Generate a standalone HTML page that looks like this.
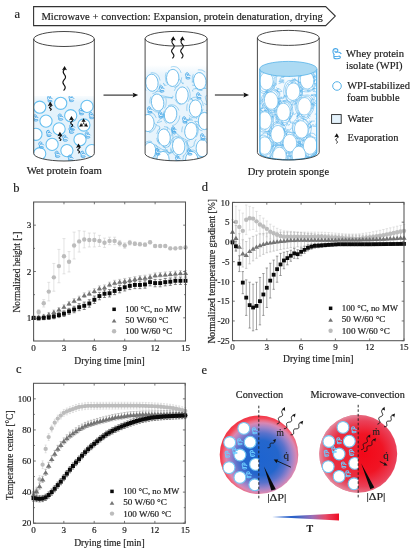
<!DOCTYPE html>
<html><head><meta charset="utf-8"><title>Figure</title>
<style>html,body{margin:0;padding:0;background:#fff}svg{display:block}text{font-family:"Liberation Serif",serif;stroke:#222;stroke-width:0.18px}</style>
</head><body>
<svg width="413" height="550" viewBox="0 0 413 550">
<rect width="413" height="550" fill="#fff"/>
<text x="14.60" y="17.60" font-size="12.5" fill="#222">a</text>
<polygon points="33.6,6.6 325.7,6.6 335.3,16.1 325.7,25.6 33.6,25.6" fill="#fff" stroke="#333" stroke-width="1.1"/>
<text x="41.40" y="19.50" font-size="10.6" textLength="281.4" lengthAdjust="spacingAndGlyphs" fill="#222">Microwave + convection: Expansion, protein denaturation, drying</text>
<defs><linearGradient id="foamfade" x1="0" y1="0" x2="0" y2="1"><stop offset="0" stop-color="#e4f2fb" stop-opacity="0"/><stop offset="0.12" stop-color="#e4f2fb" stop-opacity="1"/><stop offset="1" stop-color="#e4f2fb"/></linearGradient><linearGradient id="foamfade2" x1="0" y1="0" x2="0" y2="1"><stop offset="0" stop-color="#e8f4fc" stop-opacity="0"/><stop offset="0.1" stop-color="#e8f4fc" stop-opacity="1"/><stop offset="1" stop-color="#e8f4fc"/></linearGradient><clipPath id="cb1"><path d="M33.7,96 L33.7,153.5 A30.3,7.5 0 0 0 94.3,153.5 L94.3,96 Z"/></clipPath><clipPath id="cb2"><path d="M145.1,64 L145.1,153.5 A31,7.5 0 0 0 207.1,153.5 L207.1,64 Z"/></clipPath><clipPath id="cb3"><path d="M259.7,68.9 L259.7,152.5 A28.6,7.3 0 0 0 316.9,152.5 L316.9,68.9 Z"/></clipPath></defs>
<g clip-path="url(#cb1)">
<rect x="33" y="94" width="62" height="70" fill="url(#foamfade)"/>
<circle cx="39.7" cy="107.2" r="6.1" fill="#fff" stroke="#68c0f0" stroke-width="1.1"/>
<circle cx="60.7" cy="103.3" r="6.1" fill="#fff" stroke="#68c0f0" stroke-width="1.1"/>
<circle cx="87" cy="106.4" r="6.1" fill="#fff" stroke="#68c0f0" stroke-width="1.1"/>
<circle cx="46" cy="121.1" r="6.1" fill="#fff" stroke="#68c0f0" stroke-width="1.1"/>
<circle cx="70.7" cy="115.7" r="6.1" fill="#fff" stroke="#68c0f0" stroke-width="1.1"/>
<circle cx="59.1" cy="128.9" r="6.1" fill="#fff" stroke="#68c0f0" stroke-width="1.1"/>
<circle cx="83.9" cy="125" r="6.1" fill="#fff" stroke="#68c0f0" stroke-width="1.1"/>
<circle cx="35.9" cy="134.3" r="6.1" fill="#fff" stroke="#68c0f0" stroke-width="1.1"/>
<circle cx="52.1" cy="144.4" r="6.1" fill="#fff" stroke="#68c0f0" stroke-width="1.1"/>
<circle cx="80" cy="139.7" r="6.1" fill="#fff" stroke="#68c0f0" stroke-width="1.1"/>
<circle cx="66.9" cy="150.6" r="6.1" fill="#fff" stroke="#68c0f0" stroke-width="1.1"/>
<circle cx="39.7" cy="153.7" r="6.1" fill="#fff" stroke="#68c0f0" stroke-width="1.1"/>
<circle cx="91.7" cy="150.6" r="6.1" fill="#fff" stroke="#68c0f0" stroke-width="1.1"/>
<path transform="translate(71.5,98.6) scale(0.62)" d="M-2.5,1.2 C-5,-0.8 -4.5,-5 -1.5,-5.2 C1,-5.3 1.5,-3 0,-2 C-1,-1.3 -2.5,-2 -2,-3 M-1.5,-1.3 C1,-2.3 3.5,-1.3 4.3,0.2 M-3.2,0.7 L-3,4.2 C-2,5.2 2,5 3,4.2 C4,3.2 3,2.2 1.5,2.4 L-2.5,2.7" fill="none" stroke="#48a8e8" stroke-width="1.45"/>
<path transform="translate(81.6,111.8) scale(0.62)" d="M-2.5,1.2 C-5,-0.8 -4.5,-5 -1.5,-5.2 C1,-5.3 1.5,-3 0,-2 C-1,-1.3 -2.5,-2 -2,-3 M-1.5,-1.3 C1,-2.3 3.5,-1.3 4.3,0.2 M-3.2,0.7 L-3,4.2 C-2,5.2 2,5 3,4.2 C4,3.2 3,2.2 1.5,2.4 L-2.5,2.7" fill="none" stroke="#48a8e8" stroke-width="1.45"/>
<path transform="translate(60.7,117.2) scale(0.62)" d="M-2.5,1.2 C-5,-0.8 -4.5,-5 -1.5,-5.2 C1,-5.3 1.5,-3 0,-2 C-1,-1.3 -2.5,-2 -2,-3 M-1.5,-1.3 C1,-2.3 3.5,-1.3 4.3,0.2 M-3.2,0.7 L-3,4.2 C-2,5.2 2,5 3,4.2 C4,3.2 3,2.2 1.5,2.4 L-2.5,2.7" fill="none" stroke="#48a8e8" stroke-width="1.45"/>
<path transform="translate(35.9,118) scale(0.62)" d="M-2.5,1.2 C-5,-0.8 -4.5,-5 -1.5,-5.2 C1,-5.3 1.5,-3 0,-2 C-1,-1.3 -2.5,-2 -2,-3 M-1.5,-1.3 C1,-2.3 3.5,-1.3 4.3,0.2 M-3.2,0.7 L-3,4.2 C-2,5.2 2,5 3,4.2 C4,3.2 3,2.2 1.5,2.4 L-2.5,2.7" fill="none" stroke="#48a8e8" stroke-width="1.45"/>
<path transform="translate(91.7,115.7) scale(0.62)" d="M-2.5,1.2 C-5,-0.8 -4.5,-5 -1.5,-5.2 C1,-5.3 1.5,-3 0,-2 C-1,-1.3 -2.5,-2 -2,-3 M-1.5,-1.3 C1,-2.3 3.5,-1.3 4.3,0.2 M-3.2,0.7 L-3,4.2 C-2,5.2 2,5 3,4.2 C4,3.2 3,2.2 1.5,2.4 L-2.5,2.7" fill="none" stroke="#48a8e8" stroke-width="1.45"/>
<path transform="translate(72.3,127.3) scale(0.62)" d="M-2.5,1.2 C-5,-0.8 -4.5,-5 -1.5,-5.2 C1,-5.3 1.5,-3 0,-2 C-1,-1.3 -2.5,-2 -2,-3 M-1.5,-1.3 C1,-2.3 3.5,-1.3 4.3,0.2 M-3.2,0.7 L-3,4.2 C-2,5.2 2,5 3,4.2 C4,3.2 3,2.2 1.5,2.4 L-2.5,2.7" fill="none" stroke="#48a8e8" stroke-width="1.45"/>
<path transform="translate(49,133.5) scale(0.62)" d="M-2.5,1.2 C-5,-0.8 -4.5,-5 -1.5,-5.2 C1,-5.3 1.5,-3 0,-2 C-1,-1.3 -2.5,-2 -2,-3 M-1.5,-1.3 C1,-2.3 3.5,-1.3 4.3,0.2 M-3.2,0.7 L-3,4.2 C-2,5.2 2,5 3,4.2 C4,3.2 3,2.2 1.5,2.4 L-2.5,2.7" fill="none" stroke="#48a8e8" stroke-width="1.45"/>
<path transform="translate(65.3,138.2) scale(0.62)" d="M-2.5,1.2 C-5,-0.8 -4.5,-5 -1.5,-5.2 C1,-5.3 1.5,-3 0,-2 C-1,-1.3 -2.5,-2 -2,-3 M-1.5,-1.3 C1,-2.3 3.5,-1.3 4.3,0.2 M-3.2,0.7 L-3,4.2 C-2,5.2 2,5 3,4.2 C4,3.2 3,2.2 1.5,2.4 L-2.5,2.7" fill="none" stroke="#48a8e8" stroke-width="1.45"/>
<path transform="translate(41.3,145.1) scale(0.62)" d="M-2.5,1.2 C-5,-0.8 -4.5,-5 -1.5,-5.2 C1,-5.3 1.5,-3 0,-2 C-1,-1.3 -2.5,-2 -2,-3 M-1.5,-1.3 C1,-2.3 3.5,-1.3 4.3,0.2 M-3.2,0.7 L-3,4.2 C-2,5.2 2,5 3,4.2 C4,3.2 3,2.2 1.5,2.4 L-2.5,2.7" fill="none" stroke="#48a8e8" stroke-width="1.45"/>
<path transform="translate(87.8,135.1) scale(0.62)" d="M-2.5,1.2 C-5,-0.8 -4.5,-5 -1.5,-5.2 C1,-5.3 1.5,-3 0,-2 C-1,-1.3 -2.5,-2 -2,-3 M-1.5,-1.3 C1,-2.3 3.5,-1.3 4.3,0.2 M-3.2,0.7 L-3,4.2 C-2,5.2 2,5 3,4.2 C4,3.2 3,2.2 1.5,2.4 L-2.5,2.7" fill="none" stroke="#48a8e8" stroke-width="1.45"/>
<path transform="translate(57.6,154.4) scale(0.62)" d="M-2.5,1.2 C-5,-0.8 -4.5,-5 -1.5,-5.2 C1,-5.3 1.5,-3 0,-2 C-1,-1.3 -2.5,-2 -2,-3 M-1.5,-1.3 C1,-2.3 3.5,-1.3 4.3,0.2 M-3.2,0.7 L-3,4.2 C-2,5.2 2,5 3,4.2 C4,3.2 3,2.2 1.5,2.4 L-2.5,2.7" fill="none" stroke="#48a8e8" stroke-width="1.45"/>
<path transform="translate(70.7,158.3) scale(0.62)" d="M-2.5,1.2 C-5,-0.8 -4.5,-5 -1.5,-5.2 C1,-5.3 1.5,-3 0,-2 C-1,-1.3 -2.5,-2 -2,-3 M-1.5,-1.3 C1,-2.3 3.5,-1.3 4.3,0.2 M-3.2,0.7 L-3,4.2 C-2,5.2 2,5 3,4.2 C4,3.2 3,2.2 1.5,2.4 L-2.5,2.7" fill="none" stroke="#48a8e8" stroke-width="1.45"/>
<path transform="translate(83.1,154.4) scale(0.62)" d="M-2.5,1.2 C-5,-0.8 -4.5,-5 -1.5,-5.2 C1,-5.3 1.5,-3 0,-2 C-1,-1.3 -2.5,-2 -2,-3 M-1.5,-1.3 C1,-2.3 3.5,-1.3 4.3,0.2 M-3.2,0.7 L-3,4.2 C-2,5.2 2,5 3,4.2 C4,3.2 3,2.2 1.5,2.4 L-2.5,2.7" fill="none" stroke="#48a8e8" stroke-width="1.45"/>
<path transform="translate(71.5,130.4) scale(0.62)" d="M-2.5,1.2 C-5,-0.8 -4.5,-5 -1.5,-5.2 C1,-5.3 1.5,-3 0,-2 C-1,-1.3 -2.5,-2 -2,-3 M-1.5,-1.3 C1,-2.3 3.5,-1.3 4.3,0.2 M-3.2,0.7 L-3,4.2 C-2,5.2 2,5 3,4.2 C4,3.2 3,2.2 1.5,2.4 L-2.5,2.7" fill="none" stroke="#48a8e8" stroke-width="1.45"/>
<path transform="translate(50,99) scale(0.62)" d="M-2.5,1.2 C-5,-0.8 -4.5,-5 -1.5,-5.2 C1,-5.3 1.5,-3 0,-2 C-1,-1.3 -2.5,-2 -2,-3 M-1.5,-1.3 C1,-2.3 3.5,-1.3 4.3,0.2 M-3.2,0.7 L-3,4.2 C-2,5.2 2,5 3,4.2 C4,3.2 3,2.2 1.5,2.4 L-2.5,2.7" fill="none" stroke="#48a8e8" stroke-width="1.45"/>
</g>
<path d="M33.7,39 L33.7,153.5 A30.3,7.5 0 0 0 94.3,153.5 L94.3,39" fill="none" stroke="#333" stroke-width="0.9"/>
<ellipse cx="64" cy="39" rx="30.3" ry="7.5" fill="none" stroke="#333" stroke-width="0.9"/>
<path d="M63.90,90.20 L64.29,89.69 L64.64,89.17 L64.92,88.65 L65.10,88.14 L65.18,87.61 L65.13,87.09 L64.98,86.56 L64.73,86.03 L64.41,85.49 L64.05,84.96 L63.70,84.42 L63.38,83.89 L63.13,83.35 L62.97,82.83 L62.93,82.30 L63.00,81.78 L63.19,81.26 L63.47,80.74 L63.82,80.23 L64.20,79.71 L64.59,79.20 L64.94,78.68 L65.22,78.17 L65.40,77.65 L65.48,77.12 L65.44,76.60 L65.28,76.07 L65.03,75.54 L64.71,75.00 L64.36,74.47 L64.00,73.93 L63.68,73.40 L63.43,72.87 L63.27,72.34 L63.23,71.81 L63.31,71.29 L63.49,70.77 L63.77,70.25 L64.12,69.74 L64.51,69.22" fill="none" stroke="#111" stroke-width="1.2" stroke-linecap="round"/>
<path d="M64.60,66.00 L66.97,70.37 L64.50,69.52 L61.98,70.23 Z" fill="#111"/>
<path d="M50.40,110.20 L50.61,110.06 L50.80,109.93 L50.98,109.79 L51.12,109.66 L51.22,109.53 L51.27,109.40 L51.28,109.26 L51.23,109.13 L51.14,109.01 L51.01,108.88 L50.84,108.75 L50.64,108.63 L50.43,108.50 L50.22,108.37 L50.01,108.25 L49.82,108.12 L49.66,107.99 L49.54,107.87 L49.47,107.74 L49.44,107.61 L49.46,107.48 L49.53,107.34 L49.65,107.21 L49.80,107.08 L49.98,106.94 L50.18,106.81 L50.39,106.67 L50.59,106.54 L50.78,106.40 L50.95,106.27 L51.07,106.13 L51.16,106.00 L51.20,105.87 L51.19,105.74 L51.12,105.61 L51.02,105.48 L50.87,105.35 L50.69,105.23 L50.49,105.10 L50.28,104.97" fill="none" stroke="#111" stroke-width="1.1" stroke-linecap="round"/>
<path d="M50.20,101.60 L52.90,106.04 L50.29,105.29 L47.71,106.16 Z" fill="#111"/>
<path d="M71.70,126.50 L71.90,126.31 L72.10,126.13 L72.27,125.94 L72.41,125.76 L72.51,125.57 L72.56,125.39 L72.56,125.21 L72.51,125.03 L72.42,124.85 L72.29,124.68 L72.11,124.50 L71.92,124.32 L71.70,124.15 L71.49,123.97 L71.28,123.80 L71.09,123.62 L70.93,123.45 L70.81,123.27 L70.73,123.09 L70.70,122.91 L70.72,122.73 L70.79,122.55 L70.90,122.36 L71.05,122.18 L71.23,121.99 L71.43,121.81 L71.63,121.62 L71.83,121.43 L72.02,121.25 L72.18,121.06 L72.31,120.88 L72.39,120.69 L72.43,120.51 L72.41,120.33 L72.35,120.15 L72.24,119.98 L72.10,119.80 L71.91,119.62 L71.71,119.45 L71.50,119.27" fill="none" stroke="#111" stroke-width="1.1" stroke-linecap="round"/>
<path d="M71.40,115.90 L74.13,120.32 L71.50,119.59 L68.93,120.47 Z" fill="#111"/>
<path d="M60.10,140.50 L60.31,140.36 L60.50,140.22 L60.68,140.09 L60.82,139.95 L60.92,139.82 L60.97,139.68 L60.98,139.55 L60.93,139.42 L60.84,139.28 L60.71,139.15 L60.54,139.02 L60.34,138.90 L60.13,138.77 L59.92,138.64 L59.71,138.51 L59.52,138.38 L59.36,138.25 L59.24,138.12 L59.17,137.99 L59.14,137.86 L59.16,137.72 L59.23,137.59 L59.35,137.45 L59.50,137.32 L59.68,137.18 L59.88,137.04 L60.09,136.90 L60.29,136.77 L60.48,136.63 L60.64,136.49 L60.77,136.35 L60.86,136.22 L60.90,136.09 L60.88,135.95 L60.82,135.82 L60.72,135.69 L60.57,135.56 L60.39,135.43 L60.19,135.30 L59.98,135.17" fill="none" stroke="#111" stroke-width="1.1" stroke-linecap="round"/>
<path d="M59.90,131.80 L62.60,136.24 L59.98,135.49 L57.40,136.36 Z" fill="#111"/>
<path d="M78.70,152.90 L78.91,152.74 L79.10,152.59 L79.27,152.43 L79.42,152.27 L79.52,152.12 L79.57,151.96 L79.57,151.81 L79.53,151.66 L79.44,151.51 L79.30,151.36 L79.13,151.21 L78.94,151.06 L78.73,150.91 L78.51,150.76 L78.31,150.61 L78.12,150.46 L77.96,150.31 L77.84,150.16 L77.76,150.01 L77.74,149.86 L77.76,149.70 L77.83,149.55 L77.94,149.39 L78.09,149.24 L78.28,149.08 L78.48,148.92 L78.68,148.76 L78.89,148.61 L79.08,148.45 L79.24,148.29 L79.37,148.14 L79.45,147.98 L79.49,147.83 L79.48,147.67 L79.42,147.52 L79.31,147.37 L79.17,147.22 L78.99,147.07 L78.78,146.92 L78.57,146.77" fill="none" stroke="#111" stroke-width="1.1" stroke-linecap="round"/>
<path d="M78.50,143.40 L81.19,147.84 L78.58,147.09 L76.00,147.95 Z" fill="#111"/>
<path d="M83.60,123.30 L83.60,123.25 L83.60,123.19 L83.60,123.14 L83.60,123.08 L83.60,123.03 L83.60,122.97 L83.61,122.92 L83.61,122.86 L83.61,122.81 L83.61,122.76 L83.61,122.70 L83.61,122.65 L83.61,122.59 L83.61,122.54 L83.61,122.48 L83.61,122.43 L83.61,122.38 L83.61,122.32 L83.61,122.27 L83.61,122.21 L83.61,122.16 L83.61,122.10 L83.61,122.05 L83.61,121.99 L83.61,121.94 L83.61,121.89 L83.61,121.83 L83.61,121.78 L83.61,121.72 L83.61,121.67 L83.61,121.61 L83.61,121.56 L83.61,121.51 L83.60,121.45 L83.60,121.40 L83.60,121.34 L83.60,121.29 L83.60,121.23 L83.60,121.18 L83.60,121.12" fill="none" stroke="#111" stroke-width="0.8" stroke-linecap="round"/>
<path d="M83.60,118.20 L85.70,122.10 L83.60,121.40 L81.50,122.10 Z" fill="#111"/>
<path d="M83.35,123.77 L83.31,123.80 L83.26,123.83 L83.22,123.86 L83.17,123.89 L83.13,123.92 L83.08,123.96 L83.04,123.99 L82.99,124.02 L82.95,124.05 L82.90,124.08 L82.86,124.11 L82.82,124.14 L82.77,124.17 L82.73,124.20 L82.68,124.23 L82.64,124.26 L82.59,124.29 L82.55,124.33 L82.50,124.36 L82.46,124.39 L82.41,124.42 L82.37,124.45 L82.32,124.48 L82.28,124.51 L82.24,124.54 L82.19,124.58 L82.15,124.61 L82.10,124.64 L82.06,124.67 L82.01,124.70 L81.97,124.73 L81.93,124.77 L81.88,124.80 L81.84,124.83 L81.79,124.86 L81.75,124.89 L81.70,124.92 L81.66,124.96 L81.62,124.99 L81.57,125.02" fill="none" stroke="#111" stroke-width="0.8" stroke-linecap="round"/>
<path d="M79.18,126.70 L81.17,122.74 L81.80,124.86 L83.58,126.18 Z" fill="#111"/>
<path d="M83.85,123.77 L83.89,123.80 L83.93,123.84 L83.98,123.87 L84.02,123.90 L84.07,123.93 L84.11,123.96 L84.15,123.99 L84.20,124.03 L84.24,124.06 L84.29,124.09 L84.33,124.12 L84.38,124.15 L84.42,124.18 L84.46,124.22 L84.51,124.25 L84.55,124.28 L84.60,124.31 L84.64,124.34 L84.69,124.37 L84.73,124.40 L84.78,124.44 L84.82,124.47 L84.86,124.50 L84.91,124.53 L84.95,124.56 L85.00,124.59 L85.04,124.62 L85.09,124.65 L85.13,124.68 L85.18,124.71 L85.22,124.74 L85.27,124.77 L85.31,124.81 L85.36,124.84 L85.40,124.87 L85.45,124.90 L85.49,124.93 L85.54,124.96 L85.58,124.99 L85.63,125.02" fill="none" stroke="#111" stroke-width="0.8" stroke-linecap="round"/>
<path d="M88.02,126.70 L83.62,126.18 L85.40,124.86 L86.03,122.74 Z" fill="#111"/>
<path d="M103.5,95.1 L134,95.1" stroke="#111" stroke-width="1"/><path d="M138.2,95.1 L132.6,92.7 L133.6,95.1 L132.6,97.5 Z" fill="#111"/>
<path d="M214.9,95 L245,95" stroke="#111" stroke-width="1"/><path d="M249,95 L243.4,92.6 L244.4,95 L243.4,97.4 Z" fill="#111"/>
<g clip-path="url(#cb2)">
<rect x="144" y="65" width="64" height="100" fill="url(#foamfade2)"/>
<ellipse cx="152.1" cy="83.2" rx="8.2" ry="10.5" transform="rotate(4 151.9 82.7)" fill="none" stroke="#56b2e8" stroke-width="0.5" stroke-dasharray="13.5,7.4"/>
<ellipse cx="173.5" cy="77.0" rx="8.2" ry="10.5" transform="rotate(2 172.7 77.9)" fill="none" stroke="#56b2e8" stroke-width="0.5" stroke-dasharray="13.5,6.9"/>
<ellipse cx="200.6" cy="80.3" rx="8.2" ry="10.5" transform="rotate(-9 199.8 81.1)" fill="none" stroke="#56b2e8" stroke-width="0.5" stroke-dasharray="8.0,6.3"/>
<ellipse cx="182.1" cy="94.5" rx="8.2" ry="10.5" transform="rotate(-3 182 95.5)" fill="none" stroke="#56b2e8" stroke-width="0.5" stroke-dasharray="8.2,8.5"/>
<ellipse cx="158.1" cy="101.8" rx="8.2" ry="10.5" transform="rotate(-1 157.6 102.5)" fill="none" stroke="#56b2e8" stroke-width="0.5" stroke-dasharray="7.1,6.7"/>
<ellipse cx="194.8" cy="107.5" rx="8.2" ry="10.5" transform="rotate(11 195.5 108.5)" fill="none" stroke="#56b2e8" stroke-width="0.5" stroke-dasharray="7.7,4.3"/>
<ellipse cx="171.6" cy="115.2" rx="8.2" ry="10.5" transform="rotate(2 170.6 114.5)" fill="none" stroke="#56b2e8" stroke-width="0.5" stroke-dasharray="13.7,6.2"/>
<ellipse cx="148.3" cy="122.4" rx="8.2" ry="10.5" transform="rotate(13 147.9 123)" fill="none" stroke="#56b2e8" stroke-width="0.5" stroke-dasharray="11.5,8.8"/>
<ellipse cx="164.9" cy="137.1" rx="8.2" ry="10.5" transform="rotate(-9 164.1 137.5)" fill="none" stroke="#56b2e8" stroke-width="0.5" stroke-dasharray="7.3,3.9"/>
<ellipse cx="190.0" cy="130.6" rx="8.2" ry="10.5" transform="rotate(9 190.9 131)" fill="none" stroke="#56b2e8" stroke-width="0.5" stroke-dasharray="6.0,7.1"/>
<ellipse cx="204.2" cy="120.6" rx="8.2" ry="10.5" transform="rotate(10 204.5 121)" fill="none" stroke="#56b2e8" stroke-width="0.5" stroke-dasharray="9.8,4.9"/>
<ellipse cx="178.7" cy="146.6" rx="8.2" ry="10.5" transform="rotate(-17 178.7 146.2)" fill="none" stroke="#56b2e8" stroke-width="0.5" stroke-dasharray="13.8,3.1"/>
<ellipse cx="150.0" cy="151.7" rx="8.2" ry="10.5" transform="rotate(-9 149.5 151)" fill="none" stroke="#56b2e8" stroke-width="0.5" stroke-dasharray="12.3,5.2"/>
<ellipse cx="202.5" cy="147.2" rx="8.2" ry="10.5" transform="rotate(-14 202.3 148.2)" fill="none" stroke="#56b2e8" stroke-width="0.5" stroke-dasharray="7.4,8.7"/>
<ellipse cx="191.1" cy="160.5" rx="8.2" ry="10.5" transform="rotate(13 191.7 160)" fill="none" stroke="#56b2e8" stroke-width="0.5" stroke-dasharray="13.5,5.1"/>
<ellipse cx="162.7" cy="160.0" rx="8.2" ry="10.5" transform="rotate(8 163 160)" fill="none" stroke="#56b2e8" stroke-width="0.5" stroke-dasharray="6.9,7.5"/>
<path d="M193.8,145.7 q-4.6,4.5 -6.5,-2.5 t1.8,6.7" fill="none" stroke="#56b2e8" stroke-width="0.55"/>
<path d="M166.4,151.3 q0.5,-1.9 -2.9,-5.2 t-6.7,-5.6" fill="none" stroke="#56b2e8" stroke-width="0.55"/>
<path d="M187.4,157.7 q-3.4,-4.5 7.8,0.5 t-1.5,-4.2" fill="none" stroke="#56b2e8" stroke-width="0.55"/>
<path d="M181.6,142.7 q-0.4,-0.8 -7.1,6.7 t-7.5,-0.1" fill="none" stroke="#56b2e8" stroke-width="0.55"/>
<path d="M196.3,81.5 q2.3,4.5 2.1,4.6 t-6.3,-1.0" fill="none" stroke="#56b2e8" stroke-width="0.55"/>
<path d="M155.0,144.3 q-2.1,-0.5 8.0,5.6 t7.6,-0.7" fill="none" stroke="#56b2e8" stroke-width="0.55"/>
<path d="M175.3,134.2 q-0.2,-2.1 -1.5,-5.7 t-2.0,7.8" fill="none" stroke="#56b2e8" stroke-width="0.55"/>
<path d="M203.6,125.2 q-0.0,-1.6 -6.6,-3.6 t4.5,5.9" fill="none" stroke="#56b2e8" stroke-width="0.55"/>
<path d="M167.7,139.2 q2.7,1.9 2.6,4.2 t-2.2,3.3" fill="none" stroke="#56b2e8" stroke-width="0.55"/>
<path d="M162.9,112.7 q2.7,1.9 -3.3,7.1 t2.4,1.3" fill="none" stroke="#56b2e8" stroke-width="0.55"/>
<path d="M146.7,118.1 q-2.5,1.7 -0.6,5.1 t2.4,4.8" fill="none" stroke="#56b2e8" stroke-width="0.55"/>
<path d="M166.9,126.7 q2.4,3.3 -2.4,5.5 t5.9,3.0" fill="none" stroke="#56b2e8" stroke-width="0.55"/>
<path d="M204.6,154.2 q0.2,0.3 -5.3,5.4 t7.0,-0.4" fill="none" stroke="#56b2e8" stroke-width="0.55"/>
<path d="M187.5,133.3 q2.3,-3.3 4.5,1.3 t2.6,-1.3" fill="none" stroke="#56b2e8" stroke-width="0.55"/>
<path d="M183.4,138.2 q1.4,2.2 -7.6,-5.4 t-0.9,2.4" fill="none" stroke="#56b2e8" stroke-width="0.55"/>
<path d="M159.1,130.4 q1.3,-4.6 -0.5,-4.4 t-7.1,-5.9" fill="none" stroke="#56b2e8" stroke-width="0.55"/>
<path d="M165.0,86.0 q-3.1,-4.6 -0.6,-1.9 t1.8,1.4" fill="none" stroke="#56b2e8" stroke-width="0.55"/>
<path d="M160.3,149.5 q-5.0,-0.9 -3.5,-1.4 t-6.2,5.3" fill="none" stroke="#56b2e8" stroke-width="0.55"/>
<path d="M168.4,73.2 q1.1,-4.1 0.7,-2.6 t1.3,7.3" fill="none" stroke="#56b2e8" stroke-width="0.55"/>
<path d="M195.1,106.9 q3.1,1.4 -2.1,-5.7 t1.5,1.0" fill="none" stroke="#56b2e8" stroke-width="0.55"/>
<path d="M203.4,155.2 q1.1,-1.5 6.3,-8.0 t-6.3,1.1" fill="none" stroke="#56b2e8" stroke-width="0.55"/>
<path d="M182.9,82.4 q1.3,3.9 -2.0,-1.1 t-4.4,-3.3" fill="none" stroke="#56b2e8" stroke-width="0.55"/>
<path d="M204.3,103.4 q4.6,4.1 1.5,-3.8 t7.7,-0.1" fill="none" stroke="#56b2e8" stroke-width="0.55"/>
<path d="M170.9,98.1 q4.8,-0.1 -3.4,-0.4 t-6.0,1.9" fill="none" stroke="#56b2e8" stroke-width="0.55"/>
<path d="M172.6,95.8 q2.8,3.3 -7.8,0.5 t-3.6,7.0" fill="none" stroke="#56b2e8" stroke-width="0.55"/>
<path d="M192.9,91.6 q-2.3,-3.5 7.8,-3.3 t1.7,-0.4" fill="none" stroke="#56b2e8" stroke-width="0.55"/>
<path d="M184.7,123.1 q2.4,-3.8 4.2,-3.2 t0.5,-2.6" fill="none" stroke="#56b2e8" stroke-width="0.55"/>
<path d="M163.8,116.6 q-0.4,-1.4 3.9,1.5 t-7.4,-4.0" fill="none" stroke="#56b2e8" stroke-width="0.55"/>
<path d="M173.3,150.7 q3.9,0.5 -7.8,4.5 t-1.2,1.2" fill="none" stroke="#56b2e8" stroke-width="0.55"/>
<path d="M188.5,125.6 q-0.2,4.1 -1.8,-1.7 t5.6,-4.9" fill="none" stroke="#56b2e8" stroke-width="0.55"/>
<path d="M163.8,143.0 q-4.3,3.4 3.1,-1.1 t-3.4,4.5" fill="none" stroke="#56b2e8" stroke-width="0.55"/>
<path d="M200.6,82.6 q-0.2,0.5 -0.0,-2.7 t-5.5,1.4" fill="none" stroke="#56b2e8" stroke-width="0.55"/>
<path d="M194.7,76.0 q-2.7,3.2 4.7,2.6 t-7.6,3.6" fill="none" stroke="#56b2e8" stroke-width="0.55"/>
<path d="M204.7,157.9 q2.0,-4.5 5.5,-4.5 t2.3,7.2" fill="none" stroke="#56b2e8" stroke-width="0.55"/>
<ellipse cx="151.9" cy="82.7" rx="6.2" ry="8.6" transform="rotate(-5 151.9 82.7)" fill="#fff" stroke="#56b2e8" stroke-width="0.8"/>
<ellipse cx="172.7" cy="77.9" rx="6.2" ry="8.6" transform="rotate(3 172.7 77.9)" fill="#fff" stroke="#56b2e8" stroke-width="0.8"/>
<ellipse cx="199.8" cy="81.1" rx="6.2" ry="8.6" transform="rotate(-8 199.8 81.1)" fill="#fff" stroke="#56b2e8" stroke-width="0.8"/>
<ellipse cx="182" cy="95.5" rx="6.2" ry="8.6" transform="rotate(5 182 95.5)" fill="#fff" stroke="#56b2e8" stroke-width="0.8"/>
<ellipse cx="157.6" cy="102.5" rx="6.2" ry="8.6" transform="rotate(-10 157.6 102.5)" fill="#fff" stroke="#56b2e8" stroke-width="0.8"/>
<ellipse cx="195.5" cy="108.5" rx="6.2" ry="8.6" transform="rotate(0 195.5 108.5)" fill="#fff" stroke="#56b2e8" stroke-width="0.8"/>
<ellipse cx="170.6" cy="114.5" rx="6.2" ry="8.6" transform="rotate(8 170.6 114.5)" fill="#fff" stroke="#56b2e8" stroke-width="0.8"/>
<ellipse cx="147.9" cy="123" rx="6.2" ry="8.6" transform="rotate(0 147.9 123)" fill="#fff" stroke="#56b2e8" stroke-width="0.8"/>
<ellipse cx="164.1" cy="137.5" rx="6.2" ry="8.6" transform="rotate(-5 164.1 137.5)" fill="#fff" stroke="#56b2e8" stroke-width="0.8"/>
<ellipse cx="190.9" cy="131" rx="6.2" ry="8.6" transform="rotate(6 190.9 131)" fill="#fff" stroke="#56b2e8" stroke-width="0.8"/>
<ellipse cx="204.5" cy="121" rx="6.2" ry="8.6" transform="rotate(0 204.5 121)" fill="#fff" stroke="#56b2e8" stroke-width="0.8"/>
<ellipse cx="178.7" cy="146.2" rx="6.2" ry="8.6" transform="rotate(-4 178.7 146.2)" fill="#fff" stroke="#56b2e8" stroke-width="0.8"/>
<ellipse cx="149.5" cy="151" rx="6.2" ry="8.6" transform="rotate(5 149.5 151)" fill="#fff" stroke="#56b2e8" stroke-width="0.8"/>
<ellipse cx="202.3" cy="148.2" rx="6.2" ry="8.6" transform="rotate(0 202.3 148.2)" fill="#fff" stroke="#56b2e8" stroke-width="0.8"/>
<ellipse cx="191.7" cy="160" rx="6.2" ry="8.6" transform="rotate(0 191.7 160)" fill="#fff" stroke="#56b2e8" stroke-width="0.8"/>
<ellipse cx="163" cy="160" rx="6.2" ry="8.6" transform="rotate(0 163 160)" fill="#fff" stroke="#56b2e8" stroke-width="0.8"/>
<path transform="translate(188,76) scale(0.62)" d="M-2.5,1.2 C-5,-0.8 -4.5,-5 -1.5,-5.2 C1,-5.3 1.5,-3 0,-2 C-1,-1.3 -2.5,-2 -2,-3 M-1.5,-1.3 C1,-2.3 3.5,-1.3 4.3,0.2 M-3.2,0.7 L-3,4.2 C-2,5.2 2,5 3,4.2 C4,3.2 3,2.2 1.5,2.4 L-2.5,2.7" fill="none" stroke="#48a8e8" stroke-width="1.45"/>
<path transform="translate(162,89) scale(0.62)" d="M-2.5,1.2 C-5,-0.8 -4.5,-5 -1.5,-5.2 C1,-5.3 1.5,-3 0,-2 C-1,-1.3 -2.5,-2 -2,-3 M-1.5,-1.3 C1,-2.3 3.5,-1.3 4.3,0.2 M-3.2,0.7 L-3,4.2 C-2,5.2 2,5 3,4.2 C4,3.2 3,2.2 1.5,2.4 L-2.5,2.7" fill="none" stroke="#48a8e8" stroke-width="1.45"/>
<path transform="translate(199,96) scale(0.62)" d="M-2.5,1.2 C-5,-0.8 -4.5,-5 -1.5,-5.2 C1,-5.3 1.5,-3 0,-2 C-1,-1.3 -2.5,-2 -2,-3 M-1.5,-1.3 C1,-2.3 3.5,-1.3 4.3,0.2 M-3.2,0.7 L-3,4.2 C-2,5.2 2,5 3,4.2 C4,3.2 3,2.2 1.5,2.4 L-2.5,2.7" fill="none" stroke="#48a8e8" stroke-width="1.45"/>
<path transform="translate(185,120) scale(0.62)" d="M-2.5,1.2 C-5,-0.8 -4.5,-5 -1.5,-5.2 C1,-5.3 1.5,-3 0,-2 C-1,-1.3 -2.5,-2 -2,-3 M-1.5,-1.3 C1,-2.3 3.5,-1.3 4.3,0.2 M-3.2,0.7 L-3,4.2 C-2,5.2 2,5 3,4.2 C4,3.2 3,2.2 1.5,2.4 L-2.5,2.7" fill="none" stroke="#48a8e8" stroke-width="1.45"/>
<path transform="translate(161,115) scale(0.62)" d="M-2.5,1.2 C-5,-0.8 -4.5,-5 -1.5,-5.2 C1,-5.3 1.5,-3 0,-2 C-1,-1.3 -2.5,-2 -2,-3 M-1.5,-1.3 C1,-2.3 3.5,-1.3 4.3,0.2 M-3.2,0.7 L-3,4.2 C-2,5.2 2,5 3,4.2 C4,3.2 3,2.2 1.5,2.4 L-2.5,2.7" fill="none" stroke="#48a8e8" stroke-width="1.45"/>
<path transform="translate(174,130) scale(0.62)" d="M-2.5,1.2 C-5,-0.8 -4.5,-5 -1.5,-5.2 C1,-5.3 1.5,-3 0,-2 C-1,-1.3 -2.5,-2 -2,-3 M-1.5,-1.3 C1,-2.3 3.5,-1.3 4.3,0.2 M-3.2,0.7 L-3,4.2 C-2,5.2 2,5 3,4.2 C4,3.2 3,2.2 1.5,2.4 L-2.5,2.7" fill="none" stroke="#48a8e8" stroke-width="1.45"/>
<path transform="translate(203,137) scale(0.62)" d="M-2.5,1.2 C-5,-0.8 -4.5,-5 -1.5,-5.2 C1,-5.3 1.5,-3 0,-2 C-1,-1.3 -2.5,-2 -2,-3 M-1.5,-1.3 C1,-2.3 3.5,-1.3 4.3,0.2 M-3.2,0.7 L-3,4.2 C-2,5.2 2,5 3,4.2 C4,3.2 3,2.2 1.5,2.4 L-2.5,2.7" fill="none" stroke="#48a8e8" stroke-width="1.45"/>
<path transform="translate(158,152) scale(0.62)" d="M-2.5,1.2 C-5,-0.8 -4.5,-5 -1.5,-5.2 C1,-5.3 1.5,-3 0,-2 C-1,-1.3 -2.5,-2 -2,-3 M-1.5,-1.3 C1,-2.3 3.5,-1.3 4.3,0.2 M-3.2,0.7 L-3,4.2 C-2,5.2 2,5 3,4.2 C4,3.2 3,2.2 1.5,2.4 L-2.5,2.7" fill="none" stroke="#48a8e8" stroke-width="1.45"/>
<path transform="translate(190,152) scale(0.62)" d="M-2.5,1.2 C-5,-0.8 -4.5,-5 -1.5,-5.2 C1,-5.3 1.5,-3 0,-2 C-1,-1.3 -2.5,-2 -2,-3 M-1.5,-1.3 C1,-2.3 3.5,-1.3 4.3,0.2 M-3.2,0.7 L-3,4.2 C-2,5.2 2,5 3,4.2 C4,3.2 3,2.2 1.5,2.4 L-2.5,2.7" fill="none" stroke="#48a8e8" stroke-width="1.45"/>
<path transform="translate(178,159) scale(0.62)" d="M-2.5,1.2 C-5,-0.8 -4.5,-5 -1.5,-5.2 C1,-5.3 1.5,-3 0,-2 C-1,-1.3 -2.5,-2 -2,-3 M-1.5,-1.3 C1,-2.3 3.5,-1.3 4.3,0.2 M-3.2,0.7 L-3,4.2 C-2,5.2 2,5 3,4.2 C4,3.2 3,2.2 1.5,2.4 L-2.5,2.7" fill="none" stroke="#48a8e8" stroke-width="1.45"/>
<path transform="translate(150,110) scale(0.62)" d="M-2.5,1.2 C-5,-0.8 -4.5,-5 -1.5,-5.2 C1,-5.3 1.5,-3 0,-2 C-1,-1.3 -2.5,-2 -2,-3 M-1.5,-1.3 C1,-2.3 3.5,-1.3 4.3,0.2 M-3.2,0.7 L-3,4.2 C-2,5.2 2,5 3,4.2 C4,3.2 3,2.2 1.5,2.4 L-2.5,2.7" fill="none" stroke="#48a8e8" stroke-width="1.45"/>
</g>
<path d="M145.1,38.7 L145.1,153.5 A31,7.3 0 0 0 207.1,153.5 L207.1,38.7" fill="none" stroke="#333" stroke-width="0.9"/>
<ellipse cx="176.1" cy="38.7" rx="31" ry="7.3" fill="none" stroke="#333" stroke-width="0.9"/>
<path d="M172.60,58.00 L172.99,57.55 L173.33,57.09 L173.62,56.64 L173.80,56.18 L173.87,55.72 L173.83,55.25 L173.67,54.78 L173.42,54.31 L173.10,53.83 L172.75,53.36 L172.39,52.88 L172.07,52.40 L171.82,51.93 L171.67,51.46 L171.62,51.00 L171.70,50.53 L171.88,50.07 L172.16,49.62 L172.51,49.16 L172.90,48.71 L173.28,48.26 L173.63,47.81 L173.91,47.35 L174.10,46.89 L174.17,46.43 L174.13,45.96 L173.97,45.49 L173.72,45.02 L173.40,44.54 L173.05,44.07 L172.69,43.59 L172.37,43.12 L172.12,42.64 L171.97,42.17 L171.92,41.71 L172.00,41.24 L172.18,40.79 L172.46,40.33 L172.81,39.88 L173.20,39.42" fill="none" stroke="#111" stroke-width="1.15" stroke-linecap="round"/>
<path d="M173.30,36.20 L175.76,40.58 L173.19,39.72 L170.56,40.41 Z" fill="#111"/>
<path d="M181.70,58.00 L182.09,57.55 L182.43,57.09 L182.72,56.64 L182.90,56.18 L182.97,55.72 L182.93,55.25 L182.77,54.78 L182.52,54.31 L182.20,53.83 L181.85,53.36 L181.49,52.88 L181.17,52.40 L180.92,51.93 L180.77,51.46 L180.72,51.00 L180.80,50.53 L180.98,50.07 L181.26,49.62 L181.61,49.16 L182.00,48.71 L182.38,48.26 L182.73,47.81 L183.01,47.35 L183.20,46.89 L183.27,46.43 L183.23,45.96 L183.07,45.49 L182.82,45.02 L182.50,44.54 L182.15,44.07 L181.79,43.59 L181.47,43.12 L181.22,42.64 L181.07,42.17 L181.02,41.71 L181.10,41.24 L181.28,40.79 L181.56,40.33 L181.91,39.88 L182.30,39.42" fill="none" stroke="#111" stroke-width="1.15" stroke-linecap="round"/>
<path d="M182.40,36.20 L184.86,40.58 L182.29,39.72 L179.66,40.41 Z" fill="#111"/>
<g clip-path="url(#cb3)">
<rect x="258" y="66" width="60" height="95" fill="#f4fafe"/>
<path d="M285.7,120.4 L287.9,119.3 L285.2,119.1 L286.2,121.4 M296.2,141.4 L297.9,142.5 L300.5,144.2 L300.0,142.7 M316.9,156.8 L315.4,154.6 L316.2,155.9 L314.6,155.6 M270.2,91.8 L272.6,92.2 L269.6,93.4 L266.9,93.1 M288.5,129.6 L286.5,130.2 L290.0,130.1 L291.6,127.7 M277.6,90.7 L277.2,92.3 L277.4,90.0 L278.7,88.1 M315.5,146.3 L317.4,146.3 L319.5,145.0 L321.8,144.7 M263.3,126.7 L263.7,124.6 L265.5,125.8 L268.5,125.1 M266.0,92.2 L267.3,93.1 L267.8,91.4 L265.6,90.5 M270.3,135.9 L272.1,137.9 L273.9,139.5 L274.4,141.5 M316.3,142.3 L315.2,145.4 L315.8,147.6 L317.5,145.4 M264.9,159.0 L265.4,161.0 L265.7,158.9 L265.2,160.4 M264.3,122.4 L264.4,125.1 L262.8,126.9 L265.2,126.3 M292.9,148.0 L293.6,149.6 L296.3,147.9 L296.3,149.8 M302.6,154.6 L303.7,157.8 L305.7,156.0 L304.2,156.8 M261.3,156.6 L261.5,159.5 L261.4,162.7 L259.6,161.5 M269.4,134.8 L271.1,135.7 L268.1,134.5 L266.6,133.1 M313.1,88.4 L315.2,88.6 L313.6,89.1 L314.6,91.1 M292.8,81.8 L290.6,84.3 L293.4,84.0 L292.5,81.5 M267.3,73.2 L270.6,73.5 L269.5,70.3 L272.3,70.6 M287.5,135.7 L286.0,138.9 L288.3,140.1 L288.0,136.8 M302.5,133.3 L303.4,130.1 L301.7,132.4 L304.3,130.5 M283.6,141.1 L285.3,139.1 L283.7,137.5 L281.4,136.2 M263.7,127.5 L267.0,127.4 L266.7,125.2 L266.4,122.5 M285.0,145.5 L287.6,147.0 L290.2,147.5 L288.3,147.7 M300.2,114.8 L297.7,112.6 L297.6,114.1 L296.7,116.8 M271.0,85.3 L273.3,83.7 L270.2,84.9 L268.9,87.4 M270.7,108.8 L271.9,105.7 L273.5,104.1 L271.7,103.0 M267.0,114.7 L268.7,112.0 L267.9,108.7 L267.6,110.5 M285.6,94.8 L286.1,97.0 L284.4,95.3 L283.1,98.2 M316.9,110.7 L318.3,111.4 L319.4,110.3 L318.8,107.7 M277.2,141.2 L279.0,141.4 L277.5,141.9 L278.5,140.1 M267.3,74.2 L265.7,72.5 L263.7,70.4 L264.9,67.2 M299.4,87.9 L297.6,88.2 L300.0,88.4 L299.6,86.6 M275.1,101.1 L274.2,98.7 L272.0,96.7 L269.6,98.6 M312.5,77.8 L315.2,76.6 L316.8,78.4 L314.5,76.0 M281.2,121.2 L283.5,119.1 L285.8,118.2 L284.6,116.7 M301.6,143.7 L299.7,141.4 L300.5,144.6 L303.9,144.2 M290.7,141.2 L289.3,144.2 L290.6,142.4 L292.7,143.6 M291.5,139.1 L289.9,139.3 L290.5,137.7 L291.1,136.0 M278.8,140.9 L279.9,142.3 L277.0,142.0 L278.5,139.6 M314.8,114.3 L316.4,113.8 L316.8,116.3 L316.1,119.2 M296.7,117.1 L298.1,114.9 L297.3,117.0 L299.2,114.2 M271.3,146.6 L273.8,146.1 L272.1,145.2 L269.6,144.7 M294.7,72.5 L297.2,72.0 L294.7,73.8 L292.4,72.9 M299.8,75.9 L297.5,75.4 L300.7,74.5 L300.4,76.9 M266.5,109.0 L267.8,106.0 L265.7,106.3 L266.7,108.9 M313.6,81.7 L313.9,80.1 L314.5,82.0 L313.7,80.0 M280.0,125.8 L282.3,127.6 L284.1,129.4 L284.1,131.2 M290.3,109.3 L288.6,110.9 L286.8,110.6 L287.6,113.3 M296.7,117.7 L298.3,115.5 L299.5,113.9 L299.3,110.8 M312.3,98.4 L310.9,101.5 L311.6,104.9 L313.0,103.8 M273.1,135.4 L273.0,137.1 L274.2,135.0 L274.6,133.3 M282.8,131.7 L284.7,131.9 L283.3,128.9 L285.0,128.5 M288.8,138.2 L286.0,138.2 L286.6,139.7 L287.8,140.7 M291.5,116.3 L289.9,115.6 L290.7,117.3 L292.6,114.4 M313.7,78.6 L316.8,79.9 L313.9,80.6 L312.8,82.7 M289.4,108.7 L288.2,107.8 L287.2,104.8 L288.2,107.0 M302.6,106.5 L303.2,108.2 L301.7,108.1 L304.1,106.1 M300.6,147.5 L299.0,145.8 L297.0,144.3 L300.0,144.0 M274.2,152.0 L274.1,149.0 L275.0,146.8 L277.6,144.9 M300.0,139.1 L300.2,136.8 L299.9,135.1 L298.6,137.2 M259.6,102.0 L257.9,99.9 L258.2,103.3 L257.1,101.4 M297.9,121.3 L295.7,120.8 L298.5,120.8 L297.6,117.9 M316.8,72.1 L314.6,70.1 L314.5,72.4 L316.3,73.0 M281.2,78.9 L281.1,82.2 L278.8,81.4 L281.3,80.9 M317.7,127.4 L318.3,125.9 L315.8,124.1 L319.1,125.1 M268.4,112.5 L269.6,114.6 L268.4,113.6 L270.6,112.8 M290.1,123.8 L288.7,125.4 L287.2,123.2 L286.6,126.1 M276.5,71.3 L276.5,72.8 L278.2,75.4 L275.6,77.5 M303.2,74.5 L306.5,74.3 L309.5,75.8 L307.3,76.8 M316.4,91.9 L313.1,91.4 L312.7,89.0 L315.8,88.6 M294.6,80.4 L292.9,78.7 L293.4,80.2 L291.6,79.9 M285.1,130.1 L283.2,130.7 L281.1,129.5 L281.6,127.0 M317.9,155.7 L317.7,153.8 L320.1,155.9 L320.7,153.2 M280.2,94.4 L279.1,92.0 L276.8,90.5 L276.9,88.6 M273.7,158.2 L276.5,156.5 L278.1,156.9 L277.8,159.3 M295.8,79.2 L294.2,78.8 L296.6,80.3 L294.0,79.4 M281.0,113.1 L281.6,115.2 L281.5,112.0 L283.0,112.8 M306.7,126.1 L307.0,124.2 L305.2,125.1 L306.0,123.1 M297.6,159.0 L296.4,161.3 L296.3,158.0 L294.3,159.0 M264.7,148.8 L266.2,149.6 L263.9,148.6 L263.1,146.7 M304.8,76.8 L305.4,79.6 L307.2,80.6 L306.8,77.8 M275.7,82.9 L273.8,85.2 L272.7,86.5 L272.0,83.9 M313.2,154.6 L315.2,153.4 L315.9,151.4 L315.0,153.5 M314.1,150.5 L314.2,152.7 L312.7,154.4 L310.9,155.8 M270.5,120.7 L271.3,118.3 L272.6,116.0 L274.0,118.7 M311.0,95.3 L313.5,95.7 L310.9,95.0 L313.7,94.4 M306.5,75.8 L303.5,74.9 L304.9,75.7 L304.7,72.4 M264.0,127.1 L265.8,129.4 L264.7,127.8 L265.2,130.8 M289.8,138.8 L288.1,140.2 L290.8,139.6 L288.3,139.7 M301.5,133.7 L303.5,132.6 L304.8,130.0 L306.7,127.6 M308.2,150.0 L310.9,149.2 L308.0,148.8 L308.7,146.6 M283.8,83.2 L283.6,79.7 L282.3,81.0 L283.0,83.2 M276.2,157.3 L278.2,158.0 L280.3,159.9 L280.6,158.1 M262.7,111.3 L259.8,109.6 L261.5,110.0 L262.3,111.8 M272.9,134.6 L271.3,133.5 L272.1,135.4 L273.5,138.0 M277.4,119.3 L278.4,117.1 L278.2,120.4 L280.1,119.2 M291.3,156.1 L289.4,156.3 L292.6,157.4 L293.3,155.2 M290.1,116.4 L289.6,119.9 L288.5,118.2 L290.9,118.4 M280.9,141.7 L280.3,139.1 L281.3,140.6 L280.4,142.4 M310.3,116.5 L308.0,113.8 L307.7,116.4 L309.5,118.8 M259.1,143.9 L260.9,141.3 L262.6,142.4 L262.3,140.7 M287.3,112.2 L289.9,111.4 L291.2,109.8 L291.8,107.5 M313.1,78.2 L314.0,76.5 L311.5,75.8 L313.3,78.4 M277.4,98.0 L279.2,98.9 L276.4,99.5 L274.6,101.8 M265.2,105.5 L261.9,106.3 L263.3,103.8 L265.5,104.0 M300.9,91.4 L298.7,90.4 L302.1,90.7 L302.7,88.8 M295.3,96.1 L293.5,97.9 L292.9,100.0 L290.7,101.8 M274.1,88.0 L273.9,85.9 L276.3,85.0 L276.0,82.8 M307.8,78.3 L308.9,79.6 L307.6,77.0 L308.6,79.1 M308.4,123.3 L310.0,124.4 L311.0,125.9 L309.6,126.8 M313.3,108.4 L310.5,108.2 L310.9,105.1 L309.2,106.5 M283.3,71.4 L281.0,73.1 L284.0,72.7 L282.6,70.4 M260.1,99.8 L258.6,102.1 L260.3,103.5 L257.3,103.4 M307.7,125.0 L309.3,127.6 L311.5,126.1 L310.0,128.1 M267.4,134.2 L269.9,134.0 L269.2,130.9 L270.3,134.1 M296.0,87.8 L297.7,88.8 L295.2,87.5 L293.6,90.4 M280.3,111.7 L282.8,114.1 L284.9,116.6 L282.4,115.9 M292.1,93.8 L295.0,91.9 L296.1,89.5 L298.4,91.6 M276.0,150.7 L276.2,153.4 L277.1,151.7 L275.5,151.2 M260.9,86.2 L264.3,85.9 L263.1,84.2 L261.7,81.5 M281.5,123.3 L282.0,121.8 L282.8,124.1 L284.2,125.9 M292.6,85.6 L290.6,85.4 L288.6,84.5 L287.6,83.3 M298.6,83.0 L301.2,82.3 L298.9,82.8 L296.9,80.8 M303.7,137.7 L300.2,138.0 L301.9,135.2 L299.9,136.5 M292.4,151.5 L289.9,151.1 L286.9,152.4 L286.2,153.9 M301.8,151.0 L301.5,148.3 L301.5,146.2 L300.2,145.3 M266.3,110.2 L264.0,110.2 L266.8,111.1 L264.8,110.8 M277.1,105.6 L277.2,107.2 L280.1,105.4 L278.5,102.6 M283.9,142.5 L284.4,145.4 L281.4,144.1 L283.9,145.9 M266.3,118.4 L267.7,117.9 L267.8,120.0 L267.1,121.5 M311.8,143.4 L310.0,144.7 L308.7,143.9 L311.9,144.5 M277.2,114.9 L280.3,113.5 L278.4,113.8 L277.5,117.0 M311.9,87.6 L313.1,85.7 L311.3,86.0 L313.8,83.6 M270.9,126.9 L272.1,130.0 L273.7,130.5 L273.4,128.4 M312.1,148.3 L311.7,146.5 L310.6,143.4 L309.0,143.9 M272.2,97.6 L271.7,95.8 L272.5,97.6 L271.0,95.0 M281.0,129.6 L283.0,127.8 L283.3,129.9 L285.8,128.6 M275.3,127.6 L278.3,129.5 L275.9,130.4 L274.3,130.1 M294.4,95.6 L294.4,98.7 L296.1,99.8 L296.2,97.8 M275.5,119.3 L276.7,122.4 L278.3,122.2 L275.4,123.0 M281.7,153.6 L279.8,153.6 L277.2,152.7 L275.4,154.8 M305.2,116.5 L302.0,116.4 L301.0,114.1 L302.8,113.5 M305.0,84.9 L303.5,83.6 L300.6,84.7 L301.3,81.7 M272.9,114.0 L273.4,116.6 L271.8,116.6 L269.4,115.0 M292.8,148.6 L293.6,150.2 L296.0,150.5 L293.8,151.4 M274.5,141.9 L277.5,143.3 L275.1,142.2 L275.7,140.3 M267.6,98.0 L269.7,98.6 L267.8,96.8 L267.6,99.5 M264.2,143.9 L265.2,145.6 L266.7,148.1 L268.2,145.4 M262.6,107.0 L261.3,108.4 L262.9,108.1 L259.9,108.3 M317.2,83.0 L314.3,83.8 L316.2,84.3 L317.6,83.2 M282.2,96.8 L280.7,97.6 L284.1,98.3 L284.4,95.4 M272.6,92.8 L270.7,92.2 L267.4,93.0 L266.0,94.6 M316.9,125.0 L319.1,125.5 L318.2,124.2 L316.6,126.7 M310.0,123.2 L311.8,121.6 L309.3,123.6 L307.1,125.6 M271.7,101.3 L272.8,103.6 L273.7,105.3 L274.3,107.7 M277.2,110.2 L280.1,110.1 L281.3,108.7 L280.1,109.8 M299.8,102.7 L299.6,104.2 L300.4,106.0 L297.8,108.1 M301.2,94.2 L300.0,95.6 L302.1,94.7 L302.4,91.8 M312.5,71.8 L311.5,73.9 L314.4,75.5 L313.0,78.2 M289.6,74.9 L288.1,76.2 L289.8,76.6 L288.5,75.7 M277.4,108.2 L275.7,107.7 L275.2,105.7 L274.7,102.9 M267.7,88.4 L267.1,91.3 L265.2,92.6 L266.5,91.1 M276.2,101.0 L276.6,102.6 L279.3,103.0 L276.4,101.8 M316.6,96.8 L315.0,93.9 L315.6,96.7 L313.9,93.8 M310.2,91.1 L309.1,89.9 L307.1,90.9 L309.2,91.7 M278.4,114.7 L278.0,116.5 L276.0,117.9 L277.4,120.4 M273.1,78.4 L271.9,80.3 L273.4,82.5 L272.6,80.0 M300.3,72.1 L298.6,73.5 L300.7,74.4 L303.1,75.2 M293.6,112.2 L292.7,114.0 L294.8,114.3 L296.9,112.7 M274.5,130.1 L275.4,132.4 L272.9,130.1 L271.1,132.1 M314.6,139.4 L312.7,137.5 L310.7,138.7 L310.2,141.8 M310.9,104.4 L312.2,103.5 L313.9,105.4 L313.1,107.5 M316.6,83.5 L317.3,85.3 L316.5,83.5 L319.1,83.6 M282.2,91.5 L279.4,91.7 L276.8,90.8 L273.9,89.7 M316.2,100.0 L314.3,102.7 L313.2,105.4 L312.2,102.7 M315.9,144.2 L317.3,146.5 L314.7,146.7 L313.3,148.2 M303.2,118.1 L303.4,120.1 L302.5,121.7 L300.8,121.6 M262.7,76.2 L265.1,77.9 L266.9,79.5 L267.2,77.1 M268.6,148.0 L269.7,146.8 L269.6,149.3 L270.3,147.1 M301.2,92.7 L300.8,90.6 L299.3,93.2 L301.0,90.5 M292.5,107.9 L291.7,105.2 L293.3,102.5 L294.8,104.1 M298.5,90.8 L299.1,92.2 L296.2,90.5 L297.9,90.1 M299.6,107.7 L298.0,106.1 L301.2,104.6 L304.0,105.5 M266.0,73.8 L265.3,76.7 L267.1,76.6 L266.3,78.0 M291.0,113.5 L289.5,115.0 L290.5,112.0 L290.0,114.2 M295.4,138.9 L297.7,138.6 L296.8,136.2 L297.4,134.5 M269.3,79.6 L271.2,78.8 L269.4,79.0 L268.7,80.3 M292.4,82.9 L290.9,81.5 L291.3,83.9 L289.9,85.4 M262.0,75.8 L263.7,74.5 L265.3,75.4 L261.8,75.7 M270.9,148.1 L268.6,148.3 L269.4,146.1 L271.8,147.1 M297.8,126.1 L297.2,129.4 L299.5,126.8 L296.5,127.9 M301.8,85.8 L303.6,86.1 L304.8,87.3 L302.9,89.6 M277.3,116.3 L279.2,116.4 L280.7,116.0 L277.6,115.5 M305.7,136.2 L303.2,138.0 L304.7,135.3 L306.4,135.2 M315.1,106.2 L314.5,104.3 L315.8,103.4 L314.1,102.5 M281.9,103.2 L280.2,100.6 L278.4,102.7 L277.1,104.4 M312.4,98.9 L314.2,100.2 L314.1,98.2 L314.0,95.6 M299.1,86.0 L300.5,87.1 L299.1,89.0 L301.6,89.1 M282.8,98.9 L279.5,98.1 L280.4,101.3 L279.1,104.0 M265.4,158.9 L262.3,160.3 L262.7,162.6 L262.2,160.8 M275.1,130.9 L277.2,130.3 L278.1,132.3 L279.8,132.2 M296.4,104.0 L295.3,102.5 L292.8,100.3 L294.5,98.2 M288.8,121.1 L291.2,123.2 L290.3,120.9 L289.1,118.9 M281.7,90.7 L279.6,89.1 L278.0,89.0 L276.3,87.3 M294.0,123.5 L295.6,122.8 L292.2,123.4 L292.1,121.3 M302.5,159.0 L299.8,160.9 L302.3,163.4 L300.3,163.5 M308.6,128.4 L311.5,127.2 L312.2,124.8 L313.9,124.7 M310.3,134.0 L310.3,137.2 L307.9,137.9 L309.1,136.5 M275.5,127.9 L277.8,129.1 L278.4,126.7 L278.6,129.8 M309.4,139.4 L306.3,138.4 L306.8,136.6 L305.7,137.9 M261.2,101.1 L263.3,98.7 L264.6,100.0 L262.2,102.1 M295.4,151.2 L298.5,152.7 L299.3,155.3 L301.4,153.3 M270.6,130.2 L269.2,130.8 L268.1,132.6 L266.7,131.1 M294.6,132.5 L295.3,134.1 L294.5,131.8 L295.7,133.1 M314.5,124.9 L313.3,126.4 L316.2,126.3 L316.0,124.1 M277.3,106.7 L279.0,108.9 L276.2,110.4 L274.2,111.7 M288.9,154.7 L287.2,157.1 L287.5,159.8 L286.8,163.0 M275.9,146.9 L274.8,144.7 L276.9,143.8 L276.8,141.1 M285.5,75.8 L283.7,76.8 L280.5,78.0 L279.7,80.8 M298.7,92.0 L297.2,93.0 L298.7,91.7 L296.8,92.8 M307.4,146.5 L305.2,145.1 L307.9,147.1 L309.8,148.2 M281.1,135.1 L280.0,133.2 L282.8,131.1 L285.5,131.5 M286.7,102.6 L284.6,103.0 L283.3,100.6 L286.7,100.0 M317.6,105.6 L318.9,103.1 L317.8,99.8 L320.0,100.8 M282.7,129.0 L283.4,132.5 L283.9,134.6 L285.4,136.4 M302.8,77.5 L304.2,79.9 L302.0,77.9 L302.0,81.0 M302.1,139.8 L303.9,141.5 L307.1,141.8 L310.2,140.7 M260.4,101.6 L257.9,101.0 L260.3,103.0 L259.5,105.4 M266.4,121.1 L267.5,122.3 L265.4,122.2 L265.8,120.2 M283.4,74.9 L283.9,77.2 L281.6,76.4 L282.7,75.0 M309.2,83.9 L311.7,83.5 L309.4,85.0 L311.6,82.4 M283.4,71.0 L285.2,73.5 L284.9,70.6 L286.3,72.8 M260.7,79.9 L259.6,83.2 L257.6,80.7 L259.9,81.3 M263.6,93.5 L266.2,95.6 L265.0,97.8 L263.1,95.1 M314.8,121.1 L311.5,121.1 L309.9,122.4 L309.7,120.4 M280.7,108.6 L278.5,109.0 L276.3,110.0 L279.4,110.9 M262.6,117.5 L260.4,116.8 L260.7,118.5 L259.3,120.0 M287.6,90.7 L287.5,88.3 L289.9,88.4 L291.3,88.1 M294.0,156.5 L292.2,158.5 L290.8,160.0 L288.7,158.3 M277.6,114.8 L274.6,114.5 L276.2,115.0 L276.2,117.1 M305.9,108.3 L307.4,106.5 L306.8,109.3 L309.8,111.1 M308.1,99.5 L306.8,102.4 L307.4,99.7 L310.3,100.8 M261.8,126.2 L258.7,125.1 L257.7,124.0 L260.4,122.8 M293.2,70.5 L293.0,68.2 L291.5,65.0 L293.0,64.2 M305.1,109.6 L305.1,107.4 L302.9,108.2 L304.5,109.6 M302.3,76.4 L304.7,78.5 L303.4,76.3 L304.7,77.4 M277.3,155.8 L274.2,154.6 L274.7,156.9 L271.7,156.2 M266.3,148.6 L264.7,148.9 L262.7,149.8 L261.2,146.9 M288.1,132.1 L285.8,134.0 L288.1,135.9 L289.5,138.2 M270.9,101.2 L272.1,103.0 L269.9,101.7 L267.9,103.4 M308.7,102.2 L306.6,101.0 L308.7,100.7 L308.1,98.9 M274.4,135.7 L272.6,134.8 L275.5,136.1 L273.4,138.1 M284.5,125.6 L281.3,124.3 L283.4,123.0 L281.4,123.2 M303.4,79.2 L302.3,82.2 L305.1,82.8 L302.8,81.8 M278.6,83.6 L281.5,82.7 L282.1,81.1 L282.5,79.2 M270.8,118.1 L269.4,117.0 L269.7,114.4 L272.4,112.4 M299.7,102.8 L302.5,101.9 L301.6,105.0 L301.4,103.0 M273.7,71.8 L271.8,71.4 L271.2,73.3 L272.9,75.1 M274.9,81.1 L274.5,82.9 L273.9,84.6 L273.2,86.2 L272.4,87.7 L271.5,88.9 L270.3,89.8 L269.0,90.4 L267.7,90.8 L266.4,91.2 L265.0,91.5 L263.5,91.5 L262.0,90.9 L260.8,89.7 L260.0,88.0 L259.6,86.2 L259.4,84.4 L259.1,82.8 L258.8,81.1 L258.7,79.3 L258.8,77.5 L259.3,75.8 L260.2,74.3 L261.1,73.0 L262.3,71.8 L263.5,70.9 L264.9,70.3 L266.4,70.4 L267.8,71.0 L269.0,72.0 L270.0,72.9 L271.1,73.8 L272.3,74.7 L273.5,75.8 L274.5,77.3 L274.9,79.2 L274.9,81.1Z M276.2,81.1 L275.8,83.2 L275.1,85.2 L274.4,87.1 L273.5,88.8 L272.3,90.2 L270.9,91.3 L269.4,91.9 L267.9,92.4 L266.4,92.9 L264.7,93.3 L263.0,93.3 L261.3,92.6 L259.9,91.1 L259.0,89.1 L258.6,87.0 L258.2,85.0 L257.9,83.0 L257.5,81.1 L257.3,79.0 L257.5,76.9 L258.1,74.9 L259.1,73.2 L260.2,71.6 L261.5,70.2 L263.0,69.1 L264.7,68.5 L266.4,68.6 L268.0,69.4 L269.4,70.5 L270.6,71.6 L272.0,72.5 L273.4,73.5 L274.8,74.8 L275.9,76.6 L276.3,78.8 L276.2,81.1Z M301.5,91.7 L301.1,93.5 L300.6,95.2 L299.9,96.8 L299.1,98.3 L298.2,99.5 L297.0,100.4 L295.7,101.0 L294.4,101.4 L293.1,101.8 L291.7,102.1 L290.2,102.1 L288.7,101.5 L287.5,100.3 L286.8,98.6 L286.4,96.7 L286.1,95.0 L285.8,93.4 L285.5,91.7 L285.3,89.9 L285.5,88.1 L286.0,86.4 L286.9,84.9 L287.8,83.6 L289.0,82.4 L290.2,81.5 L291.6,80.9 L293.1,81.0 L294.5,81.7 L295.7,82.6 L296.7,83.6 L297.8,84.4 L299.1,85.2 L300.3,86.4 L301.2,87.9 L301.6,89.8 L301.5,91.7Z M302.5,91.7 L302.3,93.8 L301.8,95.8 L300.9,97.5 L299.9,99.0 L298.7,100.4 L297.6,101.8 L296.4,103.3 L294.8,104.5 L293.1,105.0 L291.3,104.6 L289.8,103.5 L288.5,102.0 L287.4,100.4 L286.4,99.0 L285.4,97.5 L284.5,95.8 L283.9,93.8 L283.7,91.7 L283.8,89.6 L284.2,87.5 L284.7,85.4 L285.5,83.4 L286.7,81.8 L288.2,80.8 L289.9,80.4 L291.6,80.5 L293.1,80.7 L294.6,80.7 L296.2,80.7 L297.9,80.9 L299.5,81.8 L300.8,83.4 L301.6,85.3 L302.1,87.5 L302.4,89.6 L302.5,91.7Z M314.4,80.3 L314.4,82.0 L314.5,83.8 L314.3,85.7 L313.7,87.6 L312.6,88.9 L311.2,89.8 L309.7,90.1 L308.3,90.2 L307.0,90.2 L305.7,90.1 L304.3,89.8 L303.1,89.1 L302.0,88.1 L301.0,86.8 L300.1,85.5 L299.2,84.0 L298.6,82.2 L298.3,80.3 L298.6,78.4 L299.4,76.7 L300.4,75.4 L301.4,74.2 L302.3,73.0 L303.2,71.8 L304.3,70.6 L305.6,69.7 L307.0,69.4 L308.4,69.7 L309.8,70.3 L311.1,71.1 L312.3,72.2 L313.3,73.5 L314.0,75.1 L314.3,76.9 L314.4,78.6 L314.4,80.3Z M317.2,80.3 L316.9,82.6 L316.1,84.6 L315.1,86.4 L314.0,87.9 L312.9,89.4 L311.6,90.6 L310.1,91.4 L308.6,91.8 L307.0,91.9 L305.4,91.8 L303.8,91.6 L302.1,91.3 L300.5,90.4 L299.2,88.8 L298.4,86.7 L298.2,84.4 L298.3,82.3 L298.4,80.3 L298.4,78.3 L298.5,76.3 L298.9,74.2 L299.7,72.3 L300.8,70.8 L302.2,69.6 L303.7,68.6 L305.3,67.9 L307.0,67.6 L308.7,67.9 L310.2,68.8 L311.5,70.2 L312.5,71.8 L313.5,73.2 L314.7,74.6 L315.8,76.1 L316.8,78.1 L317.2,80.3Z M278.6,100.6 L278.6,102.3 L278.6,104.1 L278.4,106.0 L277.9,107.8 L276.8,109.3 L275.5,110.1 L274.0,110.5 L272.5,110.5 L271.2,110.5 L269.9,110.4 L268.5,110.1 L267.3,109.4 L266.2,108.4 L265.2,107.1 L264.3,105.7 L263.5,104.2 L262.8,102.5 L262.5,100.6 L262.8,98.7 L263.5,97.0 L264.5,95.6 L265.6,94.5 L266.5,93.4 L267.4,92.1 L268.5,90.9 L269.8,90.1 L271.2,89.7 L272.7,89.9 L274.0,90.6 L275.3,91.4 L276.5,92.5 L277.5,93.8 L278.2,95.4 L278.6,97.1 L278.6,98.9 L278.6,100.6Z M279.8,100.6 L279.8,102.6 L279.8,104.6 L279.6,106.9 L279.0,109.0 L277.8,110.8 L276.2,111.8 L274.5,112.2 L272.8,112.2 L271.2,112.2 L269.6,112.0 L268.1,111.7 L266.6,110.9 L265.3,109.7 L264.2,108.2 L263.2,106.6 L262.2,104.8 L261.4,102.8 L261.1,100.6 L261.3,98.3 L262.2,96.3 L263.4,94.7 L264.6,93.4 L265.7,92.1 L266.8,90.7 L268.0,89.3 L269.5,88.3 L271.2,87.9 L272.9,88.1 L274.5,88.9 L276.0,89.9 L277.4,91.1 L278.6,92.6 L279.4,94.5 L279.8,96.5 L279.9,98.6 L279.8,100.6Z M312.5,106.3 L312.3,108.1 L311.7,109.7 L311.0,111.1 L310.2,112.5 L309.5,114.0 L308.6,115.6 L307.5,116.8 L306.0,117.5 L304.5,117.4 L303.1,116.7 L301.8,115.7 L300.7,114.7 L299.6,113.8 L298.6,112.7 L297.7,111.4 L297.0,109.8 L296.6,108.1 L296.5,106.3 L296.5,104.5 L296.6,102.6 L297.1,100.7 L297.9,99.2 L299.2,98.1 L300.6,97.6 L302.0,97.3 L303.2,97.1 L304.5,96.7 L305.9,96.3 L307.3,96.2 L308.8,96.8 L310.0,97.9 L310.9,99.4 L311.6,101.0 L312.1,102.7 L312.5,104.5 L312.5,106.3Z M313.9,106.3 L313.7,108.4 L313.1,110.4 L312.2,112.1 L311.2,113.6 L310.2,115.1 L309.1,116.6 L307.8,118.2 L306.3,119.3 L304.5,119.6 L302.8,119.0 L301.3,117.8 L300.0,116.4 L298.9,115.0 L297.7,113.6 L296.7,112.2 L295.8,110.4 L295.3,108.4 L295.1,106.3 L295.2,104.2 L295.5,102.1 L296.0,99.9 L296.8,98.0 L298.1,96.4 L299.7,95.6 L301.4,95.3 L303.0,95.3 L304.5,95.3 L306.0,95.1 L307.7,95.0 L309.4,95.3 L310.9,96.4 L312.1,98.0 L312.9,100.0 L313.4,102.1 L313.8,104.2 L313.9,106.3Z M291.1,112.0 L290.8,113.7 L290.4,115.3 L290.0,116.9 L289.6,118.7 L288.9,120.4 L287.8,121.8 L286.4,122.6 L284.9,122.7 L283.4,122.3 L282.1,121.7 L280.8,121.2 L279.6,120.6 L278.4,119.8 L277.3,118.6 L276.6,117.1 L276.0,115.5 L275.5,113.8 L275.1,112.0 L275.0,110.1 L275.3,108.2 L276.1,106.5 L277.3,105.3 L278.6,104.5 L279.8,103.8 L280.9,103.1 L282.1,102.2 L283.4,101.5 L284.9,101.3 L286.3,101.7 L287.6,102.6 L288.7,103.9 L289.6,105.2 L290.5,106.7 L291.0,108.4 L291.3,110.2 L291.1,112.0Z M292.8,112.0 L292.6,114.1 L292.0,116.1 L291.2,117.8 L290.1,119.3 L289.1,120.7 L288.0,122.3 L286.7,123.8 L285.2,124.9 L283.4,125.3 L281.7,124.8 L280.1,123.6 L278.9,122.1 L277.8,120.7 L276.7,119.3 L275.6,117.8 L274.7,116.1 L274.2,114.1 L274.0,112.0 L274.1,109.9 L274.4,107.8 L274.9,105.6 L275.7,103.7 L277.0,102.1 L278.6,101.2 L280.3,101.0 L281.9,101.0 L283.4,101.0 L284.9,100.9 L286.6,100.8 L288.3,101.1 L289.8,102.1 L291.0,103.7 L291.8,105.7 L292.3,107.8 L292.7,109.9 L292.8,112.0Z M272.7,120.5 L272.3,122.2 L271.7,123.8 L271.1,125.3 L270.6,126.9 L269.9,128.5 L269.0,130.1 L267.7,131.2 L266.2,131.6 L264.7,131.3 L263.3,130.6 L262.1,129.7 L260.9,129.0 L259.8,128.1 L258.7,127.0 L257.8,125.6 L257.2,124.0 L256.9,122.3 L256.6,120.5 L256.5,118.6 L256.7,116.7 L257.2,114.9 L258.3,113.5 L259.6,112.6 L260.9,112.1 L262.2,111.7 L263.4,111.1 L264.7,110.5 L266.1,110.1 L267.6,110.2 L269.0,111.0 L270.1,112.2 L271.0,113.7 L271.7,115.3 L272.3,116.9 L272.7,118.7 L272.7,120.5Z M273.4,120.5 L273.6,122.5 L273.7,124.8 L273.4,127.0 L272.5,129.0 L271.1,130.4 L269.5,131.3 L267.8,131.7 L266.3,131.9 L264.7,132.1 L263.1,132.1 L261.6,131.7 L260.1,130.8 L258.8,129.5 L257.6,128.2 L256.5,126.6 L255.4,124.9 L254.7,122.8 L254.6,120.5 L255.1,118.3 L256.1,116.4 L257.2,114.9 L258.2,113.4 L259.1,111.8 L260.1,110.2 L261.4,108.8 L263.0,108.0 L264.7,107.8 L266.4,108.2 L268.0,108.8 L269.5,109.7 L270.9,110.9 L272.0,112.6 L272.7,114.5 L273.0,116.6 L273.2,118.6 L273.4,120.5Z M308.9,129.4 L308.6,131.1 L308.3,132.7 L308.1,134.5 L307.7,136.3 L306.9,138.0 L305.7,139.2 L304.2,139.8 L302.7,139.8 L301.3,139.5 L300.0,139.1 L298.7,138.7 L297.4,138.1 L296.2,137.2 L295.3,136.0 L294.5,134.5 L293.8,132.9 L293.2,131.2 L292.8,129.4 L292.8,127.5 L293.2,125.6 L294.2,124.1 L295.4,123.0 L296.6,122.1 L297.7,121.2 L298.7,120.3 L299.9,119.3 L301.3,118.7 L302.8,118.6 L304.2,119.2 L305.4,120.1 L306.6,121.3 L307.5,122.6 L308.4,124.1 L308.9,125.8 L309.0,127.6 L308.9,129.4Z M311.3,129.4 L310.8,131.6 L310.1,133.5 L309.3,135.4 L308.4,137.1 L307.2,138.5 L305.9,139.6 L304.4,140.3 L302.8,140.7 L301.3,141.1 L299.7,141.4 L297.9,141.5 L296.2,140.9 L294.7,139.5 L293.8,137.5 L293.3,135.4 L293.1,133.3 L292.8,131.3 L292.5,129.4 L292.3,127.3 L292.4,125.2 L293.0,123.2 L294.0,121.5 L295.2,119.9 L296.5,118.6 L297.9,117.5 L299.6,116.8 L301.3,116.8 L302.9,117.5 L304.3,118.6 L305.6,119.8 L306.8,120.9 L308.2,121.9 L309.6,123.2 L310.7,125.0 L311.3,127.1 L311.3,129.4Z M286.1,134.2 L286.2,136.1 L285.9,138.0 L285.0,139.7 L283.9,140.9 L282.7,142.0 L281.6,142.9 L280.4,143.7 L279.1,144.2 L277.7,144.3 L276.4,144.0 L275.1,143.6 L273.8,143.0 L272.4,142.4 L271.1,141.3 L270.1,139.9 L269.6,138.0 L269.6,136.0 L270.0,134.2 L270.4,132.5 L270.8,130.9 L271.1,129.3 L271.6,127.6 L272.4,126.1 L273.6,124.9 L274.9,124.2 L276.3,123.7 L277.7,123.5 L279.1,123.6 L280.5,124.1 L281.8,125.1 L282.7,126.4 L283.4,128.0 L284.0,129.5 L284.7,130.9 L285.4,132.4 L286.1,134.2Z M286.4,134.2 L286.7,136.3 L286.8,138.5 L286.5,140.8 L285.5,142.7 L284.1,144.1 L282.4,144.8 L280.8,145.3 L279.3,145.6 L277.7,145.9 L276.1,145.8 L274.6,145.4 L273.1,144.4 L271.8,143.2 L270.6,141.9 L269.4,140.4 L268.3,138.6 L267.7,136.5 L267.6,134.2 L268.2,132.0 L269.2,130.2 L270.2,128.6 L271.2,127.1 L272.0,125.4 L273.1,123.8 L274.4,122.5 L276.0,121.7 L277.7,121.6 L279.4,121.9 L281.0,122.5 L282.5,123.4 L283.9,124.6 L285.0,126.3 L285.7,128.3 L286.0,130.3 L286.2,132.3 L286.4,134.2Z M272.8,145.6 L272.6,147.4 L272.2,149.1 L271.6,150.7 L270.7,152.2 L269.7,153.3 L268.5,154.1 L267.3,154.8 L266.1,155.5 L264.7,156.2 L263.2,156.6 L261.7,156.3 L260.4,155.3 L259.4,153.8 L258.8,152.1 L258.2,150.4 L257.7,148.9 L257.2,147.3 L256.8,145.6 L256.8,143.8 L257.1,142.0 L257.7,140.3 L258.4,138.8 L259.4,137.4 L260.5,136.1 L261.8,135.3 L263.3,135.1 L264.7,135.4 L266.0,136.1 L267.2,136.8 L268.4,137.3 L269.7,137.9 L271.0,138.7 L272.1,140.0 L272.8,141.8 L273.0,143.7 L272.8,145.6Z M273.5,145.6 L273.2,147.5 L272.9,149.5 L272.7,151.6 L272.2,153.7 L271.3,155.7 L269.8,157.1 L268.1,157.7 L266.3,157.6 L264.7,157.3 L263.2,156.9 L261.6,156.5 L260.1,155.8 L258.8,154.7 L257.6,153.3 L256.7,151.6 L255.9,149.7 L255.2,147.8 L254.7,145.6 L254.7,143.3 L255.3,141.2 L256.4,139.4 L257.8,138.1 L259.2,137.1 L260.4,136.0 L261.7,134.8 L263.1,133.7 L264.7,133.0 L266.4,133.0 L268.1,133.7 L269.5,134.8 L270.8,136.1 L272.0,137.7 L273.0,139.4 L273.6,141.4 L273.7,143.5 L273.5,145.6Z M298.5,143.1 L298.1,145.0 L297.5,146.7 L296.7,148.2 L295.9,149.6 L295.0,150.9 L293.8,151.9 L292.5,152.5 L291.2,152.8 L289.9,153.0 L288.5,153.2 L287.0,153.2 L285.6,152.8 L284.3,151.8 L283.4,150.2 L282.9,148.3 L282.8,146.5 L282.6,144.8 L282.4,143.1 L282.3,141.4 L282.4,139.6 L282.8,137.8 L283.6,136.3 L284.6,135.0 L285.8,133.9 L287.0,133.0 L288.4,132.4 L289.9,132.3 L291.3,132.8 L292.5,133.7 L293.6,134.8 L294.6,135.9 L295.7,136.8 L296.8,137.9 L297.8,139.4 L298.4,141.2 L298.5,143.1Z M299.3,143.1 L299.1,145.2 L298.7,147.2 L297.9,149.1 L296.8,150.6 L295.6,151.8 L294.3,153.0 L293.0,154.2 L291.6,155.4 L289.9,156.2 L288.1,156.2 L286.5,155.3 L285.1,153.8 L284.1,152.1 L283.2,150.4 L282.3,148.8 L281.4,147.1 L280.8,145.2 L280.5,143.1 L280.6,141.0 L281.0,138.9 L281.6,136.9 L282.4,135.0 L283.5,133.2 L284.9,132.0 L286.6,131.4 L288.3,131.5 L289.9,131.9 L291.4,132.3 L292.9,132.5 L294.5,132.8 L296.2,133.4 L297.6,134.8 L298.6,136.6 L299.1,138.8 L299.3,141.0 L299.3,143.1Z M318.3,145.6 L318.1,147.4 L317.7,149.1 L317.1,150.7 L316.2,152.1 L315.2,153.2 L314.0,154.1 L312.8,154.8 L311.6,155.6 L310.2,156.3 L308.7,156.6 L307.2,156.3 L305.9,155.3 L304.9,153.7 L304.3,152.0 L303.7,150.4 L303.2,148.9 L302.6,147.3 L302.3,145.6 L302.2,143.8 L302.6,142.0 L303.2,140.4 L303.9,138.8 L304.8,137.3 L306.0,136.1 L307.3,135.3 L308.8,135.1 L310.2,135.5 L311.5,136.1 L312.7,136.8 L313.9,137.3 L315.3,137.8 L316.6,138.7 L317.6,140.0 L318.3,141.8 L318.5,143.7 L318.3,145.6Z M319.3,145.6 L318.8,147.6 L318.3,149.4 L317.9,151.3 L317.4,153.4 L316.6,155.4 L315.3,157.1 L313.7,158.0 L311.9,158.1 L310.2,157.6 L308.6,157.0 L307.2,156.4 L305.7,155.7 L304.3,154.7 L303.1,153.3 L302.2,151.6 L301.5,149.7 L300.9,147.7 L300.5,145.6 L300.3,143.4 L300.7,141.1 L301.6,139.2 L303.0,137.8 L304.5,136.8 L305.9,136.1 L307.3,135.2 L308.6,134.2 L310.2,133.4 L311.9,133.1 L313.6,133.5 L315.1,134.6 L316.4,136.1 L317.5,137.7 L318.4,139.4 L319.1,141.4 L319.4,143.5 L319.3,145.6Z M286.9,156.0 L287.2,157.8 L287.3,159.7 L286.9,161.6 L286.1,163.3 L284.8,164.4 L283.4,165.1 L282.1,165.5 L280.7,165.8 L279.4,166.0 L278.0,166.0 L276.7,165.5 L275.5,164.7 L274.4,163.7 L273.3,162.6 L272.3,161.3 L271.4,159.8 L270.8,158.0 L270.8,156.0 L271.3,154.2 L272.2,152.6 L273.0,151.2 L273.8,149.9 L274.5,148.5 L275.4,147.1 L276.6,146.0 L277.9,145.3 L279.4,145.2 L280.8,145.5 L282.2,146.0 L283.5,146.8 L284.7,147.8 L285.6,149.3 L286.2,150.9 L286.4,152.7 L286.6,154.4 L286.9,156.0Z M288.8,156.0 L288.6,158.1 L288.1,160.1 L287.2,161.9 L286.2,163.3 L285.0,164.7 L283.9,166.1 L282.6,167.5 L281.1,168.7 L279.4,169.3 L277.6,169.0 L276.1,167.8 L274.8,166.3 L273.7,164.7 L272.7,163.3 L271.7,161.8 L270.8,160.1 L270.2,158.1 L270.0,156.0 L270.1,153.9 L270.5,151.8 L271.0,149.7 L271.8,147.7 L273.0,146.1 L274.5,145.1 L276.2,144.7 L277.9,144.8 L279.4,145.0 L280.9,145.0 L282.5,145.0 L284.2,145.3 L285.8,146.1 L287.1,147.7 L287.9,149.6 L288.4,151.8 L288.7,153.9 L288.8,156.0Z M306.8,155.0 L306.6,156.8 L306.1,158.4 L305.3,159.9 L304.5,161.2 L303.7,162.5 L302.8,164.0 L301.7,165.3 L300.3,166.2 L298.8,166.3 L297.3,165.7 L296.1,164.7 L295.0,163.5 L294.0,162.4 L293.0,161.3 L292.0,160.1 L291.3,158.5 L290.9,156.8 L290.8,155.0 L290.8,153.2 L291.0,151.3 L291.5,149.5 L292.2,147.9 L293.4,146.6 L294.8,146.0 L296.2,145.8 L297.5,145.7 L298.8,145.5 L300.1,145.3 L301.6,145.2 L303.0,145.5 L304.3,146.5 L305.3,148.0 L305.9,149.7 L306.4,151.4 L306.7,153.2 L306.8,155.0Z M308.4,155.0 L308.0,157.1 L307.5,159.1 L306.8,161.0 L305.9,162.7 L304.6,164.0 L303.2,165.0 L301.8,165.8 L300.4,166.5 L298.8,167.3 L297.1,167.7 L295.3,167.5 L293.7,166.4 L292.5,164.6 L291.8,162.6 L291.2,160.7 L290.6,158.8 L290.1,157.0 L289.6,155.0 L289.5,152.9 L289.9,150.8 L290.6,148.9 L291.5,147.1 L292.6,145.4 L293.9,143.9 L295.4,142.9 L297.1,142.6 L298.8,143.0 L300.3,143.8 L301.7,144.7 L303.1,145.4 L304.6,146.0 L306.2,147.0 L307.5,148.5 L308.3,150.5 L308.5,152.8 L308.4,155.0Z" fill="none" stroke="#5cb4ea" stroke-width="0.55"/>
<ellipse cx="266.4" cy="81.1" rx="6.8" ry="8.8" transform="rotate(0 266.4 81.1)" fill="#fff" stroke="#56b2e8" stroke-width="0.6"/>
<ellipse cx="293.1" cy="91.7" rx="6.8" ry="8.8" transform="rotate(5 293.1 91.7)" fill="#fff" stroke="#56b2e8" stroke-width="0.6"/>
<ellipse cx="307" cy="80.3" rx="6.8" ry="8.8" transform="rotate(-5 307 80.3)" fill="#fff" stroke="#56b2e8" stroke-width="0.6"/>
<ellipse cx="271.2" cy="100.6" rx="6.8" ry="8.8" transform="rotate(-8 271.2 100.6)" fill="#fff" stroke="#56b2e8" stroke-width="0.6"/>
<ellipse cx="304.5" cy="106.3" rx="6.8" ry="8.8" transform="rotate(3 304.5 106.3)" fill="#fff" stroke="#56b2e8" stroke-width="0.6"/>
<ellipse cx="283.4" cy="112" rx="6.8" ry="8.8" transform="rotate(0 283.4 112)" fill="#fff" stroke="#56b2e8" stroke-width="0.6"/>
<ellipse cx="264.7" cy="120.5" rx="6.8" ry="8.8" transform="rotate(0 264.7 120.5)" fill="#fff" stroke="#56b2e8" stroke-width="0.6"/>
<ellipse cx="301.3" cy="129.4" rx="6.8" ry="8.8" transform="rotate(-6 301.3 129.4)" fill="#fff" stroke="#56b2e8" stroke-width="0.6"/>
<ellipse cx="277.7" cy="134.2" rx="6.8" ry="8.8" transform="rotate(4 277.7 134.2)" fill="#fff" stroke="#56b2e8" stroke-width="0.6"/>
<ellipse cx="264.7" cy="145.6" rx="6.8" ry="8.8" transform="rotate(0 264.7 145.6)" fill="#fff" stroke="#56b2e8" stroke-width="0.6"/>
<ellipse cx="289.9" cy="143.1" rx="6.8" ry="8.8" transform="rotate(-3 289.9 143.1)" fill="#fff" stroke="#56b2e8" stroke-width="0.6"/>
<ellipse cx="310.2" cy="145.6" rx="6.8" ry="8.8" transform="rotate(5 310.2 145.6)" fill="#fff" stroke="#56b2e8" stroke-width="0.6"/>
<ellipse cx="279.4" cy="156" rx="6.8" ry="8.8" transform="rotate(0 279.4 156)" fill="#fff" stroke="#56b2e8" stroke-width="0.6"/>
<ellipse cx="298.8" cy="155" rx="6.8" ry="8.8" transform="rotate(0 298.8 155)" fill="#fff" stroke="#56b2e8" stroke-width="0.6"/>
</g>
<path d="M259.9,68.9 L259.9,152.5 A28.4,7.1 0 0 0 316.7,152.5 L316.7,68.9" fill="none" stroke="#56b2e8" stroke-width="1.3"/>
<ellipse cx="288.3" cy="68.9" rx="28.6" ry="7.5" fill="#acdaf3" stroke="#56b2e8" stroke-width="0.8"/>
<path d="M257.40000000000003,37.9 L257.40000000000003,152.5 A30.9,7.5 0 0 0 319.2,152.5 L319.2,37.9" fill="none" stroke="#333" stroke-width="0.9"/>
<ellipse cx="288.3" cy="37.9" rx="30.9" ry="7.5" fill="none" stroke="#333" stroke-width="0.9"/>
<text x="26.80" y="174.40" font-size="10" textLength="75" lengthAdjust="spacingAndGlyphs" fill="#222">Wet protein foam</text>
<text x="247.70" y="174.80" font-size="10" textLength="81.4" lengthAdjust="spacingAndGlyphs" fill="#222">Dry protein sponge</text>
<path transform="translate(337,53.8) scale(1.0)" d="M-2.5,1.2 C-5,-0.8 -4.5,-5 -1.5,-5.2 C1,-5.3 1.5,-3 0,-2 C-1,-1.3 -2.5,-2 -2,-3 M-1.5,-1.3 C1,-2.3 3.5,-1.3 4.3,0.2 M-3.2,0.7 L-3,4.2 C-2,5.2 2,5 3,4.2 C4,3.2 3,2.2 1.5,2.4 L-2.5,2.7" fill="none" stroke="#4aa8e8" stroke-width="1.10"/>
<text x="346.10" y="57.40" font-size="10" textLength="58" lengthAdjust="spacingAndGlyphs" fill="#222">Whey protein</text>
<text x="346.10" y="68.80" font-size="10" textLength="56.4" lengthAdjust="spacingAndGlyphs" fill="#222">isolate (WPI)</text>
<circle cx="337" cy="86" r="4.3" fill="#fff" stroke="#56b2e8" stroke-width="1"/>
<text x="347.20" y="89.00" font-size="10" textLength="62.8" lengthAdjust="spacingAndGlyphs" fill="#222">WPI-stabilized</text>
<text x="347.00" y="101.30" font-size="10" textLength="52.6" lengthAdjust="spacingAndGlyphs" fill="#222">foam bubble</text>
<rect x="331.6" y="114.6" width="9.6" height="8.8" fill="#e4f2fb" stroke="#222" stroke-width="0.9"/>
<text x="347.40" y="121.60" font-size="10" textLength="25.6" lengthAdjust="spacingAndGlyphs" fill="#222">Water</text>
<path d="M336.60,143.20 L336.81,143.03 L337.02,142.87 L337.19,142.70 L337.34,142.53 L337.45,142.36 L337.51,142.19 L337.52,142.02 L337.48,141.85 L337.40,141.67 L337.27,141.50 L337.11,141.33 L336.92,141.15 L336.72,140.97 L336.51,140.80 L336.31,140.62 L336.13,140.45 L335.97,140.27 L335.86,140.10 L335.79,139.93 L335.77,139.76 L335.80,139.59 L335.87,139.42 L335.99,139.25 L336.15,139.08 L336.34,138.91 L336.55,138.74 L336.76,138.58 L336.97,138.41 L337.17,138.24 L337.34,138.07 L337.47,137.91 L337.57,137.74 L337.61,137.57 L337.61,137.39 L337.55,137.22 L337.45,137.05 L337.31,136.87 L337.14,136.70 L336.94,136.52 L336.74,136.35" fill="none" stroke="#111" stroke-width="1.0" stroke-linecap="round"/>
<path d="M336.80,133.20 L339.12,137.45 L336.73,136.64 L334.32,137.35 Z" fill="#111"/>
<text x="347.40" y="141.40" font-size="10" textLength="51.1" lengthAdjust="spacingAndGlyphs" fill="#222">Evaporation</text>
<text x="13.20" y="191.60" font-size="12.5" fill="#222">b</text>
<path d="M33.60,316.91 V318.76 M32.10,316.91 h3.0 M32.10,318.76 h3.0" stroke="#d0d0d0" stroke-width="0.6" fill="none"/>
<path d="M38.66,309.68 V314.31 M37.16,309.68 h3.0 M37.16,314.31 h3.0" stroke="#d0d0d0" stroke-width="0.6" fill="none"/>
<path d="M43.73,299.58 V306.99 M42.23,299.58 h3.0 M42.23,306.99 h3.0" stroke="#d0d0d0" stroke-width="0.6" fill="none"/>
<path d="M48.79,282.34 V300.88 M47.29,282.34 h3.0 M47.29,300.88 h3.0" stroke="#d0d0d0" stroke-width="0.6" fill="none"/>
<path d="M53.85,263.44 V291.24 M52.35,263.44 h3.0 M52.35,291.24 h3.0" stroke="#d0d0d0" stroke-width="0.6" fill="none"/>
<path d="M58.92,249.40 V282.76 M57.42,249.40 h3.0 M57.42,282.76 h3.0" stroke="#d0d0d0" stroke-width="0.6" fill="none"/>
<path d="M63.98,238.60 V273.82 M62.48,238.60 h3.0 M62.48,273.82 h3.0" stroke="#d0d0d0" stroke-width="0.6" fill="none"/>
<path d="M69.04,251.58 V271.96 M67.54,251.58 h3.0 M67.54,271.96 h3.0" stroke="#d0d0d0" stroke-width="0.6" fill="none"/>
<path d="M74.11,232.12 V258.99 M72.61,232.12 h3.0 M72.61,258.99 h3.0" stroke="#d0d0d0" stroke-width="0.6" fill="none"/>
<path d="M79.17,230.73 V252.04 M77.67,230.73 h3.0 M77.67,252.04 h3.0" stroke="#d0d0d0" stroke-width="0.6" fill="none"/>
<path d="M84.23,231.19 V247.87 M82.73,231.19 h3.0 M82.73,247.87 h3.0" stroke="#d0d0d0" stroke-width="0.6" fill="none"/>
<path d="M89.30,233.04 V246.94 M87.80,233.04 h3.0 M87.80,246.94 h3.0" stroke="#d0d0d0" stroke-width="0.6" fill="none"/>
<path d="M94.36,233.04 V246.94 M92.86,233.04 h3.0 M92.86,246.94 h3.0" stroke="#d0d0d0" stroke-width="0.6" fill="none"/>
<path d="M99.42,235.36 V246.48 M97.92,235.36 h3.0 M97.92,246.48 h3.0" stroke="#d0d0d0" stroke-width="0.6" fill="none"/>
<path d="M104.49,238.14 V247.41 M102.99,238.14 h3.0 M102.99,247.41 h3.0" stroke="#d0d0d0" stroke-width="0.6" fill="none"/>
<path d="M109.55,237.21 V244.63 M108.05,237.21 h3.0 M108.05,244.63 h3.0" stroke="#d0d0d0" stroke-width="0.6" fill="none"/>
<path d="M114.61,237.21 V244.63 M113.11,237.21 h3.0 M113.11,244.63 h3.0" stroke="#d0d0d0" stroke-width="0.6" fill="none"/>
<path d="M119.68,240.46 V246.02 M118.18,240.46 h3.0 M118.18,246.02 h3.0" stroke="#d0d0d0" stroke-width="0.6" fill="none"/>
<path d="M124.74,242.77 V248.33 M123.24,242.77 h3.0 M123.24,248.33 h3.0" stroke="#d0d0d0" stroke-width="0.6" fill="none"/>
<path d="M129.80,240.46 V245.09 M128.30,240.46 h3.0 M128.30,245.09 h3.0" stroke="#d0d0d0" stroke-width="0.6" fill="none"/>
<path d="M134.87,241.85 V245.55 M133.37,241.85 h3.0 M133.37,245.55 h3.0" stroke="#d0d0d0" stroke-width="0.6" fill="none"/>
<path d="M139.93,242.31 V246.02 M138.43,242.31 h3.0 M138.43,246.02 h3.0" stroke="#d0d0d0" stroke-width="0.6" fill="none"/>
<path d="M144.99,242.77 V246.48 M143.49,242.77 h3.0 M143.49,246.48 h3.0" stroke="#d0d0d0" stroke-width="0.6" fill="none"/>
<path d="M150.06,240.92 V243.70 M148.56,240.92 h3.0 M148.56,243.70 h3.0" stroke="#d0d0d0" stroke-width="0.6" fill="none"/>
<path d="M155.12,244.63 V247.41 M153.62,244.63 h3.0 M153.62,247.41 h3.0" stroke="#d0d0d0" stroke-width="0.6" fill="none"/>
<path d="M160.18,244.63 V247.41 M158.68,244.63 h3.0 M158.68,247.41 h3.0" stroke="#d0d0d0" stroke-width="0.6" fill="none"/>
<path d="M165.25,244.63 V247.41 M163.75,244.63 h3.0 M163.75,247.41 h3.0" stroke="#d0d0d0" stroke-width="0.6" fill="none"/>
<path d="M170.31,246.94 V249.72 M168.81,246.94 h3.0 M168.81,249.72 h3.0" stroke="#d0d0d0" stroke-width="0.6" fill="none"/>
<path d="M175.37,246.94 V249.72 M173.87,246.94 h3.0 M173.87,249.72 h3.0" stroke="#d0d0d0" stroke-width="0.6" fill="none"/>
<path d="M180.44,246.48 V249.26 M178.94,246.48 h3.0 M178.94,249.26 h3.0" stroke="#d0d0d0" stroke-width="0.6" fill="none"/>
<path d="M185.50,246.02 V248.80 M184.00,246.02 h3.0 M184.00,248.80 h3.0" stroke="#d0d0d0" stroke-width="0.6" fill="none"/>
<path d="M33.60,316.44 V319.22 M32.10,316.44 h3.0 M32.10,319.22 h3.0" stroke="#b0b0b0" stroke-width="0.6" fill="none"/>
<path d="M38.66,315.42 V318.39 M37.16,315.42 h3.0 M37.16,318.39 h3.0" stroke="#b0b0b0" stroke-width="0.6" fill="none"/>
<path d="M43.73,314.40 V317.56 M42.23,314.40 h3.0 M42.23,317.56 h3.0" stroke="#b0b0b0" stroke-width="0.6" fill="none"/>
<path d="M48.79,312.46 V315.79 M47.29,312.46 h3.0 M47.29,315.79 h3.0" stroke="#b0b0b0" stroke-width="0.6" fill="none"/>
<path d="M53.85,310.05 V313.57 M52.35,310.05 h3.0 M52.35,313.57 h3.0" stroke="#b0b0b0" stroke-width="0.6" fill="none"/>
<path d="M58.92,307.64 V311.35 M57.42,307.64 h3.0 M57.42,311.35 h3.0" stroke="#b0b0b0" stroke-width="0.6" fill="none"/>
<path d="M63.98,304.77 V308.66 M62.48,304.77 h3.0 M62.48,308.66 h3.0" stroke="#b0b0b0" stroke-width="0.6" fill="none"/>
<path d="M69.04,301.43 V305.51 M67.54,301.43 h3.0 M67.54,305.51 h3.0" stroke="#b0b0b0" stroke-width="0.6" fill="none"/>
<path d="M74.11,298.56 V302.82 M72.61,298.56 h3.0 M72.61,302.82 h3.0" stroke="#b0b0b0" stroke-width="0.6" fill="none"/>
<path d="M79.17,296.15 V300.60 M77.67,296.15 h3.0 M77.67,300.60 h3.0" stroke="#b0b0b0" stroke-width="0.6" fill="none"/>
<path d="M84.23,292.81 V297.45 M82.73,292.81 h3.0 M82.73,297.45 h3.0" stroke="#b0b0b0" stroke-width="0.6" fill="none"/>
<path d="M89.30,290.96 V295.59 M87.80,290.96 h3.0 M87.80,295.59 h3.0" stroke="#b0b0b0" stroke-width="0.6" fill="none"/>
<path d="M94.36,288.64 V293.28 M92.86,288.64 h3.0 M92.86,293.28 h3.0" stroke="#b0b0b0" stroke-width="0.6" fill="none"/>
<path d="M99.42,285.86 V290.50 M97.92,285.86 h3.0 M97.92,290.50 h3.0" stroke="#b0b0b0" stroke-width="0.6" fill="none"/>
<path d="M104.49,284.94 V289.57 M102.99,284.94 h3.0 M102.99,289.57 h3.0" stroke="#b0b0b0" stroke-width="0.6" fill="none"/>
<path d="M109.55,282.16 V286.79 M108.05,282.16 h3.0 M108.05,286.79 h3.0" stroke="#b0b0b0" stroke-width="0.6" fill="none"/>
<path d="M114.61,280.30 V284.94 M113.11,280.30 h3.0 M113.11,284.94 h3.0" stroke="#b0b0b0" stroke-width="0.6" fill="none"/>
<path d="M119.68,279.38 V284.01 M118.18,279.38 h3.0 M118.18,284.01 h3.0" stroke="#b0b0b0" stroke-width="0.6" fill="none"/>
<path d="M124.74,278.45 V283.08 M123.24,278.45 h3.0 M123.24,283.08 h3.0" stroke="#b0b0b0" stroke-width="0.6" fill="none"/>
<path d="M129.80,277.52 V282.16 M128.30,277.52 h3.0 M128.30,282.16 h3.0" stroke="#b0b0b0" stroke-width="0.6" fill="none"/>
<path d="M134.87,276.60 V281.23 M133.37,276.60 h3.0 M133.37,281.23 h3.0" stroke="#b0b0b0" stroke-width="0.6" fill="none"/>
<path d="M139.93,275.67 V280.30 M138.43,275.67 h3.0 M138.43,280.30 h3.0" stroke="#b0b0b0" stroke-width="0.6" fill="none"/>
<path d="M144.99,275.21 V279.84 M143.49,275.21 h3.0 M143.49,279.84 h3.0" stroke="#b0b0b0" stroke-width="0.6" fill="none"/>
<path d="M150.06,274.28 V278.91 M148.56,274.28 h3.0 M148.56,278.91 h3.0" stroke="#b0b0b0" stroke-width="0.6" fill="none"/>
<path d="M155.12,272.89 V277.52 M153.62,272.89 h3.0 M153.62,277.52 h3.0" stroke="#b0b0b0" stroke-width="0.6" fill="none"/>
<path d="M160.18,272.43 V277.06 M158.68,272.43 h3.0 M158.68,277.06 h3.0" stroke="#b0b0b0" stroke-width="0.6" fill="none"/>
<path d="M165.25,271.96 V276.60 M163.75,271.96 h3.0 M163.75,276.60 h3.0" stroke="#b0b0b0" stroke-width="0.6" fill="none"/>
<path d="M170.31,271.50 V276.13 M168.81,271.50 h3.0 M168.81,276.13 h3.0" stroke="#b0b0b0" stroke-width="0.6" fill="none"/>
<path d="M175.37,271.04 V275.67 M173.87,271.04 h3.0 M173.87,275.67 h3.0" stroke="#b0b0b0" stroke-width="0.6" fill="none"/>
<path d="M180.44,270.57 V275.21 M178.94,270.57 h3.0 M178.94,275.21 h3.0" stroke="#b0b0b0" stroke-width="0.6" fill="none"/>
<path d="M185.50,270.57 V275.21 M184.00,270.57 h3.0 M184.00,275.21 h3.0" stroke="#b0b0b0" stroke-width="0.6" fill="none"/>
<path d="M33.60,316.44 V319.22 M32.10,316.44 h3.0 M32.10,319.22 h3.0" stroke="#555" stroke-width="0.7" fill="none"/>
<path d="M38.66,316.68 V319.92 M37.16,316.68 h3.0 M37.16,319.92 h3.0" stroke="#555" stroke-width="0.7" fill="none"/>
<path d="M43.73,315.98 V319.69 M42.23,315.98 h3.0 M42.23,319.69 h3.0" stroke="#555" stroke-width="0.7" fill="none"/>
<path d="M48.79,315.29 V319.45 M47.29,315.29 h3.0 M47.29,319.45 h3.0" stroke="#555" stroke-width="0.7" fill="none"/>
<path d="M53.85,314.13 V318.76 M52.35,314.13 h3.0 M52.35,318.76 h3.0" stroke="#555" stroke-width="0.7" fill="none"/>
<path d="M58.92,312.50 V317.60 M57.42,312.50 h3.0 M57.42,317.60 h3.0" stroke="#555" stroke-width="0.7" fill="none"/>
<path d="M63.98,310.88 V316.44 M62.48,310.88 h3.0 M62.48,316.44 h3.0" stroke="#555" stroke-width="0.7" fill="none"/>
<path d="M69.04,308.34 V314.36 M67.54,308.34 h3.0 M67.54,314.36 h3.0" stroke="#555" stroke-width="0.7" fill="none"/>
<path d="M74.11,306.25 V312.74 M72.61,306.25 h3.0 M72.61,312.74 h3.0" stroke="#555" stroke-width="0.7" fill="none"/>
<path d="M79.17,303.70 V310.65 M77.67,303.70 h3.0 M77.67,310.65 h3.0" stroke="#555" stroke-width="0.7" fill="none"/>
<path d="M84.23,302.08 V309.49 M82.73,302.08 h3.0 M82.73,309.49 h3.0" stroke="#555" stroke-width="0.7" fill="none"/>
<path d="M89.30,299.76 V307.18 M87.80,299.76 h3.0 M87.80,307.18 h3.0" stroke="#555" stroke-width="0.7" fill="none"/>
<path d="M94.36,296.06 V303.47 M92.86,296.06 h3.0 M92.86,303.47 h3.0" stroke="#555" stroke-width="0.7" fill="none"/>
<path d="M99.42,292.35 V299.76 M97.92,292.35 h3.0 M97.92,299.76 h3.0" stroke="#555" stroke-width="0.7" fill="none"/>
<path d="M104.49,290.03 V297.45 M102.99,290.03 h3.0 M102.99,297.45 h3.0" stroke="#555" stroke-width="0.7" fill="none"/>
<path d="M109.55,289.57 V296.98 M108.05,289.57 h3.0 M108.05,296.98 h3.0" stroke="#555" stroke-width="0.7" fill="none"/>
<path d="M114.61,287.25 V294.67 M113.11,287.25 h3.0 M113.11,294.67 h3.0" stroke="#555" stroke-width="0.7" fill="none"/>
<path d="M119.68,285.40 V292.81 M118.18,285.40 h3.0 M118.18,292.81 h3.0" stroke="#555" stroke-width="0.7" fill="none"/>
<path d="M124.74,283.55 V290.96 M123.24,283.55 h3.0 M123.24,290.96 h3.0" stroke="#555" stroke-width="0.7" fill="none"/>
<path d="M129.80,282.16 V289.57 M128.30,282.16 h3.0 M128.30,289.57 h3.0" stroke="#555" stroke-width="0.7" fill="none"/>
<path d="M134.87,281.23 V288.64 M133.37,281.23 h3.0 M133.37,288.64 h3.0" stroke="#555" stroke-width="0.7" fill="none"/>
<path d="M139.93,281.23 V288.64 M138.43,281.23 h3.0 M138.43,288.64 h3.0" stroke="#555" stroke-width="0.7" fill="none"/>
<path d="M144.99,280.77 V288.18 M143.49,280.77 h3.0 M143.49,288.18 h3.0" stroke="#555" stroke-width="0.7" fill="none"/>
<path d="M150.06,278.45 V285.86 M148.56,278.45 h3.0 M148.56,285.86 h3.0" stroke="#555" stroke-width="0.7" fill="none"/>
<path d="M155.12,279.38 V286.79 M153.62,279.38 h3.0 M153.62,286.79 h3.0" stroke="#555" stroke-width="0.7" fill="none"/>
<path d="M160.18,279.38 V286.79 M158.68,279.38 h3.0 M158.68,286.79 h3.0" stroke="#555" stroke-width="0.7" fill="none"/>
<path d="M165.25,278.45 V285.86 M163.75,278.45 h3.0 M163.75,285.86 h3.0" stroke="#555" stroke-width="0.7" fill="none"/>
<path d="M170.31,277.99 V285.40 M168.81,277.99 h3.0 M168.81,285.40 h3.0" stroke="#555" stroke-width="0.7" fill="none"/>
<path d="M175.37,277.06 V284.47 M173.87,277.06 h3.0 M173.87,284.47 h3.0" stroke="#555" stroke-width="0.7" fill="none"/>
<path d="M180.44,277.06 V284.47 M178.94,277.06 h3.0 M178.94,284.47 h3.0" stroke="#555" stroke-width="0.7" fill="none"/>
<path d="M185.50,277.06 V284.47 M184.00,277.06 h3.0 M184.00,284.47 h3.0" stroke="#555" stroke-width="0.7" fill="none"/>
<circle cx="33.60" cy="317.83" r="2.2" fill="#bcbcbc"/>
<circle cx="38.66" cy="312.00" r="2.2" fill="#bcbcbc"/>
<circle cx="43.73" cy="303.28" r="2.2" fill="#bcbcbc"/>
<circle cx="48.79" cy="291.61" r="2.2" fill="#bcbcbc"/>
<circle cx="53.85" cy="277.34" r="2.2" fill="#bcbcbc"/>
<circle cx="58.92" cy="266.08" r="2.2" fill="#bcbcbc"/>
<circle cx="63.98" cy="256.21" r="2.2" fill="#bcbcbc"/>
<circle cx="69.04" cy="261.77" r="2.2" fill="#bcbcbc"/>
<circle cx="74.11" cy="245.55" r="2.2" fill="#bcbcbc"/>
<circle cx="79.17" cy="241.38" r="2.2" fill="#bcbcbc"/>
<circle cx="84.23" cy="239.53" r="2.2" fill="#bcbcbc"/>
<circle cx="89.30" cy="239.99" r="2.2" fill="#bcbcbc"/>
<circle cx="94.36" cy="239.99" r="2.2" fill="#bcbcbc"/>
<circle cx="99.42" cy="240.92" r="2.2" fill="#bcbcbc"/>
<circle cx="104.49" cy="242.77" r="2.2" fill="#bcbcbc"/>
<circle cx="109.55" cy="240.92" r="2.2" fill="#bcbcbc"/>
<circle cx="114.61" cy="240.92" r="2.2" fill="#bcbcbc"/>
<circle cx="119.68" cy="243.24" r="2.2" fill="#bcbcbc"/>
<circle cx="124.74" cy="245.55" r="2.2" fill="#bcbcbc"/>
<circle cx="129.80" cy="242.77" r="2.2" fill="#bcbcbc"/>
<circle cx="134.87" cy="243.70" r="2.2" fill="#bcbcbc"/>
<circle cx="139.93" cy="244.16" r="2.2" fill="#bcbcbc"/>
<circle cx="144.99" cy="244.63" r="2.2" fill="#bcbcbc"/>
<circle cx="150.06" cy="242.31" r="2.2" fill="#bcbcbc"/>
<circle cx="155.12" cy="246.02" r="2.2" fill="#bcbcbc"/>
<circle cx="160.18" cy="246.02" r="2.2" fill="#bcbcbc"/>
<circle cx="165.25" cy="246.02" r="2.2" fill="#bcbcbc"/>
<circle cx="170.31" cy="248.33" r="2.2" fill="#bcbcbc"/>
<circle cx="175.37" cy="248.33" r="2.2" fill="#bcbcbc"/>
<circle cx="180.44" cy="247.87" r="2.2" fill="#bcbcbc"/>
<circle cx="185.50" cy="247.41" r="2.2" fill="#bcbcbc"/>
<path d="M33.60,315.71 L36.25,319.95 L30.95,319.95 Z" fill="#747474"/>
<path d="M38.66,314.79 L41.31,319.03 L36.01,319.03 Z" fill="#747474"/>
<path d="M43.73,313.86 L46.38,318.10 L41.08,318.10 Z" fill="#747474"/>
<path d="M48.79,312.01 L51.44,316.25 L46.14,316.25 Z" fill="#747474"/>
<path d="M53.85,309.69 L56.50,313.93 L51.20,313.93 Z" fill="#747474"/>
<path d="M58.92,307.37 L61.57,311.61 L56.27,311.61 Z" fill="#747474"/>
<path d="M63.98,304.59 L66.63,308.83 L61.33,308.83 Z" fill="#747474"/>
<path d="M69.04,301.35 L71.69,305.59 L66.39,305.59 Z" fill="#747474"/>
<path d="M74.11,298.57 L76.76,302.81 L71.46,302.81 Z" fill="#747474"/>
<path d="M79.17,296.25 L81.82,300.49 L76.52,300.49 Z" fill="#747474"/>
<path d="M84.23,293.01 L86.88,297.25 L81.58,297.25 Z" fill="#747474"/>
<path d="M89.30,291.16 L91.95,295.40 L86.65,295.40 Z" fill="#747474"/>
<path d="M94.36,288.84 L97.01,293.08 L91.71,293.08 Z" fill="#747474"/>
<path d="M99.42,286.06 L102.07,290.30 L96.77,290.30 Z" fill="#747474"/>
<path d="M104.49,285.13 L107.14,289.37 L101.84,289.37 Z" fill="#747474"/>
<path d="M109.55,282.35 L112.20,286.59 L106.90,286.59 Z" fill="#747474"/>
<path d="M114.61,280.50 L117.26,284.74 L111.96,284.74 Z" fill="#747474"/>
<path d="M119.68,279.57 L122.33,283.81 L117.03,283.81 Z" fill="#747474"/>
<path d="M124.74,278.65 L127.39,282.89 L122.09,282.89 Z" fill="#747474"/>
<path d="M129.80,277.72 L132.45,281.96 L127.15,281.96 Z" fill="#747474"/>
<path d="M134.87,276.79 L137.52,281.03 L132.22,281.03 Z" fill="#747474"/>
<path d="M139.93,275.87 L142.58,280.11 L137.28,280.11 Z" fill="#747474"/>
<path d="M144.99,275.40 L147.64,279.64 L142.34,279.64 Z" fill="#747474"/>
<path d="M150.06,274.48 L152.71,278.72 L147.41,278.72 Z" fill="#747474"/>
<path d="M155.12,273.09 L157.77,277.33 L152.47,277.33 Z" fill="#747474"/>
<path d="M160.18,272.62 L162.83,276.86 L157.53,276.86 Z" fill="#747474"/>
<path d="M165.25,272.16 L167.90,276.40 L162.60,276.40 Z" fill="#747474"/>
<path d="M170.31,271.70 L172.96,275.94 L167.66,275.94 Z" fill="#747474"/>
<path d="M175.37,271.23 L178.02,275.47 L172.72,275.47 Z" fill="#747474"/>
<path d="M180.44,270.77 L183.09,275.01 L177.79,275.01 Z" fill="#747474"/>
<path d="M185.50,270.77 L188.15,275.01 L182.85,275.01 Z" fill="#747474"/>
<rect x="31.65" y="315.88" width="3.9" height="3.9" fill="#0a0a0a"/>
<rect x="36.71" y="316.35" width="3.9" height="3.9" fill="#0a0a0a"/>
<rect x="41.78" y="315.88" width="3.9" height="3.9" fill="#0a0a0a"/>
<rect x="46.84" y="315.42" width="3.9" height="3.9" fill="#0a0a0a"/>
<rect x="51.90" y="314.49" width="3.9" height="3.9" fill="#0a0a0a"/>
<rect x="56.97" y="313.10" width="3.9" height="3.9" fill="#0a0a0a"/>
<rect x="62.03" y="311.71" width="3.9" height="3.9" fill="#0a0a0a"/>
<rect x="67.09" y="309.40" width="3.9" height="3.9" fill="#0a0a0a"/>
<rect x="72.16" y="307.54" width="3.9" height="3.9" fill="#0a0a0a"/>
<rect x="77.22" y="305.23" width="3.9" height="3.9" fill="#0a0a0a"/>
<rect x="82.28" y="303.84" width="3.9" height="3.9" fill="#0a0a0a"/>
<rect x="87.35" y="301.52" width="3.9" height="3.9" fill="#0a0a0a"/>
<rect x="92.41" y="297.81" width="3.9" height="3.9" fill="#0a0a0a"/>
<rect x="97.47" y="294.11" width="3.9" height="3.9" fill="#0a0a0a"/>
<rect x="102.54" y="291.79" width="3.9" height="3.9" fill="#0a0a0a"/>
<rect x="107.60" y="291.33" width="3.9" height="3.9" fill="#0a0a0a"/>
<rect x="112.66" y="289.01" width="3.9" height="3.9" fill="#0a0a0a"/>
<rect x="117.73" y="287.16" width="3.9" height="3.9" fill="#0a0a0a"/>
<rect x="122.79" y="285.30" width="3.9" height="3.9" fill="#0a0a0a"/>
<rect x="127.85" y="283.91" width="3.9" height="3.9" fill="#0a0a0a"/>
<rect x="132.92" y="282.99" width="3.9" height="3.9" fill="#0a0a0a"/>
<rect x="137.98" y="282.99" width="3.9" height="3.9" fill="#0a0a0a"/>
<rect x="143.04" y="282.52" width="3.9" height="3.9" fill="#0a0a0a"/>
<rect x="148.11" y="280.21" width="3.9" height="3.9" fill="#0a0a0a"/>
<rect x="153.17" y="281.13" width="3.9" height="3.9" fill="#0a0a0a"/>
<rect x="158.23" y="281.13" width="3.9" height="3.9" fill="#0a0a0a"/>
<rect x="163.30" y="280.21" width="3.9" height="3.9" fill="#0a0a0a"/>
<rect x="168.36" y="279.74" width="3.9" height="3.9" fill="#0a0a0a"/>
<rect x="173.42" y="278.82" width="3.9" height="3.9" fill="#0a0a0a"/>
<rect x="178.49" y="278.82" width="3.9" height="3.9" fill="#0a0a0a"/>
<rect x="183.55" y="278.82" width="3.9" height="3.9" fill="#0a0a0a"/>
<path d="M33.60,341 v-2.3 M33.60,202 v2.3 M63.98,341 v-2.3 M63.98,202 v2.3 M94.36,341 v-2.3 M94.36,202 v2.3 M124.74,341 v-2.3 M124.74,202 v2.3 M155.12,341 v-2.3 M155.12,202 v2.3 M185.50,341 v-2.3 M185.50,202 v2.3 M33.6,317.83 h2.3 M185.5,317.83 h-2.3 M33.6,271.50 h2.3 M185.5,271.50 h-2.3 M33.6,225.17 h2.3 M185.5,225.17 h-2.3 M33.6,294.67 h1.4 M185.5,294.67 h-1.4 M33.6,248.33 h1.4 M185.5,248.33 h-1.4" stroke="#555" stroke-width="0.8" fill="none"/>
<rect x="33.6" y="202" width="151.90" height="139.00" fill="none" stroke="#555" stroke-width="1.05"/>
<text x="33.60" y="351.00" font-size="9.1" text-anchor="middle" fill="#222">0</text>
<text x="63.98" y="351.00" font-size="9.1" text-anchor="middle" fill="#222">3</text>
<text x="94.36" y="351.00" font-size="9.1" text-anchor="middle" fill="#222">6</text>
<text x="124.74" y="351.00" font-size="9.1" text-anchor="middle" fill="#222">9</text>
<text x="155.12" y="351.00" font-size="9.1" text-anchor="middle" fill="#222">12</text>
<text x="185.50" y="351.00" font-size="9.1" text-anchor="middle" fill="#222">15</text>
<text x="31.20" y="320.93" font-size="9.1" text-anchor="end" fill="#222">1</text>
<text x="31.20" y="274.60" font-size="9.1" text-anchor="end" fill="#222">2</text>
<text x="31.20" y="228.27" font-size="9.1" text-anchor="end" fill="#222">3</text>
<rect x="112.35" y="307.55" width="3.5" height="3.5" fill="#0a0a0a"/>
<path d="M114.10,318.72 L116.45,322.48 L111.75,322.48 Z" fill="#747474"/>
<circle cx="114.10" cy="331.30" r="2.2" fill="#bcbcbc"/>
<text x="125.30" y="312.20" font-size="8.3" textLength="56" lengthAdjust="spacingAndGlyphs" fill="#222">100 °C, no MW</text>
<text x="125.30" y="323.20" font-size="8.3" textLength="43" lengthAdjust="spacingAndGlyphs" fill="#222">50 W/60 °C</text>
<text x="125.30" y="334.20" font-size="8.3" textLength="46.8" lengthAdjust="spacingAndGlyphs" fill="#222">100 W/60 °C</text>
<text x="109.50" y="363.60" font-size="9.3" text-anchor="middle" textLength="70.5" lengthAdjust="spacingAndGlyphs" fill="#222">Drying time [min]</text>
<text x="20.40" y="272.00" font-size="9.3" text-anchor="middle" textLength="80.8" lengthAdjust="spacingAndGlyphs" transform="rotate(-90 20.4 272)" fill="#222">Normalized height [-]</text>
<text x="15.90" y="373.20" font-size="12.5" fill="#222">c</text>
<path d="M33.50,489.00 V496.77 M32.50,489.00 h2.0 M32.50,496.77 h2.0" stroke="#d0d0d0" stroke-width="0.6" fill="none"/>
<path d="M36.53,486.98 V494.75 M35.53,486.98 h2.0 M35.53,494.75 h2.0" stroke="#d0d0d0" stroke-width="0.6" fill="none"/>
<path d="M39.57,475.57 V483.34 M38.57,475.57 h2.0 M38.57,483.34 h2.0" stroke="#d0d0d0" stroke-width="0.6" fill="none"/>
<path d="M42.60,460.81 V468.58 M41.60,460.81 h2.0 M41.60,468.58 h2.0" stroke="#d0d0d0" stroke-width="0.6" fill="none"/>
<path d="M45.64,445.00 V452.77 M44.64,445.00 h2.0 M44.64,452.77 h2.0" stroke="#d0d0d0" stroke-width="0.6" fill="none"/>
<path d="M48.67,433.68 V440.52 M47.67,433.68 h2.0 M47.67,440.52 h2.0" stroke="#d0d0d0" stroke-width="0.6" fill="none"/>
<path d="M51.70,425.07 V431.91 M50.70,425.07 h2.0 M50.70,431.91 h2.0" stroke="#d0d0d0" stroke-width="0.6" fill="none"/>
<path d="M54.74,419.24 V426.08 M53.74,419.24 h2.0 M53.74,426.08 h2.0" stroke="#d0d0d0" stroke-width="0.6" fill="none"/>
<path d="M57.77,415.12 V421.96 M56.77,415.12 h2.0 M56.77,421.96 h2.0" stroke="#d0d0d0" stroke-width="0.6" fill="none"/>
<path d="M60.81,412.12 V418.96 M59.81,412.12 h2.0 M59.81,418.96 h2.0" stroke="#d0d0d0" stroke-width="0.6" fill="none"/>
<path d="M63.84,409.47 V416.31 M62.84,409.47 h2.0 M62.84,416.31 h2.0" stroke="#d0d0d0" stroke-width="0.6" fill="none"/>
<path d="M66.87,408.05 V414.89 M65.87,408.05 h2.0 M65.87,414.89 h2.0" stroke="#d0d0d0" stroke-width="0.6" fill="none"/>
<path d="M69.91,406.75 V413.59 M68.91,406.75 h2.0 M68.91,413.59 h2.0" stroke="#d0d0d0" stroke-width="0.6" fill="none"/>
<path d="M72.94,405.62 V412.46 M71.94,405.62 h2.0 M71.94,412.46 h2.0" stroke="#d0d0d0" stroke-width="0.6" fill="none"/>
<path d="M75.98,404.49 V411.33 M74.98,404.49 h2.0 M74.98,411.33 h2.0" stroke="#d0d0d0" stroke-width="0.6" fill="none"/>
<path d="M79.01,403.56 V410.40 M78.01,403.56 h2.0 M78.01,410.40 h2.0" stroke="#d0d0d0" stroke-width="0.6" fill="none"/>
<path d="M82.04,403.17 V410.01 M81.04,403.17 h2.0 M81.04,410.01 h2.0" stroke="#d0d0d0" stroke-width="0.6" fill="none"/>
<path d="M85.08,402.78 V409.62 M84.08,402.78 h2.0 M84.08,409.62 h2.0" stroke="#d0d0d0" stroke-width="0.6" fill="none"/>
<path d="M88.11,402.42 V409.26 M87.11,402.42 h2.0 M87.11,409.26 h2.0" stroke="#d0d0d0" stroke-width="0.6" fill="none"/>
<path d="M91.15,402.39 V409.23 M90.15,402.39 h2.0 M90.15,409.23 h2.0" stroke="#d0d0d0" stroke-width="0.6" fill="none"/>
<path d="M94.18,402.37 V409.21 M93.18,402.37 h2.0 M93.18,409.21 h2.0" stroke="#d0d0d0" stroke-width="0.6" fill="none"/>
<path d="M97.21,402.35 V409.18 M96.21,402.35 h2.0 M96.21,409.18 h2.0" stroke="#d0d0d0" stroke-width="0.6" fill="none"/>
<path d="M100.25,402.32 V409.16 M99.25,402.32 h2.0 M99.25,409.16 h2.0" stroke="#d0d0d0" stroke-width="0.6" fill="none"/>
<path d="M103.28,402.30 V409.14 M102.28,402.30 h2.0 M102.28,409.14 h2.0" stroke="#d0d0d0" stroke-width="0.6" fill="none"/>
<path d="M106.32,402.27 V409.11 M105.32,402.27 h2.0 M105.32,409.11 h2.0" stroke="#d0d0d0" stroke-width="0.6" fill="none"/>
<path d="M109.35,402.26 V409.10 M108.35,402.26 h2.0 M108.35,409.10 h2.0" stroke="#d0d0d0" stroke-width="0.6" fill="none"/>
<path d="M112.38,402.26 V409.10 M111.38,402.26 h2.0 M111.38,409.10 h2.0" stroke="#d0d0d0" stroke-width="0.6" fill="none"/>
<path d="M115.42,402.26 V409.10 M114.42,402.26 h2.0 M114.42,409.10 h2.0" stroke="#d0d0d0" stroke-width="0.6" fill="none"/>
<path d="M118.45,402.26 V409.10 M117.45,402.26 h2.0 M117.45,409.10 h2.0" stroke="#d0d0d0" stroke-width="0.6" fill="none"/>
<path d="M121.49,402.26 V409.10 M120.49,402.26 h2.0 M120.49,409.10 h2.0" stroke="#d0d0d0" stroke-width="0.6" fill="none"/>
<path d="M124.52,402.26 V409.10 M123.52,402.26 h2.0 M123.52,409.10 h2.0" stroke="#d0d0d0" stroke-width="0.6" fill="none"/>
<path d="M127.55,402.26 V409.10 M126.55,402.26 h2.0 M126.55,409.10 h2.0" stroke="#d0d0d0" stroke-width="0.6" fill="none"/>
<path d="M130.59,402.26 V409.10 M129.59,402.26 h2.0 M129.59,409.10 h2.0" stroke="#d0d0d0" stroke-width="0.6" fill="none"/>
<path d="M133.62,402.26 V409.10 M132.62,402.26 h2.0 M132.62,409.10 h2.0" stroke="#d0d0d0" stroke-width="0.6" fill="none"/>
<path d="M136.66,402.30 V409.13 M135.66,402.30 h2.0 M135.66,409.13 h2.0" stroke="#d0d0d0" stroke-width="0.6" fill="none"/>
<path d="M139.69,402.34 V409.18 M138.69,402.34 h2.0 M138.69,409.18 h2.0" stroke="#d0d0d0" stroke-width="0.6" fill="none"/>
<path d="M142.72,402.39 V409.23 M141.72,402.39 h2.0 M141.72,409.23 h2.0" stroke="#d0d0d0" stroke-width="0.6" fill="none"/>
<path d="M145.76,402.47 V409.31 M144.76,402.47 h2.0 M144.76,409.31 h2.0" stroke="#d0d0d0" stroke-width="0.6" fill="none"/>
<path d="M148.79,402.63 V409.47 M147.79,402.63 h2.0 M147.79,409.47 h2.0" stroke="#d0d0d0" stroke-width="0.6" fill="none"/>
<path d="M151.83,402.78 V409.62 M150.83,402.78 h2.0 M150.83,409.62 h2.0" stroke="#d0d0d0" stroke-width="0.6" fill="none"/>
<path d="M154.86,402.94 V409.78 M153.86,402.94 h2.0 M153.86,409.78 h2.0" stroke="#d0d0d0" stroke-width="0.6" fill="none"/>
<path d="M157.89,403.09 V409.93 M156.89,403.09 h2.0 M156.89,409.93 h2.0" stroke="#d0d0d0" stroke-width="0.6" fill="none"/>
<path d="M160.93,403.31 V410.15 M159.93,403.31 h2.0 M159.93,410.15 h2.0" stroke="#d0d0d0" stroke-width="0.6" fill="none"/>
<path d="M163.96,403.63 V410.47 M162.96,403.63 h2.0 M162.96,410.47 h2.0" stroke="#d0d0d0" stroke-width="0.6" fill="none"/>
<path d="M167.00,403.96 V410.80 M166.00,403.96 h2.0 M166.00,410.80 h2.0" stroke="#d0d0d0" stroke-width="0.6" fill="none"/>
<path d="M170.03,404.29 V411.12 M169.03,404.29 h2.0 M169.03,411.12 h2.0" stroke="#d0d0d0" stroke-width="0.6" fill="none"/>
<path d="M173.06,404.81 V411.65 M172.06,404.81 h2.0 M172.06,411.65 h2.0" stroke="#d0d0d0" stroke-width="0.6" fill="none"/>
<path d="M176.10,405.33 V412.17 M175.10,405.33 h2.0 M175.10,412.17 h2.0" stroke="#d0d0d0" stroke-width="0.6" fill="none"/>
<path d="M179.13,405.95 V412.79 M178.13,405.95 h2.0 M178.13,412.79 h2.0" stroke="#d0d0d0" stroke-width="0.6" fill="none"/>
<path d="M182.17,406.75 V413.59 M181.17,406.75 h2.0 M181.17,413.59 h2.0" stroke="#d0d0d0" stroke-width="0.6" fill="none"/>
<path d="M185.20,407.55 V414.39 M184.20,407.55 h2.0 M184.20,414.39 h2.0" stroke="#d0d0d0" stroke-width="0.6" fill="none"/>
<path d="M33.50,491.33 V497.55 M32.30,491.33 h2.4 M32.30,497.55 h2.4" stroke="#999" stroke-width="0.6" fill="none"/>
<path d="M36.53,488.07 V494.29 M35.33,488.07 h2.4 M35.33,494.29 h2.4" stroke="#999" stroke-width="0.6" fill="none"/>
<path d="M39.57,482.97 V489.19 M38.37,482.97 h2.4 M38.37,489.19 h2.4" stroke="#999" stroke-width="0.6" fill="none"/>
<path d="M42.60,476.26 V482.47 M41.40,476.26 h2.4 M41.40,482.47 h2.4" stroke="#999" stroke-width="0.6" fill="none"/>
<path d="M45.64,469.26 V475.48 M44.44,469.26 h2.4 M44.44,475.48 h2.4" stroke="#999" stroke-width="0.6" fill="none"/>
<path d="M48.67,462.30 V468.52 M47.47,462.30 h2.4 M47.47,468.52 h2.4" stroke="#999" stroke-width="0.6" fill="none"/>
<path d="M51.70,455.77 V461.99 M50.50,455.77 h2.4 M50.50,461.99 h2.4" stroke="#999" stroke-width="0.6" fill="none"/>
<path d="M54.74,450.41 V456.63 M53.54,450.41 h2.4 M53.54,456.63 h2.4" stroke="#999" stroke-width="0.6" fill="none"/>
<path d="M57.77,445.35 V451.57 M56.57,445.35 h2.4 M56.57,451.57 h2.4" stroke="#999" stroke-width="0.6" fill="none"/>
<path d="M60.81,441.59 V447.81 M59.61,441.59 h2.4 M59.61,447.81 h2.4" stroke="#999" stroke-width="0.6" fill="none"/>
<path d="M63.84,437.91 V444.13 M62.64,437.91 h2.4 M62.64,444.13 h2.4" stroke="#999" stroke-width="0.6" fill="none"/>
<path d="M66.87,434.80 V441.02 M65.67,434.80 h2.4 M65.67,441.02 h2.4" stroke="#999" stroke-width="0.6" fill="none"/>
<path d="M69.91,432.11 V438.32 M68.71,432.11 h2.4 M68.71,438.32 h2.4" stroke="#999" stroke-width="0.6" fill="none"/>
<path d="M72.94,429.95 V436.16 M71.74,429.95 h2.4 M71.74,436.16 h2.4" stroke="#999" stroke-width="0.6" fill="none"/>
<path d="M75.98,427.79 V434.00 M74.78,427.79 h2.4 M74.78,434.00 h2.4" stroke="#999" stroke-width="0.6" fill="none"/>
<path d="M79.01,425.76 V431.98 M77.81,425.76 h2.4 M77.81,431.98 h2.4" stroke="#999" stroke-width="0.6" fill="none"/>
<path d="M82.04,424.09 V430.31 M80.84,424.09 h2.4 M80.84,430.31 h2.4" stroke="#999" stroke-width="0.6" fill="none"/>
<path d="M85.08,422.42 V428.64 M83.88,422.42 h2.4 M83.88,428.64 h2.4" stroke="#999" stroke-width="0.6" fill="none"/>
<path d="M88.11,421.18 V427.40 M86.91,421.18 h2.4 M86.91,427.40 h2.4" stroke="#999" stroke-width="0.6" fill="none"/>
<path d="M91.15,420.28 V426.50 M89.95,420.28 h2.4 M89.95,426.50 h2.4" stroke="#999" stroke-width="0.6" fill="none"/>
<path d="M94.18,419.38 V425.59 M92.98,419.38 h2.4 M92.98,425.59 h2.4" stroke="#999" stroke-width="0.6" fill="none"/>
<path d="M97.21,418.47 V424.69 M96.01,418.47 h2.4 M96.01,424.69 h2.4" stroke="#999" stroke-width="0.6" fill="none"/>
<path d="M100.25,417.61 V423.83 M99.05,417.61 h2.4 M99.05,423.83 h2.4" stroke="#999" stroke-width="0.6" fill="none"/>
<path d="M103.28,416.87 V423.08 M102.08,416.87 h2.4 M102.08,423.08 h2.4" stroke="#999" stroke-width="0.6" fill="none"/>
<path d="M106.32,416.12 V422.34 M105.12,416.12 h2.4 M105.12,422.34 h2.4" stroke="#999" stroke-width="0.6" fill="none"/>
<path d="M109.35,415.38 V421.59 M108.15,415.38 h2.4 M108.15,421.59 h2.4" stroke="#999" stroke-width="0.6" fill="none"/>
<path d="M112.38,414.63 V420.85 M111.18,414.63 h2.4 M111.18,420.85 h2.4" stroke="#999" stroke-width="0.6" fill="none"/>
<path d="M115.42,414.01 V420.22 M114.22,414.01 h2.4 M114.22,420.22 h2.4" stroke="#999" stroke-width="0.6" fill="none"/>
<path d="M118.45,413.52 V419.73 M117.25,413.52 h2.4 M117.25,419.73 h2.4" stroke="#999" stroke-width="0.6" fill="none"/>
<path d="M121.49,413.03 V419.24 M120.29,413.03 h2.4 M120.29,419.24 h2.4" stroke="#999" stroke-width="0.6" fill="none"/>
<path d="M124.52,412.54 V418.76 M123.32,412.54 h2.4 M123.32,418.76 h2.4" stroke="#999" stroke-width="0.6" fill="none"/>
<path d="M127.55,412.05 V418.27 M126.35,412.05 h2.4 M126.35,418.27 h2.4" stroke="#999" stroke-width="0.6" fill="none"/>
<path d="M130.59,411.76 V417.98 M129.39,411.76 h2.4 M129.39,417.98 h2.4" stroke="#999" stroke-width="0.6" fill="none"/>
<path d="M133.62,411.57 V417.79 M132.42,411.57 h2.4 M132.42,417.79 h2.4" stroke="#999" stroke-width="0.6" fill="none"/>
<path d="M136.66,411.37 V417.59 M135.46,411.37 h2.4 M135.46,417.59 h2.4" stroke="#999" stroke-width="0.6" fill="none"/>
<path d="M139.69,411.18 V417.40 M138.49,411.18 h2.4 M138.49,417.40 h2.4" stroke="#999" stroke-width="0.6" fill="none"/>
<path d="M142.72,410.98 V417.20 M141.52,410.98 h2.4 M141.52,417.20 h2.4" stroke="#999" stroke-width="0.6" fill="none"/>
<path d="M145.76,410.94 V417.16 M144.56,410.94 h2.4 M144.56,417.16 h2.4" stroke="#999" stroke-width="0.6" fill="none"/>
<path d="M148.79,410.92 V417.13 M147.59,410.92 h2.4 M147.59,417.13 h2.4" stroke="#999" stroke-width="0.6" fill="none"/>
<path d="M151.83,410.89 V417.11 M150.63,410.89 h2.4 M150.63,417.11 h2.4" stroke="#999" stroke-width="0.6" fill="none"/>
<path d="M154.86,410.86 V417.08 M153.66,410.86 h2.4 M153.66,417.08 h2.4" stroke="#999" stroke-width="0.6" fill="none"/>
<path d="M157.89,410.83 V417.05 M156.69,410.83 h2.4 M156.69,417.05 h2.4" stroke="#999" stroke-width="0.6" fill="none"/>
<path d="M160.93,410.81 V417.03 M159.73,410.81 h2.4 M159.73,417.03 h2.4" stroke="#999" stroke-width="0.6" fill="none"/>
<path d="M163.96,410.79 V417.01 M162.76,410.79 h2.4 M162.76,417.01 h2.4" stroke="#999" stroke-width="0.6" fill="none"/>
<path d="M167.00,410.77 V416.99 M165.80,410.77 h2.4 M165.80,416.99 h2.4" stroke="#999" stroke-width="0.6" fill="none"/>
<path d="M170.03,410.75 V416.97 M168.83,410.75 h2.4 M168.83,416.97 h2.4" stroke="#999" stroke-width="0.6" fill="none"/>
<path d="M173.06,410.73 V416.95 M171.86,410.73 h2.4 M171.86,416.95 h2.4" stroke="#999" stroke-width="0.6" fill="none"/>
<path d="M176.10,410.71 V416.93 M174.90,410.71 h2.4 M174.90,416.93 h2.4" stroke="#999" stroke-width="0.6" fill="none"/>
<path d="M179.13,410.70 V416.91 M177.93,410.70 h2.4 M177.93,416.91 h2.4" stroke="#999" stroke-width="0.6" fill="none"/>
<path d="M182.17,410.68 V416.89 M180.97,410.68 h2.4 M180.97,416.89 h2.4" stroke="#999" stroke-width="0.6" fill="none"/>
<path d="M185.20,410.66 V416.88 M184.00,410.66 h2.4 M184.00,416.88 h2.4" stroke="#999" stroke-width="0.6" fill="none"/>
<path d="M33.50,495.06 V501.28 M32.30,495.06 h2.4 M32.30,501.28 h2.4" stroke="#555" stroke-width="0.7" fill="none"/>
<path d="M36.53,495.44 V501.66 M35.33,495.44 h2.4 M35.33,501.66 h2.4" stroke="#555" stroke-width="0.7" fill="none"/>
<path d="M39.57,495.69 V501.90 M38.37,495.69 h2.4 M38.37,501.90 h2.4" stroke="#555" stroke-width="0.7" fill="none"/>
<path d="M42.60,495.41 V501.62 M41.40,495.41 h2.4 M41.40,501.62 h2.4" stroke="#555" stroke-width="0.7" fill="none"/>
<path d="M45.64,494.23 V500.44 M44.44,494.23 h2.4 M44.44,500.44 h2.4" stroke="#555" stroke-width="0.7" fill="none"/>
<path d="M48.67,491.91 V498.13 M47.47,491.91 h2.4 M47.47,498.13 h2.4" stroke="#555" stroke-width="0.7" fill="none"/>
<path d="M51.70,488.99 V495.21 M50.50,488.99 h2.4 M50.50,495.21 h2.4" stroke="#555" stroke-width="0.7" fill="none"/>
<path d="M54.74,485.62 V491.84 M53.54,485.62 h2.4 M53.54,491.84 h2.4" stroke="#555" stroke-width="0.7" fill="none"/>
<path d="M57.77,482.02 V488.24 M56.57,482.02 h2.4 M56.57,488.24 h2.4" stroke="#555" stroke-width="0.7" fill="none"/>
<path d="M60.81,478.55 V484.76 M59.61,478.55 h2.4 M59.61,484.76 h2.4" stroke="#555" stroke-width="0.7" fill="none"/>
<path d="M63.84,474.55 V480.76 M62.64,474.55 h2.4 M62.64,480.76 h2.4" stroke="#555" stroke-width="0.7" fill="none"/>
<path d="M66.87,470.54 V476.75 M65.67,470.54 h2.4 M65.67,476.75 h2.4" stroke="#555" stroke-width="0.7" fill="none"/>
<path d="M69.91,466.62 V472.84 M68.71,466.62 h2.4 M68.71,472.84 h2.4" stroke="#555" stroke-width="0.7" fill="none"/>
<path d="M72.94,462.89 V469.11 M71.74,462.89 h2.4 M71.74,469.11 h2.4" stroke="#555" stroke-width="0.7" fill="none"/>
<path d="M75.98,459.41 V465.62 M74.78,459.41 h2.4 M74.78,465.62 h2.4" stroke="#555" stroke-width="0.7" fill="none"/>
<path d="M79.01,456.05 V462.27 M77.81,456.05 h2.4 M77.81,462.27 h2.4" stroke="#555" stroke-width="0.7" fill="none"/>
<path d="M82.04,452.60 V458.82 M80.84,452.60 h2.4 M80.84,458.82 h2.4" stroke="#555" stroke-width="0.7" fill="none"/>
<path d="M85.08,449.15 V455.37 M83.88,449.15 h2.4 M83.88,455.37 h2.4" stroke="#555" stroke-width="0.7" fill="none"/>
<path d="M88.11,446.13 V452.35 M86.91,446.13 h2.4 M86.91,452.35 h2.4" stroke="#555" stroke-width="0.7" fill="none"/>
<path d="M91.15,443.44 V449.65 M89.95,443.44 h2.4 M89.95,449.65 h2.4" stroke="#555" stroke-width="0.7" fill="none"/>
<path d="M94.18,440.77 V446.98 M92.98,440.77 h2.4 M92.98,446.98 h2.4" stroke="#555" stroke-width="0.7" fill="none"/>
<path d="M97.21,438.19 V444.41 M96.01,438.19 h2.4 M96.01,444.41 h2.4" stroke="#555" stroke-width="0.7" fill="none"/>
<path d="M100.25,435.70 V441.92 M99.05,435.70 h2.4 M99.05,441.92 h2.4" stroke="#555" stroke-width="0.7" fill="none"/>
<path d="M103.28,433.44 V439.65 M102.08,433.44 h2.4 M102.08,439.65 h2.4" stroke="#555" stroke-width="0.7" fill="none"/>
<path d="M106.32,431.17 V437.39 M105.12,431.17 h2.4 M105.12,437.39 h2.4" stroke="#555" stroke-width="0.7" fill="none"/>
<path d="M109.35,429.41 V435.62 M108.15,429.41 h2.4 M108.15,435.62 h2.4" stroke="#555" stroke-width="0.7" fill="none"/>
<path d="M112.38,427.72 V433.94 M111.18,427.72 h2.4 M111.18,433.94 h2.4" stroke="#555" stroke-width="0.7" fill="none"/>
<path d="M115.42,426.18 V432.40 M114.22,426.18 h2.4 M114.22,432.40 h2.4" stroke="#555" stroke-width="0.7" fill="none"/>
<path d="M118.45,424.80 V431.02 M117.25,424.80 h2.4 M117.25,431.02 h2.4" stroke="#555" stroke-width="0.7" fill="none"/>
<path d="M121.49,423.44 V429.65 M120.29,423.44 h2.4 M120.29,429.65 h2.4" stroke="#555" stroke-width="0.7" fill="none"/>
<path d="M124.52,422.21 V428.42 M123.32,422.21 h2.4 M123.32,428.42 h2.4" stroke="#555" stroke-width="0.7" fill="none"/>
<path d="M127.55,420.98 V427.19 M126.35,420.98 h2.4 M126.35,427.19 h2.4" stroke="#555" stroke-width="0.7" fill="none"/>
<path d="M130.59,419.87 V426.09 M129.39,419.87 h2.4 M129.39,426.09 h2.4" stroke="#555" stroke-width="0.7" fill="none"/>
<path d="M133.62,418.82 V425.04 M132.42,418.82 h2.4 M132.42,425.04 h2.4" stroke="#555" stroke-width="0.7" fill="none"/>
<path d="M136.66,417.86 V424.08 M135.46,417.86 h2.4 M135.46,424.08 h2.4" stroke="#555" stroke-width="0.7" fill="none"/>
<path d="M139.69,417.08 V423.30 M138.49,417.08 h2.4 M138.49,423.30 h2.4" stroke="#555" stroke-width="0.7" fill="none"/>
<path d="M142.72,416.31 V422.52 M141.52,416.31 h2.4 M141.52,422.52 h2.4" stroke="#555" stroke-width="0.7" fill="none"/>
<path d="M145.76,415.68 V421.90 M144.56,415.68 h2.4 M144.56,421.90 h2.4" stroke="#555" stroke-width="0.7" fill="none"/>
<path d="M148.79,415.07 V421.29 M147.59,415.07 h2.4 M147.59,421.29 h2.4" stroke="#555" stroke-width="0.7" fill="none"/>
<path d="M151.83,414.51 V420.72 M150.63,414.51 h2.4 M150.63,420.72 h2.4" stroke="#555" stroke-width="0.7" fill="none"/>
<path d="M154.86,414.22 V420.44 M153.66,414.22 h2.4 M153.66,420.44 h2.4" stroke="#555" stroke-width="0.7" fill="none"/>
<path d="M157.89,413.93 V420.15 M156.69,413.93 h2.4 M156.69,420.15 h2.4" stroke="#555" stroke-width="0.7" fill="none"/>
<path d="M160.93,413.65 V419.86 M159.73,413.65 h2.4 M159.73,419.86 h2.4" stroke="#555" stroke-width="0.7" fill="none"/>
<path d="M163.96,413.40 V419.62 M162.76,413.40 h2.4 M162.76,419.62 h2.4" stroke="#555" stroke-width="0.7" fill="none"/>
<path d="M167.00,413.24 V419.46 M165.80,413.24 h2.4 M165.80,419.46 h2.4" stroke="#555" stroke-width="0.7" fill="none"/>
<path d="M170.03,413.08 V419.30 M168.83,413.08 h2.4 M168.83,419.30 h2.4" stroke="#555" stroke-width="0.7" fill="none"/>
<path d="M173.06,412.92 V419.14 M171.86,412.92 h2.4 M171.86,419.14 h2.4" stroke="#555" stroke-width="0.7" fill="none"/>
<path d="M176.10,412.77 V418.99 M174.90,412.77 h2.4 M174.90,418.99 h2.4" stroke="#555" stroke-width="0.7" fill="none"/>
<path d="M179.13,412.64 V418.85 M177.93,412.64 h2.4 M177.93,418.85 h2.4" stroke="#555" stroke-width="0.7" fill="none"/>
<path d="M182.17,412.50 V418.72 M180.97,412.50 h2.4 M180.97,418.72 h2.4" stroke="#555" stroke-width="0.7" fill="none"/>
<path d="M185.20,412.37 V418.59 M184.00,412.37 h2.4 M184.00,418.59 h2.4" stroke="#555" stroke-width="0.7" fill="none"/>
<circle cx="33.50" cy="492.89" r="2.15" fill="#bcbcbc"/>
<circle cx="36.53" cy="490.87" r="2.15" fill="#bcbcbc"/>
<circle cx="39.57" cy="479.46" r="2.15" fill="#bcbcbc"/>
<circle cx="42.60" cy="464.70" r="2.15" fill="#bcbcbc"/>
<circle cx="45.64" cy="448.88" r="2.15" fill="#bcbcbc"/>
<circle cx="48.67" cy="437.10" r="2.15" fill="#bcbcbc"/>
<circle cx="51.70" cy="428.49" r="2.15" fill="#bcbcbc"/>
<circle cx="54.74" cy="422.66" r="2.15" fill="#bcbcbc"/>
<circle cx="57.77" cy="418.54" r="2.15" fill="#bcbcbc"/>
<circle cx="60.81" cy="415.54" r="2.15" fill="#bcbcbc"/>
<circle cx="63.84" cy="412.89" r="2.15" fill="#bcbcbc"/>
<circle cx="66.87" cy="411.47" r="2.15" fill="#bcbcbc"/>
<circle cx="69.91" cy="410.17" r="2.15" fill="#bcbcbc"/>
<circle cx="72.94" cy="409.04" r="2.15" fill="#bcbcbc"/>
<circle cx="75.98" cy="407.91" r="2.15" fill="#bcbcbc"/>
<circle cx="79.01" cy="406.98" r="2.15" fill="#bcbcbc"/>
<circle cx="82.04" cy="406.59" r="2.15" fill="#bcbcbc"/>
<circle cx="85.08" cy="406.20" r="2.15" fill="#bcbcbc"/>
<circle cx="88.11" cy="405.84" r="2.15" fill="#bcbcbc"/>
<circle cx="91.15" cy="405.81" r="2.15" fill="#bcbcbc"/>
<circle cx="94.18" cy="405.79" r="2.15" fill="#bcbcbc"/>
<circle cx="97.21" cy="405.76" r="2.15" fill="#bcbcbc"/>
<circle cx="100.25" cy="405.74" r="2.15" fill="#bcbcbc"/>
<circle cx="103.28" cy="405.72" r="2.15" fill="#bcbcbc"/>
<circle cx="106.32" cy="405.69" r="2.15" fill="#bcbcbc"/>
<circle cx="109.35" cy="405.68" r="2.15" fill="#bcbcbc"/>
<circle cx="112.38" cy="405.68" r="2.15" fill="#bcbcbc"/>
<circle cx="115.42" cy="405.68" r="2.15" fill="#bcbcbc"/>
<circle cx="118.45" cy="405.68" r="2.15" fill="#bcbcbc"/>
<circle cx="121.49" cy="405.68" r="2.15" fill="#bcbcbc"/>
<circle cx="124.52" cy="405.68" r="2.15" fill="#bcbcbc"/>
<circle cx="127.55" cy="405.68" r="2.15" fill="#bcbcbc"/>
<circle cx="130.59" cy="405.68" r="2.15" fill="#bcbcbc"/>
<circle cx="133.62" cy="405.68" r="2.15" fill="#bcbcbc"/>
<circle cx="136.66" cy="405.72" r="2.15" fill="#bcbcbc"/>
<circle cx="139.69" cy="405.76" r="2.15" fill="#bcbcbc"/>
<circle cx="142.72" cy="405.81" r="2.15" fill="#bcbcbc"/>
<circle cx="145.76" cy="405.89" r="2.15" fill="#bcbcbc"/>
<circle cx="148.79" cy="406.05" r="2.15" fill="#bcbcbc"/>
<circle cx="151.83" cy="406.20" r="2.15" fill="#bcbcbc"/>
<circle cx="154.86" cy="406.36" r="2.15" fill="#bcbcbc"/>
<circle cx="157.89" cy="406.51" r="2.15" fill="#bcbcbc"/>
<circle cx="160.93" cy="406.73" r="2.15" fill="#bcbcbc"/>
<circle cx="163.96" cy="407.05" r="2.15" fill="#bcbcbc"/>
<circle cx="167.00" cy="407.38" r="2.15" fill="#bcbcbc"/>
<circle cx="170.03" cy="407.70" r="2.15" fill="#bcbcbc"/>
<circle cx="173.06" cy="408.23" r="2.15" fill="#bcbcbc"/>
<circle cx="176.10" cy="408.75" r="2.15" fill="#bcbcbc"/>
<circle cx="179.13" cy="409.37" r="2.15" fill="#bcbcbc"/>
<circle cx="182.17" cy="410.17" r="2.15" fill="#bcbcbc"/>
<circle cx="185.20" cy="410.97" r="2.15" fill="#bcbcbc"/>
<path d="M33.50,492.20 L36.30,496.68 L30.70,496.68 Z" fill="#747474"/>
<path d="M36.53,488.94 L39.33,493.42 L33.73,493.42 Z" fill="#747474"/>
<path d="M39.57,483.84 L42.37,488.32 L36.77,488.32 Z" fill="#747474"/>
<path d="M42.60,477.12 L45.40,481.60 L39.80,481.60 Z" fill="#747474"/>
<path d="M45.64,470.13 L48.44,474.61 L42.84,474.61 Z" fill="#747474"/>
<path d="M48.67,463.17 L51.47,467.65 L45.87,467.65 Z" fill="#747474"/>
<path d="M51.70,456.64 L54.50,461.12 L48.90,461.12 Z" fill="#747474"/>
<path d="M54.74,451.28 L57.54,455.76 L51.94,455.76 Z" fill="#747474"/>
<path d="M57.77,446.22 L60.57,450.70 L54.97,450.70 Z" fill="#747474"/>
<path d="M60.81,442.46 L63.61,446.94 L58.01,446.94 Z" fill="#747474"/>
<path d="M63.84,438.78 L66.64,443.26 L61.04,443.26 Z" fill="#747474"/>
<path d="M66.87,435.67 L69.67,440.15 L64.07,440.15 Z" fill="#747474"/>
<path d="M69.91,432.98 L72.71,437.46 L67.11,437.46 Z" fill="#747474"/>
<path d="M72.94,430.82 L75.74,435.30 L70.14,435.30 Z" fill="#747474"/>
<path d="M75.98,428.66 L78.78,433.14 L73.18,433.14 Z" fill="#747474"/>
<path d="M79.01,426.63 L81.81,431.11 L76.21,431.11 Z" fill="#747474"/>
<path d="M82.04,424.96 L84.84,429.44 L79.24,429.44 Z" fill="#747474"/>
<path d="M85.08,423.29 L87.88,427.77 L82.28,427.77 Z" fill="#747474"/>
<path d="M88.11,422.05 L90.91,426.53 L85.31,426.53 Z" fill="#747474"/>
<path d="M91.15,421.15 L93.95,425.63 L88.35,425.63 Z" fill="#747474"/>
<path d="M94.18,420.24 L96.98,424.72 L91.38,424.72 Z" fill="#747474"/>
<path d="M97.21,419.34 L100.01,423.82 L94.41,423.82 Z" fill="#747474"/>
<path d="M100.25,418.48 L103.05,422.96 L97.45,422.96 Z" fill="#747474"/>
<path d="M103.28,417.73 L106.08,422.21 L100.48,422.21 Z" fill="#747474"/>
<path d="M106.32,416.99 L109.12,421.47 L103.52,421.47 Z" fill="#747474"/>
<path d="M109.35,416.24 L112.15,420.72 L106.55,420.72 Z" fill="#747474"/>
<path d="M112.38,415.50 L115.18,419.98 L109.58,419.98 Z" fill="#747474"/>
<path d="M115.42,414.87 L118.22,419.35 L112.62,419.35 Z" fill="#747474"/>
<path d="M118.45,414.38 L121.25,418.86 L115.65,418.86 Z" fill="#747474"/>
<path d="M121.49,413.90 L124.29,418.38 L118.69,418.38 Z" fill="#747474"/>
<path d="M124.52,413.41 L127.32,417.89 L121.72,417.89 Z" fill="#747474"/>
<path d="M127.55,412.92 L130.35,417.40 L124.75,417.40 Z" fill="#747474"/>
<path d="M130.59,412.63 L133.39,417.11 L127.79,417.11 Z" fill="#747474"/>
<path d="M133.62,412.44 L136.42,416.92 L130.82,416.92 Z" fill="#747474"/>
<path d="M136.66,412.24 L139.46,416.72 L133.86,416.72 Z" fill="#747474"/>
<path d="M139.69,412.05 L142.49,416.53 L136.89,416.53 Z" fill="#747474"/>
<path d="M142.72,411.85 L145.52,416.33 L139.92,416.33 Z" fill="#747474"/>
<path d="M145.76,411.81 L148.56,416.29 L142.96,416.29 Z" fill="#747474"/>
<path d="M148.79,411.78 L151.59,416.26 L145.99,416.26 Z" fill="#747474"/>
<path d="M151.83,411.76 L154.63,416.24 L149.03,416.24 Z" fill="#747474"/>
<path d="M154.86,411.73 L157.66,416.21 L152.06,416.21 Z" fill="#747474"/>
<path d="M157.89,411.70 L160.69,416.18 L155.09,416.18 Z" fill="#747474"/>
<path d="M160.93,411.68 L163.73,416.16 L158.13,416.16 Z" fill="#747474"/>
<path d="M163.96,411.66 L166.76,416.14 L161.16,416.14 Z" fill="#747474"/>
<path d="M167.00,411.64 L169.80,416.12 L164.20,416.12 Z" fill="#747474"/>
<path d="M170.03,411.62 L172.83,416.10 L167.23,416.10 Z" fill="#747474"/>
<path d="M173.06,411.60 L175.86,416.08 L170.26,416.08 Z" fill="#747474"/>
<path d="M176.10,411.58 L178.90,416.06 L173.30,416.06 Z" fill="#747474"/>
<path d="M179.13,411.56 L181.93,416.04 L176.33,416.04 Z" fill="#747474"/>
<path d="M182.17,411.55 L184.97,416.03 L179.37,416.03 Z" fill="#747474"/>
<path d="M185.20,411.53 L188.00,416.01 L182.40,416.01 Z" fill="#747474"/>
<rect x="31.50" y="496.17" width="4.0" height="4.0" fill="#0a0a0a"/>
<rect x="34.53" y="496.55" width="4.0" height="4.0" fill="#0a0a0a"/>
<rect x="37.57" y="496.80" width="4.0" height="4.0" fill="#0a0a0a"/>
<rect x="40.60" y="496.52" width="4.0" height="4.0" fill="#0a0a0a"/>
<rect x="43.64" y="495.33" width="4.0" height="4.0" fill="#0a0a0a"/>
<rect x="46.67" y="493.02" width="4.0" height="4.0" fill="#0a0a0a"/>
<rect x="49.70" y="490.10" width="4.0" height="4.0" fill="#0a0a0a"/>
<rect x="52.74" y="486.73" width="4.0" height="4.0" fill="#0a0a0a"/>
<rect x="55.77" y="483.13" width="4.0" height="4.0" fill="#0a0a0a"/>
<rect x="58.81" y="479.66" width="4.0" height="4.0" fill="#0a0a0a"/>
<rect x="61.84" y="475.65" width="4.0" height="4.0" fill="#0a0a0a"/>
<rect x="64.87" y="471.64" width="4.0" height="4.0" fill="#0a0a0a"/>
<rect x="67.91" y="467.73" width="4.0" height="4.0" fill="#0a0a0a"/>
<rect x="70.94" y="464.00" width="4.0" height="4.0" fill="#0a0a0a"/>
<rect x="73.98" y="460.51" width="4.0" height="4.0" fill="#0a0a0a"/>
<rect x="77.01" y="457.16" width="4.0" height="4.0" fill="#0a0a0a"/>
<rect x="80.04" y="453.71" width="4.0" height="4.0" fill="#0a0a0a"/>
<rect x="83.08" y="450.26" width="4.0" height="4.0" fill="#0a0a0a"/>
<rect x="86.11" y="447.24" width="4.0" height="4.0" fill="#0a0a0a"/>
<rect x="89.15" y="444.54" width="4.0" height="4.0" fill="#0a0a0a"/>
<rect x="92.18" y="441.88" width="4.0" height="4.0" fill="#0a0a0a"/>
<rect x="95.21" y="439.30" width="4.0" height="4.0" fill="#0a0a0a"/>
<rect x="98.25" y="436.81" width="4.0" height="4.0" fill="#0a0a0a"/>
<rect x="101.28" y="434.54" width="4.0" height="4.0" fill="#0a0a0a"/>
<rect x="104.32" y="432.28" width="4.0" height="4.0" fill="#0a0a0a"/>
<rect x="107.35" y="430.52" width="4.0" height="4.0" fill="#0a0a0a"/>
<rect x="110.38" y="428.83" width="4.0" height="4.0" fill="#0a0a0a"/>
<rect x="113.42" y="427.29" width="4.0" height="4.0" fill="#0a0a0a"/>
<rect x="116.45" y="425.91" width="4.0" height="4.0" fill="#0a0a0a"/>
<rect x="119.49" y="424.55" width="4.0" height="4.0" fill="#0a0a0a"/>
<rect x="122.52" y="423.32" width="4.0" height="4.0" fill="#0a0a0a"/>
<rect x="125.55" y="422.08" width="4.0" height="4.0" fill="#0a0a0a"/>
<rect x="128.59" y="420.98" width="4.0" height="4.0" fill="#0a0a0a"/>
<rect x="131.62" y="419.93" width="4.0" height="4.0" fill="#0a0a0a"/>
<rect x="134.66" y="418.97" width="4.0" height="4.0" fill="#0a0a0a"/>
<rect x="137.69" y="418.19" width="4.0" height="4.0" fill="#0a0a0a"/>
<rect x="140.72" y="417.41" width="4.0" height="4.0" fill="#0a0a0a"/>
<rect x="143.76" y="416.79" width="4.0" height="4.0" fill="#0a0a0a"/>
<rect x="146.79" y="416.18" width="4.0" height="4.0" fill="#0a0a0a"/>
<rect x="149.83" y="415.62" width="4.0" height="4.0" fill="#0a0a0a"/>
<rect x="152.86" y="415.33" width="4.0" height="4.0" fill="#0a0a0a"/>
<rect x="155.89" y="415.04" width="4.0" height="4.0" fill="#0a0a0a"/>
<rect x="158.93" y="414.76" width="4.0" height="4.0" fill="#0a0a0a"/>
<rect x="161.96" y="414.51" width="4.0" height="4.0" fill="#0a0a0a"/>
<rect x="165.00" y="414.35" width="4.0" height="4.0" fill="#0a0a0a"/>
<rect x="168.03" y="414.19" width="4.0" height="4.0" fill="#0a0a0a"/>
<rect x="171.06" y="414.03" width="4.0" height="4.0" fill="#0a0a0a"/>
<rect x="174.10" y="413.88" width="4.0" height="4.0" fill="#0a0a0a"/>
<rect x="177.13" y="413.75" width="4.0" height="4.0" fill="#0a0a0a"/>
<rect x="180.17" y="413.61" width="4.0" height="4.0" fill="#0a0a0a"/>
<rect x="183.20" y="413.48" width="4.0" height="4.0" fill="#0a0a0a"/>
<path d="M33.50,523.2 v-2.3 M33.50,383.3 v2.3 M63.84,523.2 v-2.3 M63.84,383.3 v2.3 M94.18,523.2 v-2.3 M94.18,383.3 v2.3 M124.52,523.2 v-2.3 M124.52,383.3 v2.3 M154.86,523.2 v-2.3 M154.86,383.3 v2.3 M185.20,523.2 v-2.3 M185.20,383.3 v2.3 M33.5,523.20 h2.3 M185.2,523.20 h-2.3 M33.5,492.11 h2.3 M185.2,492.11 h-2.3 M33.5,461.02 h2.3 M185.2,461.02 h-2.3 M33.5,429.93 h2.3 M185.2,429.93 h-2.3 M33.5,398.84 h2.3 M185.2,398.84 h-2.3 M33.5,507.66 h1.4 M185.2,507.66 h-1.4 M33.5,476.57 h1.4 M185.2,476.57 h-1.4 M33.5,445.48 h1.4 M185.2,445.48 h-1.4 M33.5,414.39 h1.4 M185.2,414.39 h-1.4" stroke="#555" stroke-width="0.8" fill="none"/>
<rect x="33.5" y="383.3" width="151.70" height="139.90" fill="none" stroke="#555" stroke-width="1.05"/>
<text x="33.50" y="532.90" font-size="9.1" text-anchor="middle" fill="#222">0</text>
<text x="63.84" y="532.90" font-size="9.1" text-anchor="middle" fill="#222">3</text>
<text x="94.18" y="532.90" font-size="9.1" text-anchor="middle" fill="#222">6</text>
<text x="124.52" y="532.90" font-size="9.1" text-anchor="middle" fill="#222">9</text>
<text x="154.86" y="532.90" font-size="9.1" text-anchor="middle" fill="#222">12</text>
<text x="185.20" y="532.90" font-size="9.1" text-anchor="middle" fill="#222">15</text>
<text x="31.30" y="526.30" font-size="9.1" text-anchor="end" fill="#222">20</text>
<text x="31.30" y="495.21" font-size="9.1" text-anchor="end" fill="#222">40</text>
<text x="31.30" y="464.12" font-size="9.1" text-anchor="end" fill="#222">60</text>
<text x="31.30" y="433.03" font-size="9.1" text-anchor="end" fill="#222">80</text>
<text x="31.30" y="401.94" font-size="9.1" text-anchor="end" fill="#222">100</text>
<rect x="110.25" y="489.65" width="3.5" height="3.5" fill="#0a0a0a"/>
<path d="M112.00,500.92 L114.35,504.68 L109.65,504.68 Z" fill="#747474"/>
<circle cx="112.00" cy="513.60" r="2.2" fill="#bcbcbc"/>
<text x="123.20" y="494.30" font-size="8.3" textLength="56.2" lengthAdjust="spacingAndGlyphs" fill="#222">100 °C, no MW</text>
<text x="123.20" y="505.40" font-size="8.3" textLength="43.6" lengthAdjust="spacingAndGlyphs" fill="#222">50 W/60 °C</text>
<text x="123.20" y="516.50" font-size="8.3" textLength="47.9" lengthAdjust="spacingAndGlyphs" fill="#222">100 W/60 °C</text>
<text x="109.40" y="546.20" font-size="9.3" text-anchor="middle" textLength="70.5" lengthAdjust="spacingAndGlyphs" fill="#222">Drying time [min]</text>
<text x="12.60" y="455.30" font-size="9.3" text-anchor="middle" textLength="89.5" lengthAdjust="spacingAndGlyphs" transform="rotate(-90 12.6 455.3)" fill="#222">Temperature center [°C]</text>
<text x="201.80" y="190.90" font-size="12.5" fill="#222">d</text>
<path d="M232.50,237.17 V245.08 M231.30,237.17 h2.4 M231.30,245.08 h2.4" stroke="#d0d0d0" stroke-width="0.6" fill="none"/>
<path d="M235.93,206.15 V237.77 M234.73,206.15 h2.4 M234.73,237.77 h2.4" stroke="#d0d0d0" stroke-width="0.6" fill="none"/>
<path d="M239.36,210.11 V243.69 M238.16,210.11 h2.4 M238.16,243.69 h2.4" stroke="#d0d0d0" stroke-width="0.6" fill="none"/>
<path d="M242.79,213.07 V248.63 M241.59,213.07 h2.4 M241.59,248.63 h2.4" stroke="#d0d0d0" stroke-width="0.6" fill="none"/>
<path d="M246.22,204.97 V234.60 M245.02,204.97 h2.4 M245.02,234.60 h2.4" stroke="#d0d0d0" stroke-width="0.6" fill="none"/>
<path d="M249.65,206.35 V230.06 M248.45,206.35 h2.4 M248.45,230.06 h2.4" stroke="#d0d0d0" stroke-width="0.6" fill="none"/>
<path d="M253.08,207.69 V229.51 M251.88,207.69 h2.4 M251.88,229.51 h2.4" stroke="#d0d0d0" stroke-width="0.6" fill="none"/>
<path d="M256.51,211.41 V231.32 M255.31,211.41 h2.4 M255.31,231.32 h2.4" stroke="#d0d0d0" stroke-width="0.6" fill="none"/>
<path d="M259.94,215.52 V233.54 M258.74,215.52 h2.4 M258.74,233.54 h2.4" stroke="#d0d0d0" stroke-width="0.6" fill="none"/>
<path d="M263.37,218.13 V234.88 M262.17,218.13 h2.4 M262.17,234.88 h2.4" stroke="#d0d0d0" stroke-width="0.6" fill="none"/>
<path d="M266.80,220.97 V236.78 M265.60,220.97 h2.4 M265.60,236.78 h2.4" stroke="#d0d0d0" stroke-width="0.6" fill="none"/>
<path d="M270.23,224.21 V239.07 M269.03,224.21 h2.4 M269.03,239.07 h2.4" stroke="#d0d0d0" stroke-width="0.6" fill="none"/>
<path d="M273.66,226.27 V240.18 M272.46,226.27 h2.4 M272.46,240.18 h2.4" stroke="#d0d0d0" stroke-width="0.6" fill="none"/>
<path d="M277.09,228.32 V241.28 M275.89,228.32 h2.4 M275.89,241.28 h2.4" stroke="#d0d0d0" stroke-width="0.6" fill="none"/>
<path d="M280.52,229.82 V242.15 M279.32,229.82 h2.4 M279.32,242.15 h2.4" stroke="#d0d0d0" stroke-width="0.6" fill="none"/>
<path d="M283.95,230.85 V242.70 M282.75,230.85 h2.4 M282.75,242.70 h2.4" stroke="#d0d0d0" stroke-width="0.6" fill="none"/>
<path d="M287.38,231.09 V242.47 M286.18,231.09 h2.4 M286.18,242.47 h2.4" stroke="#d0d0d0" stroke-width="0.6" fill="none"/>
<path d="M290.81,231.32 V242.23 M289.61,231.32 h2.4 M289.61,242.23 h2.4" stroke="#d0d0d0" stroke-width="0.6" fill="none"/>
<path d="M294.24,231.56 V241.99 M293.04,231.56 h2.4 M293.04,241.99 h2.4" stroke="#d0d0d0" stroke-width="0.6" fill="none"/>
<path d="M297.67,231.80 V241.76 M296.47,231.80 h2.4 M296.47,241.76 h2.4" stroke="#d0d0d0" stroke-width="0.6" fill="none"/>
<path d="M301.10,232.04 V241.52 M299.90,232.04 h2.4 M299.90,241.52 h2.4" stroke="#d0d0d0" stroke-width="0.6" fill="none"/>
<path d="M304.53,232.07 V241.49 M303.33,232.07 h2.4 M303.33,241.49 h2.4" stroke="#d0d0d0" stroke-width="0.6" fill="none"/>
<path d="M307.96,232.09 V241.46 M306.76,232.09 h2.4 M306.76,241.46 h2.4" stroke="#d0d0d0" stroke-width="0.6" fill="none"/>
<path d="M311.39,232.12 V241.43 M310.19,232.12 h2.4 M310.19,241.43 h2.4" stroke="#d0d0d0" stroke-width="0.6" fill="none"/>
<path d="M314.82,232.15 V241.40 M313.62,232.15 h2.4 M313.62,241.40 h2.4" stroke="#d0d0d0" stroke-width="0.6" fill="none"/>
<path d="M318.25,232.18 V241.37 M317.05,232.18 h2.4 M317.05,241.37 h2.4" stroke="#d0d0d0" stroke-width="0.6" fill="none"/>
<path d="M321.68,232.21 V241.34 M320.48,232.21 h2.4 M320.48,241.34 h2.4" stroke="#d0d0d0" stroke-width="0.6" fill="none"/>
<path d="M325.11,232.32 V241.39 M323.91,232.32 h2.4 M323.91,241.39 h2.4" stroke="#d0d0d0" stroke-width="0.6" fill="none"/>
<path d="M328.54,232.59 V241.60 M327.34,232.59 h2.4 M327.34,241.60 h2.4" stroke="#d0d0d0" stroke-width="0.6" fill="none"/>
<path d="M331.97,232.86 V241.81 M330.77,232.86 h2.4 M330.77,241.81 h2.4" stroke="#d0d0d0" stroke-width="0.6" fill="none"/>
<path d="M335.40,233.12 V242.01 M334.20,233.12 h2.4 M334.20,242.01 h2.4" stroke="#d0d0d0" stroke-width="0.6" fill="none"/>
<path d="M338.83,233.39 V242.22 M337.63,233.39 h2.4 M337.63,242.22 h2.4" stroke="#d0d0d0" stroke-width="0.6" fill="none"/>
<path d="M342.26,233.66 V242.43 M341.06,233.66 h2.4 M341.06,242.43 h2.4" stroke="#d0d0d0" stroke-width="0.6" fill="none"/>
<path d="M345.69,233.92 V242.64 M344.49,233.92 h2.4 M344.49,242.64 h2.4" stroke="#d0d0d0" stroke-width="0.6" fill="none"/>
<path d="M349.12,234.01 V242.86 M347.92,234.01 h2.4 M347.92,242.86 h2.4" stroke="#d0d0d0" stroke-width="0.6" fill="none"/>
<path d="M352.55,234.01 V243.10 M351.35,234.01 h2.4 M351.35,243.10 h2.4" stroke="#d0d0d0" stroke-width="0.6" fill="none"/>
<path d="M355.98,234.01 V243.34 M354.78,234.01 h2.4 M354.78,243.34 h2.4" stroke="#d0d0d0" stroke-width="0.6" fill="none"/>
<path d="M359.41,233.85 V243.42 M358.21,233.85 h2.4 M358.21,243.42 h2.4" stroke="#d0d0d0" stroke-width="0.6" fill="none"/>
<path d="M362.84,233.38 V243.18 M361.64,233.38 h2.4 M361.64,243.18 h2.4" stroke="#d0d0d0" stroke-width="0.6" fill="none"/>
<path d="M366.27,232.91 V242.94 M365.07,232.91 h2.4 M365.07,242.94 h2.4" stroke="#d0d0d0" stroke-width="0.6" fill="none"/>
<path d="M369.70,232.43 V242.70 M368.50,232.43 h2.4 M368.50,242.70 h2.4" stroke="#d0d0d0" stroke-width="0.6" fill="none"/>
<path d="M373.13,231.72 V242.23 M371.93,231.72 h2.4 M371.93,242.23 h2.4" stroke="#d0d0d0" stroke-width="0.6" fill="none"/>
<path d="M376.56,231.01 V241.76 M375.36,231.01 h2.4 M375.36,241.76 h2.4" stroke="#d0d0d0" stroke-width="0.6" fill="none"/>
<path d="M379.99,230.30 V241.28 M378.79,230.30 h2.4 M378.79,241.28 h2.4" stroke="#d0d0d0" stroke-width="0.6" fill="none"/>
<path d="M383.42,229.51 V240.73 M382.22,229.51 h2.4 M382.22,240.73 h2.4" stroke="#d0d0d0" stroke-width="0.6" fill="none"/>
<path d="M386.85,228.68 V240.14 M385.65,228.68 h2.4 M385.65,240.14 h2.4" stroke="#d0d0d0" stroke-width="0.6" fill="none"/>
<path d="M390.28,227.85 V239.54 M389.08,227.85 h2.4 M389.08,239.54 h2.4" stroke="#d0d0d0" stroke-width="0.6" fill="none"/>
<path d="M393.71,227.02 V238.95 M392.51,227.02 h2.4 M392.51,238.95 h2.4" stroke="#d0d0d0" stroke-width="0.6" fill="none"/>
<path d="M397.14,226.19 V238.36 M395.94,226.19 h2.4 M395.94,238.36 h2.4" stroke="#d0d0d0" stroke-width="0.6" fill="none"/>
<path d="M400.57,225.36 V237.77 M399.37,225.36 h2.4 M399.37,237.77 h2.4" stroke="#d0d0d0" stroke-width="0.6" fill="none"/>
<path d="M404.00,224.53 V237.17 M402.80,224.53 h2.4 M402.80,237.17 h2.4" stroke="#d0d0d0" stroke-width="0.6" fill="none"/>
<path d="M232.50,219.79 V243.49 M231.30,219.79 h2.4 M231.30,243.49 h2.4" stroke="#b0b0b0" stroke-width="0.6" fill="none"/>
<path d="M235.93,225.52 V250.41 M234.73,225.52 h2.4 M234.73,250.41 h2.4" stroke="#b0b0b0" stroke-width="0.6" fill="none"/>
<path d="M239.36,233.62 V259.70 M238.16,233.62 h2.4 M238.16,259.70 h2.4" stroke="#b0b0b0" stroke-width="0.6" fill="none"/>
<path d="M242.79,239.74 V267.01 M241.59,239.74 h2.4 M241.59,267.01 h2.4" stroke="#b0b0b0" stroke-width="0.6" fill="none"/>
<path d="M246.22,241.52 V268.39 M245.02,241.52 h2.4 M245.02,268.39 h2.4" stroke="#b0b0b0" stroke-width="0.6" fill="none"/>
<path d="M249.65,238.16 V263.84 M248.45,238.16 h2.4 M248.45,263.84 h2.4" stroke="#b0b0b0" stroke-width="0.6" fill="none"/>
<path d="M253.08,236.38 V260.88 M251.88,236.38 h2.4 M251.88,260.88 h2.4" stroke="#b0b0b0" stroke-width="0.6" fill="none"/>
<path d="M256.51,235.00 V258.31 M255.31,235.00 h2.4 M255.31,258.31 h2.4" stroke="#b0b0b0" stroke-width="0.6" fill="none"/>
<path d="M259.94,234.01 V256.14 M258.74,234.01 h2.4 M258.74,256.14 h2.4" stroke="#b0b0b0" stroke-width="0.6" fill="none"/>
<path d="M263.37,233.42 V254.36 M262.17,233.42 h2.4 M262.17,254.36 h2.4" stroke="#b0b0b0" stroke-width="0.6" fill="none"/>
<path d="M266.80,233.02 V252.78 M265.60,233.02 h2.4 M265.60,252.78 h2.4" stroke="#b0b0b0" stroke-width="0.6" fill="none"/>
<path d="M270.23,232.79 V251.95 M269.03,232.79 h2.4 M269.03,251.95 h2.4" stroke="#b0b0b0" stroke-width="0.6" fill="none"/>
<path d="M273.66,232.55 V251.12 M272.46,232.55 h2.4 M272.46,251.12 h2.4" stroke="#b0b0b0" stroke-width="0.6" fill="none"/>
<path d="M277.09,232.31 V250.29 M275.89,232.31 h2.4 M275.89,250.29 h2.4" stroke="#b0b0b0" stroke-width="0.6" fill="none"/>
<path d="M280.52,232.19 V249.58 M279.32,232.19 h2.4 M279.32,249.58 h2.4" stroke="#b0b0b0" stroke-width="0.6" fill="none"/>
<path d="M283.95,232.13 V248.93 M282.75,232.13 h2.4 M282.75,248.93 h2.4" stroke="#b0b0b0" stroke-width="0.6" fill="none"/>
<path d="M287.38,232.08 V248.28 M286.18,232.08 h2.4 M286.18,248.28 h2.4" stroke="#b0b0b0" stroke-width="0.6" fill="none"/>
<path d="M290.81,232.10 V247.70 M289.61,232.10 h2.4 M289.61,247.70 h2.4" stroke="#b0b0b0" stroke-width="0.6" fill="none"/>
<path d="M294.24,232.30 V247.26 M293.04,232.30 h2.4 M293.04,247.26 h2.4" stroke="#b0b0b0" stroke-width="0.6" fill="none"/>
<path d="M297.67,232.50 V246.83 M296.47,232.50 h2.4 M296.47,246.83 h2.4" stroke="#b0b0b0" stroke-width="0.6" fill="none"/>
<path d="M301.10,232.69 V246.39 M299.90,232.69 h2.4 M299.90,246.39 h2.4" stroke="#b0b0b0" stroke-width="0.6" fill="none"/>
<path d="M304.53,233.01 V246.08 M303.33,233.01 h2.4 M303.33,246.08 h2.4" stroke="#b0b0b0" stroke-width="0.6" fill="none"/>
<path d="M307.96,233.33 V245.76 M306.76,233.33 h2.4 M306.76,245.76 h2.4" stroke="#b0b0b0" stroke-width="0.6" fill="none"/>
<path d="M311.39,233.64 V245.44 M310.19,233.64 h2.4 M310.19,245.44 h2.4" stroke="#b0b0b0" stroke-width="0.6" fill="none"/>
<path d="M314.82,233.96 V245.13 M313.62,233.96 h2.4 M313.62,245.13 h2.4" stroke="#b0b0b0" stroke-width="0.6" fill="none"/>
<path d="M318.25,234.27 V244.81 M317.05,234.27 h2.4 M317.05,244.81 h2.4" stroke="#b0b0b0" stroke-width="0.6" fill="none"/>
<path d="M321.68,234.59 V244.50 M320.48,234.59 h2.4 M320.48,244.50 h2.4" stroke="#b0b0b0" stroke-width="0.6" fill="none"/>
<path d="M325.11,234.82 V244.27 M323.91,234.82 h2.4 M323.91,244.27 h2.4" stroke="#b0b0b0" stroke-width="0.6" fill="none"/>
<path d="M328.54,234.88 V244.21 M327.34,234.88 h2.4 M327.34,244.21 h2.4" stroke="#b0b0b0" stroke-width="0.6" fill="none"/>
<path d="M331.97,234.94 V244.15 M330.77,234.94 h2.4 M330.77,244.15 h2.4" stroke="#b0b0b0" stroke-width="0.6" fill="none"/>
<path d="M335.40,235.00 V244.09 M334.20,235.00 h2.4 M334.20,244.09 h2.4" stroke="#b0b0b0" stroke-width="0.6" fill="none"/>
<path d="M338.83,235.02 V243.99 M337.63,235.02 h2.4 M337.63,243.99 h2.4" stroke="#b0b0b0" stroke-width="0.6" fill="none"/>
<path d="M342.26,235.04 V243.89 M341.06,235.04 h2.4 M341.06,243.89 h2.4" stroke="#b0b0b0" stroke-width="0.6" fill="none"/>
<path d="M345.69,235.06 V243.79 M344.49,235.06 h2.4 M344.49,243.79 h2.4" stroke="#b0b0b0" stroke-width="0.6" fill="none"/>
<path d="M349.12,235.08 V243.69 M347.92,235.08 h2.4 M347.92,243.69 h2.4" stroke="#b0b0b0" stroke-width="0.6" fill="none"/>
<path d="M352.55,235.10 V243.59 M351.35,235.10 h2.4 M351.35,243.59 h2.4" stroke="#b0b0b0" stroke-width="0.6" fill="none"/>
<path d="M355.98,235.12 V243.49 M354.78,235.12 h2.4 M354.78,243.49 h2.4" stroke="#b0b0b0" stroke-width="0.6" fill="none"/>
<path d="M359.41,235.14 V243.40 M358.21,235.14 h2.4 M358.21,243.40 h2.4" stroke="#b0b0b0" stroke-width="0.6" fill="none"/>
<path d="M362.84,235.16 V243.30 M361.64,235.16 h2.4 M361.64,243.30 h2.4" stroke="#b0b0b0" stroke-width="0.6" fill="none"/>
<path d="M366.27,235.18 V243.20 M365.07,235.18 h2.4 M365.07,243.20 h2.4" stroke="#b0b0b0" stroke-width="0.6" fill="none"/>
<path d="M369.70,235.20 V243.10 M368.50,235.20 h2.4 M368.50,243.10 h2.4" stroke="#b0b0b0" stroke-width="0.6" fill="none"/>
<path d="M373.13,234.96 V243.02 M371.93,234.96 h2.4 M371.93,243.02 h2.4" stroke="#b0b0b0" stroke-width="0.6" fill="none"/>
<path d="M376.56,234.72 V242.94 M375.36,234.72 h2.4 M375.36,242.94 h2.4" stroke="#b0b0b0" stroke-width="0.6" fill="none"/>
<path d="M379.99,234.49 V242.86 M378.79,234.49 h2.4 M378.79,242.86 h2.4" stroke="#b0b0b0" stroke-width="0.6" fill="none"/>
<path d="M383.42,234.25 V242.78 M382.22,234.25 h2.4 M382.22,242.78 h2.4" stroke="#b0b0b0" stroke-width="0.6" fill="none"/>
<path d="M386.85,234.01 V242.70 M385.65,234.01 h2.4 M385.65,242.70 h2.4" stroke="#b0b0b0" stroke-width="0.6" fill="none"/>
<path d="M390.28,233.77 V242.63 M389.08,233.77 h2.4 M389.08,242.63 h2.4" stroke="#b0b0b0" stroke-width="0.6" fill="none"/>
<path d="M393.71,233.54 V242.55 M392.51,233.54 h2.4 M392.51,242.55 h2.4" stroke="#b0b0b0" stroke-width="0.6" fill="none"/>
<path d="M397.14,233.30 V242.47 M395.94,233.30 h2.4 M395.94,242.47 h2.4" stroke="#b0b0b0" stroke-width="0.6" fill="none"/>
<path d="M400.57,233.06 V242.39 M399.37,233.06 h2.4 M399.37,242.39 h2.4" stroke="#b0b0b0" stroke-width="0.6" fill="none"/>
<path d="M404.00,232.83 V242.31 M402.80,232.83 h2.4 M402.80,242.31 h2.4" stroke="#b0b0b0" stroke-width="0.6" fill="none"/>
<path d="M232.50,240.33 V244.29 M231.30,240.33 h2.4 M231.30,244.29 h2.4" stroke="#666" stroke-width="0.6" fill="none"/>
<path d="M235.93,241.32 V251.20 M234.73,241.32 h2.4 M234.73,251.20 h2.4" stroke="#666" stroke-width="0.6" fill="none"/>
<path d="M239.36,255.74 V271.55 M238.16,255.74 h2.4 M238.16,271.55 h2.4" stroke="#666" stroke-width="0.6" fill="none"/>
<path d="M242.79,271.55 V293.68 M241.59,271.55 h2.4 M241.59,293.68 h2.4" stroke="#666" stroke-width="0.6" fill="none"/>
<path d="M246.22,279.85 V315.41 M245.02,279.85 h2.4 M245.02,315.41 h2.4" stroke="#666" stroke-width="0.6" fill="none"/>
<path d="M249.65,282.22 V328.06 M248.45,282.22 h2.4 M248.45,328.06 h2.4" stroke="#666" stroke-width="0.6" fill="none"/>
<path d="M253.08,284.19 V330.82 M251.88,284.19 h2.4 M251.88,330.82 h2.4" stroke="#666" stroke-width="0.6" fill="none"/>
<path d="M256.51,282.22 V329.64 M255.31,282.22 h2.4 M255.31,329.64 h2.4" stroke="#666" stroke-width="0.6" fill="none"/>
<path d="M259.94,277.48 V324.89 M258.74,277.48 h2.4 M258.74,324.89 h2.4" stroke="#666" stroke-width="0.6" fill="none"/>
<path d="M263.37,273.53 V315.41 M262.17,273.53 h2.4 M262.17,315.41 h2.4" stroke="#666" stroke-width="0.6" fill="none"/>
<path d="M266.80,267.99 V307.51 M265.60,267.99 h2.4 M265.60,307.51 h2.4" stroke="#666" stroke-width="0.6" fill="none"/>
<path d="M270.23,263.25 V298.02 M269.03,263.25 h2.4 M269.03,298.02 h2.4" stroke="#666" stroke-width="0.6" fill="none"/>
<path d="M273.66,260.09 V289.33 M272.46,260.09 h2.4 M272.46,289.33 h2.4" stroke="#666" stroke-width="0.6" fill="none"/>
<path d="M277.09,256.14 V282.22 M275.89,256.14 h2.4 M275.89,282.22 h2.4" stroke="#666" stroke-width="0.6" fill="none"/>
<path d="M280.52,253.37 V275.50 M279.32,253.37 h2.4 M279.32,275.50 h2.4" stroke="#666" stroke-width="0.6" fill="none"/>
<path d="M283.95,252.19 V268.78 M282.75,252.19 h2.4 M282.75,268.78 h2.4" stroke="#666" stroke-width="0.6" fill="none"/>
<path d="M287.38,251.40 V264.83 M286.18,251.40 h2.4 M286.18,264.83 h2.4" stroke="#666" stroke-width="0.6" fill="none"/>
<path d="M290.81,250.21 V261.28 M289.61,250.21 h2.4 M289.61,261.28 h2.4" stroke="#666" stroke-width="0.6" fill="none"/>
<path d="M294.24,248.37 V258.38 M293.04,248.37 h2.4 M293.04,258.38 h2.4" stroke="#666" stroke-width="0.6" fill="none"/>
<path d="M297.67,249.69 V258.64 M296.47,249.69 h2.4 M296.47,258.64 h2.4" stroke="#666" stroke-width="0.6" fill="none"/>
<path d="M301.10,247.84 V255.74 M299.90,247.84 h2.4 M299.90,255.74 h2.4" stroke="#666" stroke-width="0.6" fill="none"/>
<path d="M304.53,246.34 V253.29 M303.33,246.34 h2.4 M303.33,253.29 h2.4" stroke="#666" stroke-width="0.6" fill="none"/>
<path d="M307.96,244.84 V250.84 M306.76,244.84 h2.4 M306.76,250.84 h2.4" stroke="#666" stroke-width="0.6" fill="none"/>
<path d="M311.39,244.13 V249.18 M310.19,244.13 h2.4 M310.19,249.18 h2.4" stroke="#666" stroke-width="0.6" fill="none"/>
<path d="M314.82,243.61 V248.12 M313.62,243.61 h2.4 M313.62,248.12 h2.4" stroke="#666" stroke-width="0.6" fill="none"/>
<path d="M318.25,243.59 V247.74 M317.05,243.59 h2.4 M317.05,247.74 h2.4" stroke="#666" stroke-width="0.6" fill="none"/>
<path d="M321.68,243.51 V247.30 M320.48,243.51 h2.4 M320.48,247.30 h2.4" stroke="#666" stroke-width="0.6" fill="none"/>
<path d="M325.11,243.42 V246.86 M323.91,243.42 h2.4 M323.91,246.86 h2.4" stroke="#666" stroke-width="0.6" fill="none"/>
<path d="M328.54,243.34 V246.42 M327.34,243.34 h2.4 M327.34,246.42 h2.4" stroke="#666" stroke-width="0.6" fill="none"/>
<path d="M331.97,243.32 V246.04 M330.77,243.32 h2.4 M330.77,246.04 h2.4" stroke="#666" stroke-width="0.6" fill="none"/>
<path d="M335.40,243.30 V245.67 M334.20,243.30 h2.4 M334.20,245.67 h2.4" stroke="#666" stroke-width="0.6" fill="none"/>
<path d="M338.83,243.10 V245.47 M337.63,243.10 h2.4 M337.63,245.47 h2.4" stroke="#666" stroke-width="0.6" fill="none"/>
<path d="M342.26,243.10 V245.47 M341.06,243.10 h2.4 M341.06,245.47 h2.4" stroke="#666" stroke-width="0.6" fill="none"/>
<path d="M345.69,243.10 V245.47 M344.49,243.10 h2.4 M344.49,245.47 h2.4" stroke="#666" stroke-width="0.6" fill="none"/>
<path d="M349.12,243.10 V245.47 M347.92,243.10 h2.4 M347.92,245.47 h2.4" stroke="#666" stroke-width="0.6" fill="none"/>
<path d="M352.55,243.10 V245.47 M351.35,243.10 h2.4 M351.35,245.47 h2.4" stroke="#666" stroke-width="0.6" fill="none"/>
<path d="M355.98,243.10 V245.47 M354.78,243.10 h2.4 M354.78,245.47 h2.4" stroke="#666" stroke-width="0.6" fill="none"/>
<path d="M359.41,243.10 V245.47 M358.21,243.10 h2.4 M358.21,245.47 h2.4" stroke="#666" stroke-width="0.6" fill="none"/>
<path d="M362.84,243.10 V245.47 M361.64,243.10 h2.4 M361.64,245.47 h2.4" stroke="#666" stroke-width="0.6" fill="none"/>
<path d="M366.27,243.10 V245.47 M365.07,243.10 h2.4 M365.07,245.47 h2.4" stroke="#666" stroke-width="0.6" fill="none"/>
<path d="M369.70,243.10 V245.47 M368.50,243.10 h2.4 M368.50,245.47 h2.4" stroke="#666" stroke-width="0.6" fill="none"/>
<path d="M373.13,243.06 V245.43 M371.93,243.06 h2.4 M371.93,245.43 h2.4" stroke="#666" stroke-width="0.6" fill="none"/>
<path d="M376.56,243.02 V245.39 M375.36,243.02 h2.4 M375.36,245.39 h2.4" stroke="#666" stroke-width="0.6" fill="none"/>
<path d="M379.99,242.98 V245.35 M378.79,242.98 h2.4 M378.79,245.35 h2.4" stroke="#666" stroke-width="0.6" fill="none"/>
<path d="M383.42,242.94 V245.31 M382.22,242.94 h2.4 M382.22,245.31 h2.4" stroke="#666" stroke-width="0.6" fill="none"/>
<path d="M386.85,242.90 V245.27 M385.65,242.90 h2.4 M385.65,245.27 h2.4" stroke="#666" stroke-width="0.6" fill="none"/>
<path d="M390.28,242.86 V245.23 M389.08,242.86 h2.4 M389.08,245.23 h2.4" stroke="#666" stroke-width="0.6" fill="none"/>
<path d="M393.71,242.82 V245.19 M392.51,242.82 h2.4 M392.51,245.19 h2.4" stroke="#666" stroke-width="0.6" fill="none"/>
<path d="M397.14,242.78 V245.15 M395.94,242.78 h2.4 M395.94,245.15 h2.4" stroke="#666" stroke-width="0.6" fill="none"/>
<path d="M400.57,242.74 V245.11 M399.37,242.74 h2.4 M399.37,245.11 h2.4" stroke="#666" stroke-width="0.6" fill="none"/>
<path d="M404.00,242.70 V245.08 M402.80,242.70 h2.4 M402.80,245.08 h2.4" stroke="#666" stroke-width="0.6" fill="none"/>
<circle cx="232.50" cy="241.12" r="2.2" fill="#bcbcbc"/>
<circle cx="235.93" cy="221.96" r="2.2" fill="#bcbcbc"/>
<circle cx="239.36" cy="226.90" r="2.2" fill="#bcbcbc"/>
<circle cx="242.79" cy="230.85" r="2.2" fill="#bcbcbc"/>
<circle cx="246.22" cy="219.79" r="2.2" fill="#bcbcbc"/>
<circle cx="249.65" cy="218.21" r="2.2" fill="#bcbcbc"/>
<circle cx="253.08" cy="218.60" r="2.2" fill="#bcbcbc"/>
<circle cx="256.51" cy="221.37" r="2.2" fill="#bcbcbc"/>
<circle cx="259.94" cy="224.53" r="2.2" fill="#bcbcbc"/>
<circle cx="263.37" cy="226.50" r="2.2" fill="#bcbcbc"/>
<circle cx="266.80" cy="228.87" r="2.2" fill="#bcbcbc"/>
<circle cx="270.23" cy="231.64" r="2.2" fill="#bcbcbc"/>
<circle cx="273.66" cy="233.22" r="2.2" fill="#bcbcbc"/>
<circle cx="277.09" cy="234.80" r="2.2" fill="#bcbcbc"/>
<circle cx="280.52" cy="235.99" r="2.2" fill="#bcbcbc"/>
<circle cx="283.95" cy="236.78" r="2.2" fill="#bcbcbc"/>
<circle cx="287.38" cy="236.78" r="2.2" fill="#bcbcbc"/>
<circle cx="290.81" cy="236.78" r="2.2" fill="#bcbcbc"/>
<circle cx="294.24" cy="236.78" r="2.2" fill="#bcbcbc"/>
<circle cx="297.67" cy="236.78" r="2.2" fill="#bcbcbc"/>
<circle cx="301.10" cy="236.78" r="2.2" fill="#bcbcbc"/>
<circle cx="304.53" cy="236.78" r="2.2" fill="#bcbcbc"/>
<circle cx="307.96" cy="236.78" r="2.2" fill="#bcbcbc"/>
<circle cx="311.39" cy="236.78" r="2.2" fill="#bcbcbc"/>
<circle cx="314.82" cy="236.78" r="2.2" fill="#bcbcbc"/>
<circle cx="318.25" cy="236.78" r="2.2" fill="#bcbcbc"/>
<circle cx="321.68" cy="236.78" r="2.2" fill="#bcbcbc"/>
<circle cx="325.11" cy="236.86" r="2.2" fill="#bcbcbc"/>
<circle cx="328.54" cy="237.09" r="2.2" fill="#bcbcbc"/>
<circle cx="331.97" cy="237.33" r="2.2" fill="#bcbcbc"/>
<circle cx="335.40" cy="237.57" r="2.2" fill="#bcbcbc"/>
<circle cx="338.83" cy="237.80" r="2.2" fill="#bcbcbc"/>
<circle cx="342.26" cy="238.04" r="2.2" fill="#bcbcbc"/>
<circle cx="345.69" cy="238.28" r="2.2" fill="#bcbcbc"/>
<circle cx="349.12" cy="238.44" r="2.2" fill="#bcbcbc"/>
<circle cx="352.55" cy="238.56" r="2.2" fill="#bcbcbc"/>
<circle cx="355.98" cy="238.67" r="2.2" fill="#bcbcbc"/>
<circle cx="359.41" cy="238.63" r="2.2" fill="#bcbcbc"/>
<circle cx="362.84" cy="238.28" r="2.2" fill="#bcbcbc"/>
<circle cx="366.27" cy="237.92" r="2.2" fill="#bcbcbc"/>
<circle cx="369.70" cy="237.57" r="2.2" fill="#bcbcbc"/>
<circle cx="373.13" cy="236.97" r="2.2" fill="#bcbcbc"/>
<circle cx="376.56" cy="236.38" r="2.2" fill="#bcbcbc"/>
<circle cx="379.99" cy="235.79" r="2.2" fill="#bcbcbc"/>
<circle cx="383.42" cy="235.12" r="2.2" fill="#bcbcbc"/>
<circle cx="386.85" cy="234.41" r="2.2" fill="#bcbcbc"/>
<circle cx="390.28" cy="233.70" r="2.2" fill="#bcbcbc"/>
<circle cx="393.71" cy="232.98" r="2.2" fill="#bcbcbc"/>
<circle cx="397.14" cy="232.27" r="2.2" fill="#bcbcbc"/>
<circle cx="400.57" cy="231.56" r="2.2" fill="#bcbcbc"/>
<circle cx="404.00" cy="230.85" r="2.2" fill="#bcbcbc"/>
<path d="M232.50,229.52 L235.15,233.76 L229.85,233.76 Z" fill="#747474"/>
<path d="M235.93,235.84 L238.58,240.08 L233.28,240.08 Z" fill="#747474"/>
<path d="M239.36,244.54 L242.01,248.78 L236.71,248.78 Z" fill="#747474"/>
<path d="M242.79,251.25 L245.44,255.49 L240.14,255.49 Z" fill="#747474"/>
<path d="M246.22,252.83 L248.87,257.07 L243.57,257.07 Z" fill="#747474"/>
<path d="M249.65,248.88 L252.30,253.12 L247.00,253.12 Z" fill="#747474"/>
<path d="M253.08,246.51 L255.73,250.75 L250.43,250.75 Z" fill="#747474"/>
<path d="M256.51,244.54 L259.16,248.78 L253.86,248.78 Z" fill="#747474"/>
<path d="M259.94,242.96 L262.59,247.20 L257.29,247.20 Z" fill="#747474"/>
<path d="M263.37,241.77 L266.02,246.01 L260.72,246.01 Z" fill="#747474"/>
<path d="M266.80,240.78 L269.45,245.02 L264.15,245.02 Z" fill="#747474"/>
<path d="M270.23,240.25 L272.88,244.49 L267.58,244.49 Z" fill="#747474"/>
<path d="M273.66,239.72 L276.31,243.96 L271.01,243.96 Z" fill="#747474"/>
<path d="M277.09,239.18 L279.74,243.42 L274.44,243.42 Z" fill="#747474"/>
<path d="M280.52,238.77 L283.17,243.01 L277.87,243.01 Z" fill="#747474"/>
<path d="M283.95,238.41 L286.60,242.65 L281.30,242.65 Z" fill="#747474"/>
<path d="M287.38,238.06 L290.03,242.30 L284.73,242.30 Z" fill="#747474"/>
<path d="M290.81,237.78 L293.46,242.02 L288.16,242.02 Z" fill="#747474"/>
<path d="M294.24,237.66 L296.89,241.90 L291.59,241.90 Z" fill="#747474"/>
<path d="M297.67,237.54 L300.32,241.78 L295.02,241.78 Z" fill="#747474"/>
<path d="M301.10,237.42 L303.75,241.66 L298.45,241.66 Z" fill="#747474"/>
<path d="M304.53,237.42 L307.18,241.66 L301.88,241.66 Z" fill="#747474"/>
<path d="M307.96,237.42 L310.61,241.66 L305.31,241.66 Z" fill="#747474"/>
<path d="M311.39,237.42 L314.04,241.66 L308.74,241.66 Z" fill="#747474"/>
<path d="M314.82,237.42 L317.47,241.66 L312.17,241.66 Z" fill="#747474"/>
<path d="M318.25,237.42 L320.90,241.66 L315.60,241.66 Z" fill="#747474"/>
<path d="M321.68,237.42 L324.33,241.66 L319.03,241.66 Z" fill="#747474"/>
<path d="M325.11,237.42 L327.76,241.66 L322.46,241.66 Z" fill="#747474"/>
<path d="M328.54,237.42 L331.19,241.66 L325.89,241.66 Z" fill="#747474"/>
<path d="M331.97,237.42 L334.62,241.66 L329.32,241.66 Z" fill="#747474"/>
<path d="M335.40,237.42 L338.05,241.66 L332.75,241.66 Z" fill="#747474"/>
<path d="M338.83,237.38 L341.48,241.62 L336.18,241.62 Z" fill="#747474"/>
<path d="M342.26,237.34 L344.91,241.58 L339.61,241.58 Z" fill="#747474"/>
<path d="M345.69,237.30 L348.34,241.54 L343.04,241.54 Z" fill="#747474"/>
<path d="M349.12,237.27 L351.77,241.51 L346.47,241.51 Z" fill="#747474"/>
<path d="M352.55,237.23 L355.20,241.47 L349.90,241.47 Z" fill="#747474"/>
<path d="M355.98,237.19 L358.63,241.43 L353.33,241.43 Z" fill="#747474"/>
<path d="M359.41,237.15 L362.06,241.39 L356.76,241.39 Z" fill="#747474"/>
<path d="M362.84,237.11 L365.49,241.35 L360.19,241.35 Z" fill="#747474"/>
<path d="M366.27,237.07 L368.92,241.31 L363.62,241.31 Z" fill="#747474"/>
<path d="M369.70,237.03 L372.35,241.27 L367.05,241.27 Z" fill="#747474"/>
<path d="M373.13,236.87 L375.78,241.11 L370.48,241.11 Z" fill="#747474"/>
<path d="M376.56,236.71 L379.21,240.95 L373.91,240.95 Z" fill="#747474"/>
<path d="M379.99,236.55 L382.64,240.79 L377.34,240.79 Z" fill="#747474"/>
<path d="M383.42,236.40 L386.07,240.64 L380.77,240.64 Z" fill="#747474"/>
<path d="M386.85,236.24 L389.50,240.48 L384.20,240.48 Z" fill="#747474"/>
<path d="M390.28,236.08 L392.93,240.32 L387.63,240.32 Z" fill="#747474"/>
<path d="M393.71,235.92 L396.36,240.16 L391.06,240.16 Z" fill="#747474"/>
<path d="M397.14,235.76 L399.79,240.00 L394.49,240.00 Z" fill="#747474"/>
<path d="M400.57,235.61 L403.22,239.85 L397.92,239.85 Z" fill="#747474"/>
<path d="M404.00,235.45 L406.65,239.69 L401.35,239.69 Z" fill="#747474"/>
<rect x="230.60" y="240.41" width="3.8" height="3.8" fill="#0a0a0a"/>
<rect x="234.03" y="244.36" width="3.8" height="3.8" fill="#0a0a0a"/>
<rect x="237.46" y="261.75" width="3.8" height="3.8" fill="#0a0a0a"/>
<rect x="240.89" y="280.71" width="3.8" height="3.8" fill="#0a0a0a"/>
<rect x="244.32" y="295.73" width="3.8" height="3.8" fill="#0a0a0a"/>
<rect x="247.75" y="303.24" width="3.8" height="3.8" fill="#0a0a0a"/>
<rect x="251.18" y="305.61" width="3.8" height="3.8" fill="#0a0a0a"/>
<rect x="254.61" y="304.03" width="3.8" height="3.8" fill="#0a0a0a"/>
<rect x="258.04" y="299.29" width="3.8" height="3.8" fill="#0a0a0a"/>
<rect x="261.47" y="292.57" width="3.8" height="3.8" fill="#0a0a0a"/>
<rect x="264.90" y="285.85" width="3.8" height="3.8" fill="#0a0a0a"/>
<rect x="268.33" y="278.74" width="3.8" height="3.8" fill="#0a0a0a"/>
<rect x="271.76" y="272.81" width="3.8" height="3.8" fill="#0a0a0a"/>
<rect x="275.19" y="267.28" width="3.8" height="3.8" fill="#0a0a0a"/>
<rect x="278.62" y="262.54" width="3.8" height="3.8" fill="#0a0a0a"/>
<rect x="282.05" y="258.59" width="3.8" height="3.8" fill="#0a0a0a"/>
<rect x="285.48" y="256.22" width="3.8" height="3.8" fill="#0a0a0a"/>
<rect x="288.91" y="253.84" width="3.8" height="3.8" fill="#0a0a0a"/>
<rect x="292.34" y="251.47" width="3.8" height="3.8" fill="#0a0a0a"/>
<rect x="295.77" y="252.26" width="3.8" height="3.8" fill="#0a0a0a"/>
<rect x="299.20" y="249.89" width="3.8" height="3.8" fill="#0a0a0a"/>
<rect x="302.63" y="247.92" width="3.8" height="3.8" fill="#0a0a0a"/>
<rect x="306.06" y="245.94" width="3.8" height="3.8" fill="#0a0a0a"/>
<rect x="309.49" y="244.76" width="3.8" height="3.8" fill="#0a0a0a"/>
<rect x="312.92" y="243.97" width="3.8" height="3.8" fill="#0a0a0a"/>
<rect x="316.35" y="243.77" width="3.8" height="3.8" fill="#0a0a0a"/>
<rect x="319.78" y="243.50" width="3.8" height="3.8" fill="#0a0a0a"/>
<rect x="323.21" y="243.24" width="3.8" height="3.8" fill="#0a0a0a"/>
<rect x="326.64" y="242.98" width="3.8" height="3.8" fill="#0a0a0a"/>
<rect x="330.07" y="242.78" width="3.8" height="3.8" fill="#0a0a0a"/>
<rect x="333.50" y="242.58" width="3.8" height="3.8" fill="#0a0a0a"/>
<rect x="336.93" y="242.39" width="3.8" height="3.8" fill="#0a0a0a"/>
<rect x="340.36" y="242.39" width="3.8" height="3.8" fill="#0a0a0a"/>
<rect x="343.79" y="242.39" width="3.8" height="3.8" fill="#0a0a0a"/>
<rect x="347.22" y="242.39" width="3.8" height="3.8" fill="#0a0a0a"/>
<rect x="350.65" y="242.39" width="3.8" height="3.8" fill="#0a0a0a"/>
<rect x="354.08" y="242.39" width="3.8" height="3.8" fill="#0a0a0a"/>
<rect x="357.51" y="242.39" width="3.8" height="3.8" fill="#0a0a0a"/>
<rect x="360.94" y="242.39" width="3.8" height="3.8" fill="#0a0a0a"/>
<rect x="364.37" y="242.39" width="3.8" height="3.8" fill="#0a0a0a"/>
<rect x="367.80" y="242.39" width="3.8" height="3.8" fill="#0a0a0a"/>
<rect x="371.23" y="242.35" width="3.8" height="3.8" fill="#0a0a0a"/>
<rect x="374.66" y="242.31" width="3.8" height="3.8" fill="#0a0a0a"/>
<rect x="378.09" y="242.27" width="3.8" height="3.8" fill="#0a0a0a"/>
<rect x="381.52" y="242.23" width="3.8" height="3.8" fill="#0a0a0a"/>
<rect x="384.95" y="242.19" width="3.8" height="3.8" fill="#0a0a0a"/>
<rect x="388.38" y="242.15" width="3.8" height="3.8" fill="#0a0a0a"/>
<rect x="391.81" y="242.11" width="3.8" height="3.8" fill="#0a0a0a"/>
<rect x="395.24" y="242.07" width="3.8" height="3.8" fill="#0a0a0a"/>
<rect x="398.67" y="242.03" width="3.8" height="3.8" fill="#0a0a0a"/>
<rect x="402.10" y="241.99" width="3.8" height="3.8" fill="#0a0a0a"/>
<path d="M232.50,340.7 v-2.3 M232.50,202.4 v2.3 M266.80,340.7 v-2.3 M266.80,202.4 v2.3 M301.10,340.7 v-2.3 M301.10,202.4 v2.3 M335.40,340.7 v-2.3 M335.40,202.4 v2.3 M369.70,340.7 v-2.3 M369.70,202.4 v2.3 M404.00,340.7 v-2.3 M404.00,202.4 v2.3 M232.5,340.70 h2.3 M404,340.70 h-2.3 M232.5,320.94 h2.3 M404,320.94 h-2.3 M232.5,301.19 h2.3 M404,301.19 h-2.3 M232.5,281.43 h2.3 M404,281.43 h-2.3 M232.5,261.67 h2.3 M404,261.67 h-2.3 M232.5,241.91 h2.3 M404,241.91 h-2.3 M232.5,222.16 h2.3 M404,222.16 h-2.3 M232.5,202.40 h2.3 M404,202.40 h-2.3" stroke="#555" stroke-width="0.8" fill="none"/>
<rect x="232.5" y="202.4" width="171.50" height="138.30" fill="none" stroke="#555" stroke-width="1.05"/>
<text x="232.50" y="350.20" font-size="9.1" text-anchor="middle" fill="#222">0</text>
<text x="266.80" y="350.20" font-size="9.1" text-anchor="middle" fill="#222">3</text>
<text x="301.10" y="350.20" font-size="9.1" text-anchor="middle" fill="#222">6</text>
<text x="335.40" y="350.20" font-size="9.1" text-anchor="middle" fill="#222">9</text>
<text x="369.70" y="350.20" font-size="9.1" text-anchor="middle" fill="#222">12</text>
<text x="404.00" y="350.20" font-size="9.1" text-anchor="middle" fill="#222">15</text>
<text x="229.60" y="343.80" font-size="9.1" text-anchor="end" fill="#222">-25</text>
<text x="229.60" y="324.04" font-size="9.1" text-anchor="end" fill="#222">-20</text>
<text x="229.60" y="304.29" font-size="9.1" text-anchor="end" fill="#222">-15</text>
<text x="229.60" y="284.53" font-size="9.1" text-anchor="end" fill="#222">-10</text>
<text x="229.60" y="264.77" font-size="9.1" text-anchor="end" fill="#222">-5</text>
<text x="229.60" y="245.01" font-size="9.1" text-anchor="end" fill="#222">0</text>
<text x="229.60" y="225.26" font-size="9.1" text-anchor="end" fill="#222">5</text>
<text x="229.60" y="205.50" font-size="9.1" text-anchor="end" fill="#222">10</text>
<rect x="328.85" y="306.55" width="3.5" height="3.5" fill="#0a0a0a"/>
<path d="M330.60,317.92 L332.95,321.68 L328.25,321.68 Z" fill="#747474"/>
<circle cx="330.60" cy="330.70" r="2.2" fill="#bcbcbc"/>
<text x="341.80" y="311.20" font-size="8.3" textLength="56.2" lengthAdjust="spacingAndGlyphs" fill="#222">100 °C, no MW</text>
<text x="341.80" y="322.40" font-size="8.3" textLength="43.6" lengthAdjust="spacingAndGlyphs" fill="#222">50 W/60 °C</text>
<text x="341.80" y="333.60" font-size="8.3" textLength="47.9" lengthAdjust="spacingAndGlyphs" fill="#222">100 W/60 °C</text>
<text x="318.20" y="362.00" font-size="9.3" text-anchor="middle" textLength="70.5" lengthAdjust="spacingAndGlyphs" fill="#222">Drying time [min]</text>
<text x="215.20" y="271.30" font-size="9.3" text-anchor="middle" textLength="144.6" lengthAdjust="spacingAndGlyphs" transform="rotate(-90 215.2 271.3)" fill="#222">Normalized temperature gradient [%]</text>
<text x="201.50" y="373.60" font-size="12.5" fill="#222">e</text>
<text x="235.80" y="397.50" font-size="10" textLength="47.4" lengthAdjust="spacingAndGlyphs" fill="#222">Convection</text>
<text x="310.40" y="397.50" font-size="10" textLength="94.4" lengthAdjust="spacingAndGlyphs" fill="#222">Microwave-convection</text>
<defs><radialGradient id="gconv" cx="0.53" cy="0.54" r="0.53"><stop offset="0" stop-color="#1e64d0"/><stop offset="0.42" stop-color="#2466cc"/><stop offset="0.6" stop-color="#5a72cc"/><stop offset="0.74" stop-color="#a284c8"/><stop offset="0.84" stop-color="#d888b4"/><stop offset="0.9" stop-color="#ec6c84"/><stop offset="0.95" stop-color="#f4485a"/><stop offset="1" stop-color="#f23a4a"/></radialGradient><radialGradient id="gmw" cx="0.57" cy="0.5" r="0.56"><stop offset="0" stop-color="#f20818"/><stop offset="0.45" stop-color="#f01424"/><stop offset="0.75" stop-color="#ea4058"/><stop offset="1" stop-color="#e48ca0"/></radialGradient><radialGradient id="gmwL" cx="0.5" cy="0.5" r="0.5"><stop offset="0" stop-color="#ec2030"/><stop offset="0.7" stop-color="#ea2e40"/><stop offset="0.88" stop-color="#e45a72"/><stop offset="1" stop-color="#e48ca0"/></radialGradient><linearGradient id="gT" x1="0" y1="0" x2="1" y2="0"><stop offset="0" stop-color="#2462d0"/><stop offset="0.35" stop-color="#2e62c8"/><stop offset="0.6" stop-color="#9a70b8"/><stop offset="0.8" stop-color="#e64a68"/><stop offset="1" stop-color="#f00c24"/></linearGradient><clipPath id="ceL"><rect x="200" y="400" width="58.8" height="110"/></clipPath><clipPath id="ceR"><rect x="300" y="400" width="58.2" height="110"/></clipPath></defs>
<circle cx="259.0" cy="454.8" r="39.3" fill="url(#gconv)"/>
<g clip-path="url(#ceL)">
<circle cx="243.8" cy="428.4" r="5.9" fill="#fff" stroke="#74c8f4" stroke-width="1.1"/>
<circle cx="229.7" cy="442.5" r="5.9" fill="#fff" stroke="#74c8f4" stroke-width="1.1"/>
<circle cx="250.1" cy="442.2" r="5.9" fill="#fff" stroke="#74c8f4" stroke-width="1.1"/>
<circle cx="239.9" cy="455.0" r="5.9" fill="#fff" stroke="#74c8f4" stroke-width="1.1"/>
<circle cx="229.0" cy="467.6" r="5.9" fill="#fff" stroke="#74c8f4" stroke-width="1.1"/>
<circle cx="255.6" cy="464.4" r="5.9" fill="#fff" stroke="#74c8f4" stroke-width="1.1"/>
<circle cx="239.9" cy="477.4" r="5.9" fill="#fff" stroke="#74c8f4" stroke-width="1.1"/>
<circle cx="254.8" cy="484.8" r="5.9" fill="#fff" stroke="#74c8f4" stroke-width="1.1"/>
<path transform="translate(254.8,430.8) scale(0.6)" d="M-2.5,1.2 C-5,-0.8 -4.5,-5 -1.5,-5.2 C1,-5.3 1.5,-3 0,-2 C-1,-1.3 -2.5,-2 -2,-3 M-1.5,-1.3 C1,-2.3 3.5,-1.3 4.3,0.2 M-3.2,0.7 L-3,4.2 C-2,5.2 2,5 3,4.2 C4,3.2 3,2.2 1.5,2.4 L-2.5,2.7" fill="none" stroke="#6cccff" stroke-width="1.67"/>
<path transform="translate(240.0,441.8) scale(0.6)" d="M-2.5,1.2 C-5,-0.8 -4.5,-5 -1.5,-5.2 C1,-5.3 1.5,-3 0,-2 C-1,-1.3 -2.5,-2 -2,-3 M-1.5,-1.3 C1,-2.3 3.5,-1.3 4.3,0.2 M-3.2,0.7 L-3,4.2 C-2,5.2 2,5 3,4.2 C4,3.2 3,2.2 1.5,2.4 L-2.5,2.7" fill="none" stroke="#6cccff" stroke-width="1.67"/>
<path transform="translate(227.5,454.3) scale(0.6)" d="M-2.5,1.2 C-5,-0.8 -4.5,-5 -1.5,-5.2 C1,-5.3 1.5,-3 0,-2 C-1,-1.3 -2.5,-2 -2,-3 M-1.5,-1.3 C1,-2.3 3.5,-1.3 4.3,0.2 M-3.2,0.7 L-3,4.2 C-2,5.2 2,5 3,4.2 C4,3.2 3,2.2 1.5,2.4 L-2.5,2.7" fill="none" stroke="#6cccff" stroke-width="1.67"/>
<path transform="translate(252.5,453.5) scale(0.6)" d="M-2.5,1.2 C-5,-0.8 -4.5,-5 -1.5,-5.2 C1,-5.3 1.5,-3 0,-2 C-1,-1.3 -2.5,-2 -2,-3 M-1.5,-1.3 C1,-2.3 3.5,-1.3 4.3,0.2 M-3.2,0.7 L-3,4.2 C-2,5.2 2,5 3,4.2 C4,3.2 3,2.2 1.5,2.4 L-2.5,2.7" fill="none" stroke="#6cccff" stroke-width="1.67"/>
<path transform="translate(244.6,466.0) scale(0.6)" d="M-2.5,1.2 C-5,-0.8 -4.5,-5 -1.5,-5.2 C1,-5.3 1.5,-3 0,-2 C-1,-1.3 -2.5,-2 -2,-3 M-1.5,-1.3 C1,-2.3 3.5,-1.3 4.3,0.2 M-3.2,0.7 L-3,4.2 C-2,5.2 2,5 3,4.2 C4,3.2 3,2.2 1.5,2.4 L-2.5,2.7" fill="none" stroke="#6cccff" stroke-width="1.67"/>
<path transform="translate(235.0,450.8) scale(0.6)" d="M-2.5,1.2 C-5,-0.8 -4.5,-5 -1.5,-5.2 C1,-5.3 1.5,-3 0,-2 C-1,-1.3 -2.5,-2 -2,-3 M-1.5,-1.3 C1,-2.3 3.5,-1.3 4.3,0.2 M-3.2,0.7 L-3,4.2 C-2,5.2 2,5 3,4.2 C4,3.2 3,2.2 1.5,2.4 L-2.5,2.7" fill="none" stroke="#6cccff" stroke-width="1.67"/>
<path transform="translate(249.0,474.8) scale(0.6)" d="M-2.5,1.2 C-5,-0.8 -4.5,-5 -1.5,-5.2 C1,-5.3 1.5,-3 0,-2 C-1,-1.3 -2.5,-2 -2,-3 M-1.5,-1.3 C1,-2.3 3.5,-1.3 4.3,0.2 M-3.2,0.7 L-3,4.2 C-2,5.2 2,5 3,4.2 C4,3.2 3,2.2 1.5,2.4 L-2.5,2.7" fill="none" stroke="#6cccff" stroke-width="1.67"/>
</g>
<path d="M258.8,405.7 V499.5" stroke="#1a1a1a" stroke-width="0.9" stroke-dasharray="2.6,1.9"/>
<path d="M277.20,423.90 L277.73,423.71 L278.22,423.50 L278.65,423.26 L278.98,422.98 L279.20,422.65 L279.31,422.26 L279.31,421.83 L279.21,421.35 L279.04,420.84 L278.84,420.31 L278.64,419.79 L278.48,419.28 L278.38,418.80 L278.38,418.36 L278.48,417.98 L278.71,417.65 L279.04,417.36 L279.46,417.13 L279.96,416.92 L280.49,416.73 L281.02,416.54 L281.51,416.33 L281.94,416.09 L282.27,415.81 L282.49,415.48 L282.60,415.09 L282.59,414.65 L282.50,414.18 L282.33,413.67 L282.13,413.14 L281.93,412.61 L281.77,412.11 L281.67,411.63 L281.66,411.19 L281.77,410.81 L281.99,410.47 L282.33,410.19 L282.75,409.95 L283.25,409.75 L283.78,409.55" fill="none" stroke="#111" stroke-width="0.95" stroke-linecap="round"/>
<path d="M284.90,407.10 L285.13,411.16 L283.67,409.78 L281.67,409.58 Z" fill="#111"/>
<path d="M284.30,428.70 L284.86,428.61 L285.40,428.50 L285.87,428.34 L286.26,428.12 L286.55,427.83 L286.74,427.46 L286.83,427.02 L286.84,426.53 L286.79,425.98 L286.70,425.42 L286.62,424.85 L286.56,424.31 L286.57,423.81 L286.66,423.38 L286.85,423.01 L287.14,422.72 L287.53,422.50 L288.01,422.34 L288.54,422.23 L289.10,422.14 L289.67,422.05 L290.20,421.93 L290.67,421.78 L291.06,421.56 L291.35,421.27 L291.54,420.90 L291.63,420.46 L291.64,419.97 L291.59,419.42 L291.50,418.86 L291.42,418.29 L291.37,417.75 L291.38,417.25 L291.47,416.82 L291.66,416.45 L291.95,416.16 L292.34,415.94 L292.81,415.78 L293.34,415.67 L293.91,415.58" fill="none" stroke="#111" stroke-width="0.95" stroke-linecap="round"/>
<path d="M295.50,413.40 L294.91,417.43 L293.76,415.78 L291.84,415.18 Z" fill="#111"/>
<path d="M291.00,434.80 L291.56,434.76 L292.10,434.70 L292.57,434.59 L292.97,434.42 L293.28,434.16 L293.50,433.82 L293.62,433.40 L293.66,432.91 L293.65,432.37 L293.61,431.81 L293.56,431.25 L293.55,430.71 L293.60,430.22 L293.72,429.80 L293.93,429.46 L294.24,429.20 L294.64,429.02 L295.12,428.91 L295.65,428.85 L296.21,428.82 L296.78,428.78 L297.31,428.72 L297.79,428.61 L298.19,428.43 L298.50,428.18 L298.71,427.84 L298.83,427.41 L298.87,426.93 L298.86,426.39 L298.82,425.83 L298.78,425.26 L298.76,424.73 L298.81,424.24 L298.93,423.82 L299.14,423.48 L299.45,423.22 L299.85,423.04 L300.33,422.93 L300.86,422.87 L301.43,422.84" fill="none" stroke="#111" stroke-width="0.95" stroke-linecap="round"/>
<path d="M303.20,420.80 L302.27,424.76 L301.26,423.03 L299.40,422.27 Z" fill="#111"/>
<path d="M268.00,447.70 L268.35,447.70 L268.68,447.70 L269.00,447.67 L269.29,447.62 L269.54,447.54 L269.75,447.41 L269.92,447.25 L270.04,447.04 L270.12,446.80 L270.16,446.52 L270.17,446.21 L270.16,445.88 L270.13,445.53 L270.10,445.19 L270.08,444.85 L270.07,444.52 L270.09,444.22 L270.15,443.95 L270.24,443.72 L270.38,443.53 L270.56,443.38 L270.78,443.27 L271.05,443.20 L271.35,443.15 L271.67,443.14 L272.01,443.14 L272.36,443.14 L272.70,443.14 L273.04,443.13 L273.34,443.10 L273.62,443.04 L273.86,442.94 L274.05,442.80 L274.21,442.62 L274.31,442.40 L274.38,442.15 L274.41,441.86 L274.41,441.54 L274.39,441.20 L274.37,440.86" fill="none" stroke="#111" stroke-width="0.9" stroke-linecap="round"/>
<path d="M276.00,439.10 L275.07,442.60 L274.21,441.02 L272.58,440.29 Z" fill="#111"/>
<text x="276.60" y="436.30" font-size="11" textLength="7.4" lengthAdjust="spacingAndGlyphs" fill="#222">ṁ</text>
<text x="283.40" y="459.40" font-size="11" fill="#222">q̇</text>
<path d="M290.9,467.2 L276.5,460.7" stroke="#111" stroke-width="0.9"/><path d="M273.7,459.5 L278.2,459.6 L277.2,461.3 L276.6,463.2 Z" fill="#111"/>
<path d="M264.0,466.5 L271.3,490.6 L275.8,489.2 Z" fill="#0a0a0a"/>
<text x="267.20" y="500.60" font-size="9.5" textLength="19.3" lengthAdjust="spacingAndGlyphs" fill="#222">|ΔP|</text>
<circle cx="358.2" cy="453.8" r="39.0" fill="url(#gmw)"/>
<g clip-path="url(#ceR)"><circle cx="358.2" cy="453.8" r="39.0" fill="url(#gmwL)"/></g>
<g clip-path="url(#ceR)">
<circle cx="343.0" cy="427.4" r="5.9" fill="#fff" stroke="#74c8f4" stroke-width="1.1"/>
<circle cx="328.9" cy="441.5" r="5.9" fill="#fff" stroke="#74c8f4" stroke-width="1.1"/>
<circle cx="349.3" cy="441.2" r="5.9" fill="#fff" stroke="#74c8f4" stroke-width="1.1"/>
<circle cx="339.1" cy="454.0" r="5.9" fill="#fff" stroke="#74c8f4" stroke-width="1.1"/>
<circle cx="328.2" cy="466.6" r="5.9" fill="#fff" stroke="#74c8f4" stroke-width="1.1"/>
<circle cx="354.8" cy="463.4" r="5.9" fill="#fff" stroke="#74c8f4" stroke-width="1.1"/>
<circle cx="339.1" cy="476.4" r="5.9" fill="#fff" stroke="#74c8f4" stroke-width="1.1"/>
<circle cx="354.0" cy="483.8" r="5.9" fill="#fff" stroke="#74c8f4" stroke-width="1.1"/>
<path transform="translate(354.0,429.8) scale(0.6)" d="M-2.5,1.2 C-5,-0.8 -4.5,-5 -1.5,-5.2 C1,-5.3 1.5,-3 0,-2 C-1,-1.3 -2.5,-2 -2,-3 M-1.5,-1.3 C1,-2.3 3.5,-1.3 4.3,0.2 M-3.2,0.7 L-3,4.2 C-2,5.2 2,5 3,4.2 C4,3.2 3,2.2 1.5,2.4 L-2.5,2.7" fill="none" stroke="#6cccff" stroke-width="1.67"/>
<path transform="translate(339.2,440.8) scale(0.6)" d="M-2.5,1.2 C-5,-0.8 -4.5,-5 -1.5,-5.2 C1,-5.3 1.5,-3 0,-2 C-1,-1.3 -2.5,-2 -2,-3 M-1.5,-1.3 C1,-2.3 3.5,-1.3 4.3,0.2 M-3.2,0.7 L-3,4.2 C-2,5.2 2,5 3,4.2 C4,3.2 3,2.2 1.5,2.4 L-2.5,2.7" fill="none" stroke="#6cccff" stroke-width="1.67"/>
<path transform="translate(326.7,453.3) scale(0.6)" d="M-2.5,1.2 C-5,-0.8 -4.5,-5 -1.5,-5.2 C1,-5.3 1.5,-3 0,-2 C-1,-1.3 -2.5,-2 -2,-3 M-1.5,-1.3 C1,-2.3 3.5,-1.3 4.3,0.2 M-3.2,0.7 L-3,4.2 C-2,5.2 2,5 3,4.2 C4,3.2 3,2.2 1.5,2.4 L-2.5,2.7" fill="none" stroke="#6cccff" stroke-width="1.67"/>
<path transform="translate(351.7,452.5) scale(0.6)" d="M-2.5,1.2 C-5,-0.8 -4.5,-5 -1.5,-5.2 C1,-5.3 1.5,-3 0,-2 C-1,-1.3 -2.5,-2 -2,-3 M-1.5,-1.3 C1,-2.3 3.5,-1.3 4.3,0.2 M-3.2,0.7 L-3,4.2 C-2,5.2 2,5 3,4.2 C4,3.2 3,2.2 1.5,2.4 L-2.5,2.7" fill="none" stroke="#6cccff" stroke-width="1.67"/>
<path transform="translate(343.8,465.0) scale(0.6)" d="M-2.5,1.2 C-5,-0.8 -4.5,-5 -1.5,-5.2 C1,-5.3 1.5,-3 0,-2 C-1,-1.3 -2.5,-2 -2,-3 M-1.5,-1.3 C1,-2.3 3.5,-1.3 4.3,0.2 M-3.2,0.7 L-3,4.2 C-2,5.2 2,5 3,4.2 C4,3.2 3,2.2 1.5,2.4 L-2.5,2.7" fill="none" stroke="#6cccff" stroke-width="1.67"/>
<path transform="translate(334.2,449.8) scale(0.6)" d="M-2.5,1.2 C-5,-0.8 -4.5,-5 -1.5,-5.2 C1,-5.3 1.5,-3 0,-2 C-1,-1.3 -2.5,-2 -2,-3 M-1.5,-1.3 C1,-2.3 3.5,-1.3 4.3,0.2 M-3.2,0.7 L-3,4.2 C-2,5.2 2,5 3,4.2 C4,3.2 3,2.2 1.5,2.4 L-2.5,2.7" fill="none" stroke="#6cccff" stroke-width="1.67"/>
<path transform="translate(348.2,473.8) scale(0.6)" d="M-2.5,1.2 C-5,-0.8 -4.5,-5 -1.5,-5.2 C1,-5.3 1.5,-3 0,-2 C-1,-1.3 -2.5,-2 -2,-3 M-1.5,-1.3 C1,-2.3 3.5,-1.3 4.3,0.2 M-3.2,0.7 L-3,4.2 C-2,5.2 2,5 3,4.2 C4,3.2 3,2.2 1.5,2.4 L-2.5,2.7" fill="none" stroke="#6cccff" stroke-width="1.67"/>
</g>
<path d="M358.2,404.8 V499" stroke="#1a1a1a" stroke-width="0.9" stroke-dasharray="2.6,1.9"/>
<path d="M377.90,424.00 L378.42,423.77 L378.90,423.53 L379.31,423.27 L379.62,422.96 L379.82,422.62 L379.90,422.22 L379.87,421.79 L379.74,421.32 L379.54,420.82 L379.31,420.31 L379.08,419.79 L378.88,419.29 L378.75,418.82 L378.72,418.39 L378.80,418.00 L379.00,417.65 L379.31,417.34 L379.72,417.08 L380.20,416.84 L380.72,416.61 L381.24,416.39 L381.71,416.14 L382.12,415.88 L382.44,415.57 L382.64,415.23 L382.72,414.84 L382.69,414.40 L382.56,413.93 L382.36,413.43 L382.13,412.92 L381.89,412.40 L381.70,411.91 L381.57,411.43 L381.54,411.00 L381.62,410.61 L381.82,410.26 L382.13,409.96 L382.54,409.69 L383.02,409.45 L383.54,409.22" fill="none" stroke="#111" stroke-width="0.95" stroke-linecap="round"/>
<path d="M384.50,406.70 L384.99,410.74 L383.45,409.46 L381.44,409.39 Z" fill="#111"/>
<path d="M384.50,426.70 L385.04,426.67 L385.54,426.61 L385.99,426.51 L386.35,426.35 L386.62,426.11 L386.79,425.79 L386.87,425.40 L386.87,424.94 L386.80,424.43 L386.71,423.90 L386.61,423.38 L386.55,422.87 L386.54,422.41 L386.62,422.02 L386.79,421.70 L387.06,421.46 L387.43,421.30 L387.87,421.20 L388.38,421.14 L388.91,421.11 L389.45,421.08 L389.95,421.02 L390.40,420.92 L390.77,420.76 L391.04,420.52 L391.21,420.20 L391.28,419.80 L391.28,419.35 L391.21,418.84 L391.12,418.31 L391.03,417.79 L390.96,417.28 L390.96,416.82 L391.03,416.43 L391.20,416.11 L391.47,415.87 L391.84,415.71 L392.29,415.60 L392.79,415.55 L393.33,415.52" fill="none" stroke="#111" stroke-width="0.95" stroke-linecap="round"/>
<path d="M395.00,413.40 L394.26,417.40 L393.17,415.72 L391.28,415.05 Z" fill="#111"/>
<path d="M361.60,449.60 L362.11,449.45 L362.58,449.29 L363.00,449.09 L363.34,448.85 L363.57,448.55 L363.71,448.20 L363.74,447.78 L363.70,447.33 L363.59,446.83 L363.45,446.32 L363.32,445.81 L363.21,445.32 L363.17,444.86 L363.20,444.45 L363.34,444.09 L363.57,443.79 L363.91,443.55 L364.32,443.35 L364.80,443.19 L365.31,443.04 L365.82,442.90 L366.29,442.74 L366.71,442.54 L367.04,442.30 L367.28,442.00 L367.42,441.64 L367.45,441.23 L367.41,440.77 L367.30,440.28 L367.16,439.77 L367.03,439.26 L366.92,438.76 L366.88,438.31 L366.91,437.89 L367.05,437.54 L367.28,437.24 L367.62,436.99 L368.03,436.80 L368.51,436.63 L369.02,436.49" fill="none" stroke="#111" stroke-width="0.9" stroke-linecap="round"/>
<path d="M370.20,434.40 L370.10,438.02 L368.91,436.68 L367.14,436.35 Z" fill="#111"/>
<path d="M364.50,451.50 L365.03,451.46 L365.53,451.39 L365.98,451.27 L366.36,451.10 L366.65,450.85 L366.85,450.52 L366.97,450.13 L367.02,449.66 L367.01,449.16 L366.98,448.63 L366.95,448.10 L366.95,447.59 L366.99,447.13 L367.11,446.73 L367.32,446.41 L367.61,446.16 L367.99,445.98 L368.44,445.87 L368.94,445.80 L369.47,445.76 L369.99,445.71 L370.50,445.64 L370.94,445.53 L371.32,445.36 L371.61,445.11 L371.82,444.78 L371.94,444.38 L371.98,443.92 L371.98,443.42 L371.95,442.89 L371.92,442.36 L371.91,441.85 L371.96,441.39 L372.08,440.99 L372.28,440.67 L372.57,440.42 L372.95,440.24 L373.40,440.13 L373.90,440.06 L374.43,440.02" fill="none" stroke="#111" stroke-width="0.9" stroke-linecap="round"/>
<path d="M376.00,438.20 L375.19,441.73 L374.28,440.18 L372.62,439.51 Z" fill="#111"/>
<text x="372.60" y="434.60" font-size="11" textLength="7.4" lengthAdjust="spacingAndGlyphs" fill="#222">ṁ</text>
<text x="383.20" y="459.40" font-size="11" fill="#222">q̇</text>
<path d="M379.8,461.5 L384.8,464" stroke="#111" stroke-width="0.9"/><path d="M387.6,465.4 L383.4,465.6 L384.3,464 L384.5,462.1 Z" fill="#111"/>
<path d="M361.2,463.6 L370.3,489.2 L374.3,487.6 Z" fill="#0a0a0a"/>
<text x="366.40" y="499.80" font-size="9.5" textLength="19.1" lengthAdjust="spacingAndGlyphs" fill="#222">|ΔP|</text>
<path d="M272,517.1 L339,513.6 L339,520.4 Z" fill="url(#gT)"/>
<text x="306.60" y="531.60" font-size="10" font-weight="bold" fill="#222">T</text>
</svg>
</body></html>
